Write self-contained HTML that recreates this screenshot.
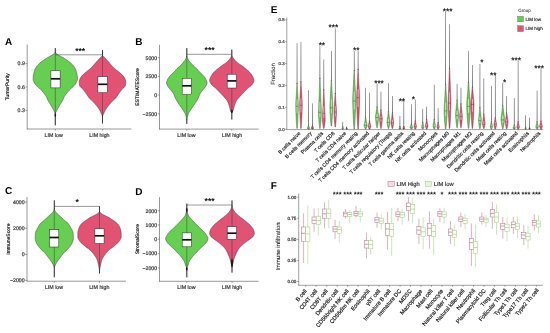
<!DOCTYPE html>
<html><head><meta charset="utf-8"><style>
html,body{margin:0;padding:0;background:#fff;}
svg{display:block;font-family:"Liberation Sans",sans-serif;text-rendering:geometricPrecision;will-change:transform;}
</style></head><body>
<svg width="550" height="333" viewBox="0 0 550 333">
<defs><linearGradient id="tg" x1="0" y1="0" x2="0" y2="1"><stop offset="0" stop-color="#6e6e6e"/><stop offset="1" stop-color="#3c3c3c"/></linearGradient></defs>
<rect width="550" height="333" fill="#fff"/>
<path d="M55.5,52.3 L56.03,53.18 L56.93,54.06 L58.21,54.94 L59.71,55.82 L61.39,56.71 L63.01,57.59 L64.44,58.47 L65.79,59.35 L67.06,60.23 L68.29,61.11 L69.46,61.99 L70.54,62.87 L71.51,63.76 L72.41,64.64 L73.21,65.52 L73.9,66.4 L74.53,67.28 L75.08,68.16 L75.52,69.04 L75.86,69.92 L76.15,70.8 L76.39,71.69 L76.62,72.57 L76.84,73.45 L77.04,74.33 L77.2,75.21 L77.31,76.09 L77.39,76.97 L77.45,77.85 L77.49,78.73 L77.48,79.62 L77.25,80.5 L76.88,81.38 L76.48,82.26 L76.02,83.14 L75.46,84.02 L74.81,84.9 L74.01,85.78 L73.13,86.67 L72.1,87.55 L71.07,88.43 L70.1,89.31 L69.19,90.19 L68.41,91.07 L67.72,91.95 L67.04,92.83 L66.38,93.71 L65.73,94.6 L65.06,95.48 L64.44,96.36 L63.97,97.24 L63.6,98.12 L63.25,99 L62.89,99.88 L62.46,100.76 L61.95,101.64 L61.39,102.53 L60.81,103.41 L60.24,104.29 L59.7,105.17 L59.19,106.05 L58.69,106.93 L58.2,107.81 L57.73,108.69 L57.26,109.58 L56.8,110.46 L56.36,111.34 L55.92,112.22 L55.5,113.1 L55.1,113.1 L54.68,112.22 L54.24,111.34 L53.8,110.46 L53.34,109.58 L52.87,108.69 L52.4,107.81 L51.91,106.93 L51.41,106.05 L50.9,105.17 L50.36,104.29 L49.79,103.41 L49.21,102.53 L48.65,101.64 L48.14,100.76 L47.71,99.88 L47.35,99 L47,98.12 L46.63,97.24 L46.16,96.36 L45.54,95.48 L44.87,94.6 L44.22,93.71 L43.56,92.83 L42.88,91.95 L42.19,91.07 L41.41,90.19 L40.5,89.31 L39.53,88.43 L38.5,87.55 L37.47,86.67 L36.59,85.78 L35.79,84.9 L35.14,84.02 L34.58,83.14 L34.12,82.26 L33.72,81.38 L33.35,80.5 L33.12,79.62 L33.11,78.73 L33.15,77.85 L33.21,76.97 L33.29,76.09 L33.4,75.21 L33.56,74.33 L33.76,73.45 L33.98,72.57 L34.21,71.69 L34.45,70.8 L34.74,69.92 L35.08,69.04 L35.52,68.16 L36.07,67.28 L36.7,66.4 L37.39,65.52 L38.19,64.64 L39.09,63.76 L40.06,62.87 L41.14,61.99 L42.31,61.11 L43.54,60.23 L44.81,59.35 L46.16,58.47 L47.59,57.59 L49.21,56.71 L50.89,55.82 L52.39,54.94 L53.67,54.06 L54.57,53.18 L55.1,52.3Z" fill="#66CF52" stroke="#333" stroke-width="0.45"/>
<line x1="55.3" y1="48.1" x2="55.3" y2="125.3" stroke="#333" stroke-width="0.45"/>
<line x1="55.3" y1="48.1" x2="55.3" y2="52.8" stroke="#222" stroke-width="0.8"/>
<line x1="55.3" y1="112.6" x2="55.3" y2="125.3" stroke="#222" stroke-width="0.8"/>
<path d="M55.6,113.4 L55.73,113.58 L55.85,113.77 L55.95,113.95 L56.04,114.14 L56.09,114.32 L56.1,114.51 L56.1,114.69 L56.1,114.87 L56.09,115.06 L56.08,115.24 L56.07,115.43 L56.04,115.61 L56.01,115.79 L55.97,115.98 L55.91,116.16 L55.84,116.35 L55.76,116.53 L55.66,116.72 L55.55,116.9 L55.05,116.9 L54.94,116.72 L54.84,116.53 L54.76,116.35 L54.69,116.16 L54.63,115.98 L54.59,115.79 L54.56,115.61 L54.53,115.43 L54.52,115.24 L54.51,115.06 L54.5,114.87 L54.5,114.69 L54.5,114.51 L54.51,114.32 L54.56,114.14 L54.65,113.95 L54.75,113.77 L54.87,113.58 L55,113.4Z" fill="#1a0a0c" fill-opacity="0.85"/>
<rect x="50.9" y="70.8" width="9.2" height="17.1" fill="#fff" stroke="#222" stroke-width="0.5"/>
<line x1="50.9" y1="78.8" x2="60.1" y2="78.8" stroke="#111" stroke-width="1.7"/>
<path d="M102.7,55.7 L103.59,56.57 L104.44,57.44 L105.25,58.31 L106.03,59.18 L106.84,60.06 L107.69,60.93 L108.52,61.8 L109.26,62.67 L109.96,63.54 L110.68,64.41 L111.44,65.28 L112.24,66.15 L113.07,67.02 L113.94,67.89 L114.87,68.77 L115.93,69.64 L117.05,70.51 L118.14,71.38 L119.23,72.25 L120.27,73.12 L121.24,73.99 L122.18,74.86 L123.02,75.73 L123.7,76.6 L124.3,77.48 L124.79,78.35 L125.18,79.22 L125.55,80.09 L125.78,80.96 L125.79,81.83 L125.76,82.7 L125.71,83.57 L125.62,84.44 L125.51,85.31 L125.14,86.19 L124.4,87.06 L123.59,87.93 L122.62,88.8 L121.75,89.67 L121.02,90.54 L120.35,91.41 L119.72,92.28 L119.11,93.15 L118.51,94.02 L117.93,94.9 L117.36,95.77 L116.78,96.64 L116.17,97.51 L115.38,98.38 L114.44,99.25 L113.48,100.12 L112.62,100.99 L111.79,101.86 L110.97,102.73 L110.19,103.61 L109.43,104.48 L108.72,105.35 L108.02,106.22 L107.34,107.09 L106.7,107.96 L106.11,108.83 L105.58,109.7 L105.11,110.57 L104.68,111.44 L104.27,112.32 L103.87,113.19 L103.47,114.06 L103.08,114.93 L102.7,115.8 L102.3,115.8 L101.92,114.93 L101.53,114.06 L101.13,113.19 L100.73,112.32 L100.32,111.44 L99.89,110.57 L99.42,109.7 L98.89,108.83 L98.3,107.96 L97.66,107.09 L96.98,106.22 L96.28,105.35 L95.57,104.48 L94.81,103.61 L94.03,102.73 L93.21,101.86 L92.38,100.99 L91.52,100.12 L90.56,99.25 L89.62,98.38 L88.83,97.51 L88.22,96.64 L87.64,95.77 L87.07,94.9 L86.49,94.02 L85.89,93.15 L85.28,92.28 L84.65,91.41 L83.98,90.54 L83.25,89.67 L82.38,88.8 L81.41,87.93 L80.6,87.06 L79.86,86.19 L79.49,85.31 L79.38,84.44 L79.29,83.57 L79.24,82.7 L79.21,81.83 L79.22,80.96 L79.45,80.09 L79.82,79.22 L80.21,78.35 L80.7,77.48 L81.3,76.6 L81.98,75.73 L82.82,74.86 L83.76,73.99 L84.73,73.12 L85.77,72.25 L86.86,71.38 L87.95,70.51 L89.07,69.64 L90.13,68.77 L91.06,67.89 L91.93,67.02 L92.76,66.15 L93.56,65.28 L94.32,64.41 L95.04,63.54 L95.74,62.67 L96.48,61.8 L97.31,60.93 L98.16,60.06 L98.97,59.18 L99.75,58.31 L100.56,57.44 L101.41,56.57 L102.3,55.7Z" fill="#E25272" stroke="#333" stroke-width="0.45"/>
<line x1="102.5" y1="50.1" x2="102.5" y2="123.5" stroke="#333" stroke-width="0.45"/>
<line x1="102.5" y1="50.1" x2="102.5" y2="56.2" stroke="#222" stroke-width="0.8"/>
<line x1="102.5" y1="115.3" x2="102.5" y2="123.5" stroke="#222" stroke-width="0.8"/>
<rect x="97.9" y="76.7" width="9.5" height="16" fill="#fff" stroke="#222" stroke-width="0.5"/>
<line x1="97.9" y1="84.3" x2="107.4" y2="84.3" stroke="#111" stroke-width="1.7"/>
<text x="5" y="44.6" font-size="10" text-anchor="start" fill="#000" font-weight="bold">A</text>
<line x1="27.2" y1="44.5" x2="27.2" y2="129.25" stroke="#444" stroke-width="0.55"/>
<line x1="26.95" y1="129" x2="131.5" y2="129" stroke="#444" stroke-width="0.55"/>
<line x1="25.4" y1="63.6" x2="27.2" y2="63.6" stroke="#444" stroke-width="0.5"/>
<text x="24.8" y="65.4" font-size="5.2" text-anchor="end" fill="#333" font-weight="normal" stroke="#333" stroke-width="0.18">0.9</text>
<line x1="25.4" y1="87" x2="27.2" y2="87" stroke="#444" stroke-width="0.5"/>
<text x="24.8" y="88.8" font-size="5.2" text-anchor="end" fill="#333" font-weight="normal" stroke="#333" stroke-width="0.18">0.6</text>
<line x1="25.4" y1="110.4" x2="27.2" y2="110.4" stroke="#444" stroke-width="0.5"/>
<text x="24.8" y="112.2" font-size="5.2" text-anchor="end" fill="#333" font-weight="normal" stroke="#333" stroke-width="0.18">0.3</text>
<line x1="55.3" y1="129" x2="55.3" y2="130.6" stroke="#444" stroke-width="0.5"/>
<text x="53.7" y="136.8" font-size="5.3" text-anchor="middle" fill="#333" font-weight="normal" stroke="#333" stroke-width="0.18">LIM low</text>
<line x1="102.5" y1="129" x2="102.5" y2="130.6" stroke="#444" stroke-width="0.5"/>
<text x="99.4" y="136.8" font-size="5.3" text-anchor="middle" fill="#333" font-weight="normal" stroke="#333" stroke-width="0.18">LIM high</text>
<text x="9" y="86.75" font-size="5.0" text-anchor="middle" fill="#111" font-weight="normal" stroke="#111" stroke-width="0.18" transform="rotate(-90 9 86.75)">TumorPurity</text>
<line x1="55.3" y1="54.8" x2="102.5" y2="54.8" stroke="#333" stroke-width="0.5"/>
<text x="80.2" y="53.59" font-size="8.6" text-anchor="middle" fill="#111" font-weight="bold">***</text>
<path d="M187,56.6 L187.28,57.52 L187.66,58.43 L188.12,59.35 L188.64,60.27 L189.32,61.19 L190.06,62.1 L190.82,63.02 L191.64,63.94 L192.49,64.86 L193.37,65.77 L194.37,66.69 L195.49,67.61 L196.55,68.53 L197.36,69.44 L197.99,70.36 L198.83,71.28 L199.84,72.2 L200.89,73.11 L201.84,74.03 L202.67,74.95 L203.48,75.87 L204.26,76.78 L204.96,77.7 L205.55,78.62 L206.01,79.53 L206.43,80.45 L206.8,81.37 L207.05,82.29 L207.08,83.2 L206.85,84.12 L206.44,85.04 L205.94,85.96 L205.42,86.87 L204.73,87.79 L203.93,88.71 L203.11,89.63 L202.37,90.54 L201.68,91.46 L200.99,92.38 L200.35,93.3 L199.8,94.21 L199.37,95.13 L199.05,96.05 L198.71,96.97 L198.32,97.88 L197.89,98.8 L197.42,99.72 L196.92,100.63 L196.37,101.55 L195.75,102.47 L195.12,103.39 L194.47,104.3 L193.85,105.22 L193.23,106.14 L192.61,107.06 L191.99,107.97 L191.39,108.89 L190.8,109.81 L190.19,110.73 L189.58,111.64 L189.01,112.56 L188.53,113.48 L188.15,114.4 L187.83,115.31 L187.57,116.23 L187.37,117.15 L187.21,118.07 L187.08,118.98 L187,119.9 L186.6,119.9 L186.52,118.98 L186.39,118.07 L186.23,117.15 L186.03,116.23 L185.77,115.31 L185.45,114.4 L185.07,113.48 L184.59,112.56 L184.02,111.64 L183.41,110.73 L182.8,109.81 L182.21,108.89 L181.61,107.97 L180.99,107.06 L180.37,106.14 L179.75,105.22 L179.13,104.3 L178.48,103.39 L177.85,102.47 L177.23,101.55 L176.68,100.63 L176.18,99.72 L175.71,98.8 L175.28,97.88 L174.89,96.97 L174.55,96.05 L174.23,95.13 L173.8,94.21 L173.25,93.3 L172.61,92.38 L171.92,91.46 L171.23,90.54 L170.49,89.63 L169.67,88.71 L168.87,87.79 L168.18,86.87 L167.66,85.96 L167.16,85.04 L166.75,84.12 L166.52,83.2 L166.55,82.29 L166.8,81.37 L167.17,80.45 L167.59,79.53 L168.05,78.62 L168.64,77.7 L169.34,76.78 L170.12,75.87 L170.93,74.95 L171.76,74.03 L172.71,73.11 L173.76,72.2 L174.77,71.28 L175.61,70.36 L176.24,69.44 L177.05,68.53 L178.11,67.61 L179.23,66.69 L180.23,65.77 L181.11,64.86 L181.96,63.94 L182.78,63.02 L183.54,62.1 L184.28,61.19 L184.96,60.27 L185.48,59.35 L185.94,58.43 L186.32,57.52 L186.6,56.6Z" fill="#66CF52" stroke="#333" stroke-width="0.45"/>
<line x1="186.8" y1="48.1" x2="186.8" y2="123.9" stroke="#333" stroke-width="0.45"/>
<line x1="186.8" y1="48.1" x2="186.8" y2="57.1" stroke="#222" stroke-width="0.8"/>
<line x1="186.8" y1="119.4" x2="186.8" y2="123.9" stroke="#222" stroke-width="0.8"/>
<rect x="182.2" y="78.3" width="9.2" height="16.3" fill="#fff" stroke="#222" stroke-width="0.5"/>
<line x1="182.2" y1="85.8" x2="191.4" y2="85.8" stroke="#111" stroke-width="1.7"/>
<path d="M232,55.9 L232.37,56.72 L232.83,57.55 L233.39,58.37 L234.05,59.19 L234.73,60.02 L235.44,60.84 L236.23,61.66 L237.16,62.49 L238.28,63.31 L239.53,64.13 L240.79,64.96 L241.97,65.78 L243.04,66.6 L244.06,67.42 L245.08,68.25 L246.16,69.07 L247.25,69.89 L248.15,70.72 L248.99,71.54 L249.79,72.36 L250.52,73.19 L251.17,74.01 L251.73,74.83 L252.19,75.66 L252.65,76.48 L253.08,77.3 L253.46,78.13 L253.77,78.95 L253.95,79.77 L253.99,80.6 L253.83,81.42 L253.5,82.24 L253.05,83.07 L252.53,83.89 L251.98,84.71 L251.19,85.53 L250.22,86.36 L249.17,87.18 L248.15,88 L247.26,88.83 L246.44,89.65 L245.65,90.47 L244.86,91.3 L244.08,92.12 L243.28,92.94 L242.47,93.77 L241.67,94.59 L240.88,95.41 L240.13,96.24 L239.41,97.06 L238.67,97.88 L237.95,98.71 L237.28,99.53 L236.69,100.35 L236.21,101.18 L235.81,102 L235.45,102.82 L235.13,103.64 L234.84,104.47 L234.57,105.29 L234.32,106.11 L234.11,106.94 L233.92,107.76 L233.72,108.58 L233.49,109.41 L233.22,110.23 L232.86,111.05 L232.45,111.88 L232,112.7 L231.6,112.7 L231.15,111.88 L230.74,111.05 L230.38,110.23 L230.11,109.41 L229.88,108.58 L229.68,107.76 L229.49,106.94 L229.28,106.11 L229.03,105.29 L228.76,104.47 L228.47,103.64 L228.15,102.82 L227.79,102 L227.39,101.18 L226.91,100.35 L226.32,99.53 L225.65,98.71 L224.93,97.88 L224.19,97.06 L223.47,96.24 L222.72,95.41 L221.93,94.59 L221.13,93.77 L220.32,92.94 L219.52,92.12 L218.74,91.3 L217.95,90.47 L217.16,89.65 L216.34,88.83 L215.45,88 L214.43,87.18 L213.38,86.36 L212.41,85.53 L211.62,84.71 L211.07,83.89 L210.55,83.07 L210.1,82.24 L209.77,81.42 L209.61,80.6 L209.65,79.77 L209.83,78.95 L210.14,78.13 L210.52,77.3 L210.95,76.48 L211.41,75.66 L211.87,74.83 L212.43,74.01 L213.08,73.19 L213.81,72.36 L214.61,71.54 L215.45,70.72 L216.35,69.89 L217.44,69.07 L218.52,68.25 L219.54,67.42 L220.56,66.6 L221.63,65.78 L222.81,64.96 L224.07,64.13 L225.32,63.31 L226.44,62.49 L227.37,61.66 L228.16,60.84 L228.87,60.02 L229.55,59.19 L230.21,58.37 L230.77,57.55 L231.23,56.72 L231.6,55.9Z" fill="#E25272" stroke="#333" stroke-width="0.45"/>
<line x1="231.8" y1="49.6" x2="231.8" y2="119.5" stroke="#333" stroke-width="0.45"/>
<line x1="231.8" y1="49.6" x2="231.8" y2="56.4" stroke="#222" stroke-width="0.8"/>
<line x1="231.8" y1="112.2" x2="231.8" y2="119.5" stroke="#222" stroke-width="0.8"/>
<path d="M232.1,109.8 L232.3,109.97 L232.5,110.14 L232.67,110.31 L232.8,110.47 L232.88,110.64 L232.9,110.81 L232.9,110.98 L232.9,111.15 L232.89,111.32 L232.87,111.48 L232.85,111.65 L232.81,111.82 L232.76,111.99 L232.69,112.16 L232.61,112.33 L232.51,112.49 L232.38,112.66 L232.23,112.83 L232.05,113 L231.55,113 L231.37,112.83 L231.22,112.66 L231.09,112.49 L230.99,112.33 L230.91,112.16 L230.84,111.99 L230.79,111.82 L230.75,111.65 L230.73,111.48 L230.71,111.32 L230.7,111.15 L230.7,110.98 L230.7,110.81 L230.72,110.64 L230.8,110.47 L230.93,110.31 L231.1,110.14 L231.3,109.97 L231.5,109.8Z" fill="#1a0a0c" fill-opacity="0.85"/>
<rect x="227.2" y="74.2" width="9.2" height="13.8" fill="#fff" stroke="#222" stroke-width="0.5"/>
<line x1="227.2" y1="80.9" x2="236.4" y2="80.9" stroke="#111" stroke-width="1.7"/>
<text x="135.2" y="44.6" font-size="10" text-anchor="start" fill="#000" font-weight="bold">B</text>
<line x1="159.5" y1="44.8" x2="159.5" y2="129.35" stroke="#444" stroke-width="0.55"/>
<line x1="159.25" y1="129.1" x2="258.6" y2="129.1" stroke="#444" stroke-width="0.55"/>
<line x1="157.7" y1="57.7" x2="159.5" y2="57.7" stroke="#444" stroke-width="0.5"/>
<text x="157.1" y="59.5" font-size="5.2" text-anchor="end" fill="#333" font-weight="normal" stroke="#333" stroke-width="0.18">5000</text>
<line x1="157.7" y1="76.4" x2="159.5" y2="76.4" stroke="#444" stroke-width="0.5"/>
<text x="157.1" y="78.2" font-size="5.2" text-anchor="end" fill="#333" font-weight="normal" stroke="#333" stroke-width="0.18">2500</text>
<line x1="157.7" y1="95.1" x2="159.5" y2="95.1" stroke="#444" stroke-width="0.5"/>
<text x="157.1" y="96.9" font-size="5.2" text-anchor="end" fill="#333" font-weight="normal" stroke="#333" stroke-width="0.18">0</text>
<line x1="157.7" y1="113.8" x2="159.5" y2="113.8" stroke="#444" stroke-width="0.5"/>
<text x="157.1" y="115.6" font-size="5.2" text-anchor="end" fill="#333" font-weight="normal" stroke="#333" stroke-width="0.18">−2500</text>
<line x1="186.8" y1="129.1" x2="186.8" y2="130.7" stroke="#444" stroke-width="0.5"/>
<text x="186.4" y="136.9" font-size="5.3" text-anchor="middle" fill="#333" font-weight="normal" stroke="#333" stroke-width="0.18">LIM low</text>
<line x1="231.8" y1="129.1" x2="231.8" y2="130.7" stroke="#444" stroke-width="0.5"/>
<text x="232" y="136.9" font-size="5.3" text-anchor="middle" fill="#333" font-weight="normal" stroke="#333" stroke-width="0.18">LIM high</text>
<text x="138.8" y="86.95" font-size="5.0" text-anchor="middle" fill="#111" font-weight="normal" stroke="#111" stroke-width="0.18" transform="rotate(-90 138.8 86.95)">ESTIMATEScore</text>
<line x1="186.8" y1="54.3" x2="231.8" y2="54.3" stroke="#333" stroke-width="0.5"/>
<text x="209.6" y="53.29" font-size="8.6" text-anchor="middle" fill="#111" font-weight="bold">***</text>
<path d="M54.5,208.8 L54.63,209.64 L54.93,210.48 L55.32,211.33 L55.84,212.17 L56.62,213.01 L57.45,213.85 L58.39,214.69 L59.37,215.54 L60.32,216.38 L61.26,217.22 L62.17,218.06 L63,218.9 L63.82,219.75 L64.7,220.59 L65.77,221.43 L66.89,222.27 L67.81,223.11 L68.51,223.96 L69.13,224.8 L69.68,225.64 L70.19,226.48 L70.65,227.32 L71.08,228.17 L71.52,229.01 L71.97,229.85 L72.4,230.69 L72.77,231.53 L73.04,232.38 L73.19,233.22 L73.25,234.06 L73.3,234.9 L73.34,235.74 L73.37,236.59 L73.39,237.43 L73.4,238.27 L73.36,239.11 L73.2,239.96 L72.97,240.8 L72.67,241.64 L72.33,242.48 L71.97,243.32 L71.58,244.17 L71.08,245.01 L70.49,245.85 L69.84,246.69 L69.14,247.53 L68.44,248.38 L67.64,249.22 L66.75,250.06 L65.83,250.9 L64.93,251.74 L64.12,252.59 L63.39,253.43 L62.7,254.27 L62.04,255.11 L61.4,255.95 L60.76,256.8 L60.11,257.64 L59.46,258.48 L58.82,259.32 L58.2,260.16 L57.62,261.01 L57.08,261.85 L56.58,262.69 L56.11,263.53 L55.66,264.37 L55.24,265.22 L54.86,266.06 L54.5,266.9 L54.1,266.9 L53.74,266.06 L53.36,265.22 L52.94,264.37 L52.49,263.53 L52.02,262.69 L51.52,261.85 L50.98,261.01 L50.4,260.16 L49.78,259.32 L49.14,258.48 L48.49,257.64 L47.84,256.8 L47.2,255.95 L46.56,255.11 L45.9,254.27 L45.21,253.43 L44.48,252.59 L43.67,251.74 L42.77,250.9 L41.85,250.06 L40.96,249.22 L40.16,248.38 L39.46,247.53 L38.76,246.69 L38.11,245.85 L37.52,245.01 L37.02,244.17 L36.63,243.32 L36.27,242.48 L35.93,241.64 L35.63,240.8 L35.4,239.96 L35.24,239.11 L35.2,238.27 L35.21,237.43 L35.23,236.59 L35.26,235.74 L35.3,234.9 L35.35,234.06 L35.41,233.22 L35.56,232.38 L35.83,231.53 L36.2,230.69 L36.63,229.85 L37.08,229.01 L37.52,228.17 L37.95,227.32 L38.41,226.48 L38.92,225.64 L39.47,224.8 L40.09,223.96 L40.79,223.11 L41.71,222.27 L42.83,221.43 L43.9,220.59 L44.78,219.75 L45.6,218.9 L46.43,218.06 L47.34,217.22 L48.28,216.38 L49.23,215.54 L50.21,214.69 L51.15,213.85 L51.98,213.01 L52.76,212.17 L53.28,211.33 L53.67,210.48 L53.97,209.64 L54.1,208.8Z" fill="#66CF52" stroke="#333" stroke-width="0.45"/>
<line x1="54.3" y1="200.3" x2="54.3" y2="277.3" stroke="#333" stroke-width="0.45"/>
<line x1="54.3" y1="200.3" x2="54.3" y2="209.3" stroke="#222" stroke-width="0.8"/>
<line x1="54.3" y1="266.4" x2="54.3" y2="277.3" stroke="#222" stroke-width="0.8"/>
<rect x="49.6" y="229.7" width="9.2" height="17.3" fill="#fff" stroke="#222" stroke-width="0.5"/>
<line x1="49.6" y1="237.5" x2="58.8" y2="237.5" stroke="#111" stroke-width="1.7"/>
<path d="M99.7,211.7 L100.27,212.54 L101.17,213.39 L102.47,214.23 L103.98,215.07 L105.67,215.92 L107.54,216.76 L109.08,217.6 L110.43,218.45 L111.67,219.29 L112.85,220.13 L114.04,220.98 L115.22,221.82 L116.32,222.67 L117.28,223.51 L118.02,224.35 L118.63,225.2 L119.17,226.04 L119.63,226.88 L120.01,227.73 L120.28,228.57 L120.52,229.41 L120.75,230.26 L120.94,231.1 L121.09,231.94 L121.18,232.79 L121.2,233.63 L121.2,234.47 L121.2,235.32 L121.2,236.16 L121.2,237 L121.16,237.85 L120.81,238.69 L120.29,239.53 L119.77,240.38 L119.21,241.22 L118.56,242.07 L117.82,242.91 L116.93,243.75 L115.94,244.6 L114.89,245.44 L113.84,246.28 L112.78,247.13 L111.65,247.97 L110.52,248.81 L109.44,249.66 L108.5,250.5 L107.67,251.34 L106.91,252.19 L106.19,253.03 L105.52,253.87 L104.9,254.72 L104.31,255.56 L103.72,256.4 L103.16,257.25 L102.66,258.09 L102.23,258.93 L101.9,259.78 L101.63,260.62 L101.39,261.47 L101.18,262.31 L100.99,263.15 L100.8,264 L100.62,264.84 L100.44,265.68 L100.27,266.53 L100.11,267.37 L99.96,268.21 L99.83,269.06 L99.7,269.9 L99.3,269.9 L99.17,269.06 L99.04,268.21 L98.89,267.37 L98.73,266.53 L98.56,265.68 L98.38,264.84 L98.2,264 L98.01,263.15 L97.82,262.31 L97.61,261.47 L97.37,260.62 L97.1,259.78 L96.77,258.93 L96.34,258.09 L95.84,257.25 L95.28,256.4 L94.69,255.56 L94.1,254.72 L93.48,253.87 L92.81,253.03 L92.09,252.19 L91.33,251.34 L90.5,250.5 L89.56,249.66 L88.48,248.81 L87.35,247.97 L86.22,247.13 L85.16,246.28 L84.11,245.44 L83.06,244.6 L82.07,243.75 L81.18,242.91 L80.44,242.07 L79.79,241.22 L79.23,240.38 L78.71,239.53 L78.19,238.69 L77.84,237.85 L77.8,237 L77.8,236.16 L77.8,235.32 L77.8,234.47 L77.8,233.63 L77.82,232.79 L77.91,231.94 L78.06,231.1 L78.25,230.26 L78.48,229.41 L78.72,228.57 L78.99,227.73 L79.37,226.88 L79.83,226.04 L80.37,225.2 L80.98,224.35 L81.72,223.51 L82.68,222.67 L83.78,221.82 L84.96,220.98 L86.15,220.13 L87.33,219.29 L88.57,218.45 L89.92,217.6 L91.46,216.76 L93.33,215.92 L95.02,215.07 L96.53,214.23 L97.83,213.39 L98.73,212.54 L99.3,211.7Z" fill="#E25272" stroke="#333" stroke-width="0.45"/>
<line x1="99.5" y1="206.3" x2="99.5" y2="273.5" stroke="#333" stroke-width="0.45"/>
<line x1="99.5" y1="206.3" x2="99.5" y2="212.2" stroke="#222" stroke-width="0.8"/>
<line x1="99.5" y1="269.4" x2="99.5" y2="273.5" stroke="#222" stroke-width="0.8"/>
<rect x="94.9" y="228.8" width="9.2" height="14.7" fill="#fff" stroke="#222" stroke-width="0.5"/>
<line x1="94.9" y1="235.8" x2="104.1" y2="235.8" stroke="#111" stroke-width="1.7"/>
<text x="5" y="194.2" font-size="10" text-anchor="start" fill="#000" font-weight="bold">C</text>
<line x1="27" y1="197.1" x2="27" y2="281.45" stroke="#444" stroke-width="0.55"/>
<line x1="26.75" y1="281.2" x2="126" y2="281.2" stroke="#444" stroke-width="0.55"/>
<line x1="25.2" y1="202.2" x2="27" y2="202.2" stroke="#444" stroke-width="0.5"/>
<text x="24.6" y="204" font-size="5.2" text-anchor="end" fill="#333" font-weight="normal" stroke="#333" stroke-width="0.18">4000</text>
<line x1="25.2" y1="228.3" x2="27" y2="228.3" stroke="#444" stroke-width="0.5"/>
<text x="24.6" y="230.1" font-size="5.2" text-anchor="end" fill="#333" font-weight="normal" stroke="#333" stroke-width="0.18">2000</text>
<line x1="25.2" y1="254.4" x2="27" y2="254.4" stroke="#444" stroke-width="0.5"/>
<text x="24.6" y="256.2" font-size="5.2" text-anchor="end" fill="#333" font-weight="normal" stroke="#333" stroke-width="0.18">0</text>
<line x1="25.2" y1="280.3" x2="27" y2="280.3" stroke="#444" stroke-width="0.5"/>
<text x="24.6" y="282.1" font-size="5.2" text-anchor="end" fill="#333" font-weight="normal" stroke="#333" stroke-width="0.18">−2000</text>
<line x1="54.3" y1="281.2" x2="54.3" y2="282.8" stroke="#444" stroke-width="0.5"/>
<text x="54" y="289" font-size="5.3" text-anchor="middle" fill="#333" font-weight="normal" stroke="#333" stroke-width="0.18">LIM low</text>
<line x1="99.5" y1="281.2" x2="99.5" y2="282.8" stroke="#444" stroke-width="0.5"/>
<text x="99.3" y="289" font-size="5.3" text-anchor="middle" fill="#333" font-weight="normal" stroke="#333" stroke-width="0.18">LIM high</text>
<text x="9.6" y="239.15" font-size="5.0" text-anchor="middle" fill="#111" font-weight="normal" stroke="#111" stroke-width="0.18" transform="rotate(-90 9.6 239.15)">ImmuneScore</text>
<line x1="54.3" y1="206.4" x2="99.5" y2="206.4" stroke="#333" stroke-width="0.5"/>
<text x="77.2" y="205.39" font-size="8.6" text-anchor="middle" fill="#111" font-weight="bold">*</text>
<path d="M187,210.8 L187.22,211.62 L187.44,212.44 L187.67,213.27 L187.89,214.09 L188.15,214.91 L188.52,215.73 L189.09,216.55 L189.77,217.37 L190.46,218.2 L191.17,219.02 L191.93,219.84 L192.71,220.66 L193.5,221.48 L194.28,222.3 L195.07,223.13 L195.86,223.95 L196.67,224.77 L197.49,225.59 L198.32,226.41 L199.15,227.23 L200,228.06 L200.89,228.88 L201.85,229.7 L202.73,230.52 L203.54,231.34 L204.32,232.17 L205.03,232.99 L205.65,233.81 L206.17,234.63 L206.68,235.45 L207.17,236.27 L207.59,237.1 L207.88,237.92 L208,238.74 L207.89,239.56 L207.58,240.38 L207.14,241.2 L206.63,242.03 L206.1,242.85 L205.4,243.67 L204.57,244.49 L203.68,245.31 L202.78,246.13 L201.92,246.96 L201.04,247.78 L200.16,248.6 L199.28,249.42 L198.44,250.24 L197.7,251.07 L197.03,251.89 L196.29,252.71 L195.37,253.53 L194.44,254.35 L193.69,255.17 L193.04,256 L192.43,256.82 L191.83,257.64 L191.22,258.46 L190.62,259.28 L190.07,260.1 L189.58,260.93 L189.19,261.75 L188.89,262.57 L188.64,263.39 L188.41,264.21 L188.16,265.03 L187.86,265.86 L187.47,266.68 L187,267.5 L186.6,267.5 L186.13,266.68 L185.74,265.86 L185.44,265.03 L185.19,264.21 L184.96,263.39 L184.71,262.57 L184.41,261.75 L184.02,260.93 L183.53,260.1 L182.98,259.28 L182.38,258.46 L181.77,257.64 L181.17,256.82 L180.56,256 L179.91,255.17 L179.16,254.35 L178.23,253.53 L177.31,252.71 L176.57,251.89 L175.9,251.07 L175.16,250.24 L174.32,249.42 L173.44,248.6 L172.56,247.78 L171.68,246.96 L170.82,246.13 L169.92,245.31 L169.03,244.49 L168.2,243.67 L167.5,242.85 L166.97,242.03 L166.46,241.2 L166.02,240.38 L165.71,239.56 L165.6,238.74 L165.72,237.92 L166.01,237.1 L166.43,236.27 L166.92,235.45 L167.43,234.63 L167.95,233.81 L168.57,232.99 L169.28,232.17 L170.06,231.34 L170.87,230.52 L171.75,229.7 L172.71,228.88 L173.6,228.06 L174.45,227.23 L175.28,226.41 L176.11,225.59 L176.93,224.77 L177.74,223.95 L178.53,223.13 L179.32,222.3 L180.1,221.48 L180.89,220.66 L181.67,219.84 L182.43,219.02 L183.14,218.2 L183.83,217.37 L184.51,216.55 L185.08,215.73 L185.45,214.91 L185.71,214.09 L185.93,213.27 L186.16,212.44 L186.38,211.62 L186.6,210.8Z" fill="#66CF52" stroke="#333" stroke-width="0.45"/>
<line x1="186.8" y1="203.6" x2="186.8" y2="277.3" stroke="#333" stroke-width="0.45"/>
<line x1="186.8" y1="203.6" x2="186.8" y2="211.3" stroke="#222" stroke-width="0.8"/>
<line x1="186.8" y1="267" x2="186.8" y2="277.3" stroke="#222" stroke-width="0.8"/>
<path d="M187.1,208.1 L187.25,208.32 L187.4,208.53 L187.53,208.75 L187.63,208.96 L187.69,209.18 L187.7,209.39 L187.7,209.61 L187.7,209.83 L187.69,210.04 L187.68,210.26 L187.66,210.47 L187.63,210.69 L187.59,210.91 L187.54,211.12 L187.48,211.34 L187.4,211.55 L187.3,211.77 L187.19,211.98 L187.05,212.2 L186.55,212.2 L186.41,211.98 L186.3,211.77 L186.2,211.55 L186.12,211.34 L186.06,211.12 L186.01,210.91 L185.97,210.69 L185.94,210.47 L185.92,210.26 L185.91,210.04 L185.9,209.83 L185.9,209.61 L185.9,209.39 L185.91,209.18 L185.97,208.96 L186.07,208.75 L186.2,208.53 L186.35,208.32 L186.5,208.1Z" fill="#1a0a0c" fill-opacity="0.85"/>
<path d="M187.1,267.5 L187.25,267.67 L187.4,267.84 L187.53,268.01 L187.63,268.17 L187.69,268.34 L187.7,268.51 L187.7,268.68 L187.7,268.85 L187.69,269.02 L187.68,269.18 L187.66,269.35 L187.63,269.52 L187.59,269.69 L187.54,269.86 L187.48,270.03 L187.4,270.19 L187.3,270.36 L187.19,270.53 L187.05,270.7 L186.55,270.7 L186.41,270.53 L186.3,270.36 L186.2,270.19 L186.12,270.03 L186.06,269.86 L186.01,269.69 L185.97,269.52 L185.94,269.35 L185.92,269.18 L185.91,269.02 L185.9,268.85 L185.9,268.68 L185.9,268.51 L185.91,268.34 L185.97,268.17 L186.07,268.01 L186.2,267.84 L186.35,267.67 L186.5,267.5Z" fill="#1a0a0c" fill-opacity="0.85"/>
<rect x="182.2" y="232.9" width="9.2" height="13.9" fill="#fff" stroke="#222" stroke-width="0.5"/>
<line x1="182.2" y1="239.8" x2="191.4" y2="239.8" stroke="#111" stroke-width="1.7"/>
<path d="M232.2,205.9 L232.4,206.79 L232.65,207.67 L232.93,208.56 L233.27,209.44 L233.73,210.33 L234.29,211.21 L234.92,212.1 L235.64,212.98 L236.47,213.87 L237.45,214.76 L238.55,215.64 L239.67,216.53 L240.81,217.41 L241.95,218.3 L243.08,219.18 L244.2,220.07 L245.31,220.95 L246.38,221.84 L247.41,222.72 L248.45,223.61 L249.46,224.5 L250.37,225.38 L251.15,226.27 L251.85,227.15 L252.5,228.04 L253.06,228.92 L253.51,229.81 L253.83,230.69 L254.1,231.58 L254.31,232.47 L254.4,233.35 L254.27,234.24 L253.92,235.12 L253.44,236.01 L252.8,236.89 L251.75,237.78 L250.59,238.66 L249.35,239.55 L248.09,240.43 L246.91,241.32 L245.74,242.21 L244.61,243.09 L243.52,243.98 L242.5,244.86 L241.51,245.75 L240.58,246.63 L239.75,247.52 L239.05,248.4 L238.44,249.29 L237.9,250.18 L237.41,251.06 L236.96,251.95 L236.55,252.83 L236.15,253.72 L235.75,254.6 L235.36,255.49 L234.98,256.37 L234.62,257.26 L234.28,258.14 L233.99,259.03 L233.74,259.92 L233.51,260.8 L233.3,261.69 L233.1,262.57 L232.9,263.46 L232.71,264.34 L232.53,265.23 L232.36,266.11 L232.2,267 L231.8,267 L231.64,266.11 L231.47,265.23 L231.29,264.34 L231.1,263.46 L230.9,262.57 L230.7,261.69 L230.49,260.8 L230.26,259.92 L230.01,259.03 L229.72,258.14 L229.38,257.26 L229.02,256.37 L228.64,255.49 L228.25,254.6 L227.85,253.72 L227.45,252.83 L227.04,251.95 L226.59,251.06 L226.1,250.18 L225.56,249.29 L224.95,248.4 L224.25,247.52 L223.42,246.63 L222.49,245.75 L221.5,244.86 L220.48,243.98 L219.39,243.09 L218.26,242.21 L217.09,241.32 L215.91,240.43 L214.65,239.55 L213.41,238.66 L212.25,237.78 L211.2,236.89 L210.56,236.01 L210.08,235.12 L209.73,234.24 L209.6,233.35 L209.69,232.47 L209.9,231.58 L210.17,230.69 L210.49,229.81 L210.94,228.92 L211.5,228.04 L212.15,227.15 L212.85,226.27 L213.63,225.38 L214.54,224.5 L215.55,223.61 L216.59,222.72 L217.62,221.84 L218.69,220.95 L219.8,220.07 L220.92,219.18 L222.05,218.3 L223.19,217.41 L224.33,216.53 L225.45,215.64 L226.55,214.76 L227.53,213.87 L228.36,212.98 L229.08,212.1 L229.71,211.21 L230.27,210.33 L230.73,209.44 L231.07,208.56 L231.35,207.67 L231.6,206.79 L231.8,205.9Z" fill="#E25272" stroke="#333" stroke-width="0.45"/>
<line x1="232" y1="200.5" x2="232" y2="272.6" stroke="#333" stroke-width="0.45"/>
<line x1="232" y1="200.5" x2="232" y2="206.4" stroke="#222" stroke-width="0.8"/>
<line x1="232" y1="266.5" x2="232" y2="272.6" stroke="#222" stroke-width="0.8"/>
<path d="M232.3,258.8 L232.5,259.25 L232.7,259.69 L232.87,260.14 L233,260.59 L233.08,261.04 L233.1,261.48 L233.1,261.93 L233.1,262.38 L233.09,262.83 L233.07,263.27 L233.05,263.72 L233.01,264.17 L232.96,264.62 L232.89,265.06 L232.81,265.51 L232.71,265.96 L232.58,266.41 L232.43,266.85 L232.25,267.3 L231.75,267.3 L231.57,266.85 L231.42,266.41 L231.29,265.96 L231.19,265.51 L231.11,265.06 L231.04,264.62 L230.99,264.17 L230.95,263.72 L230.93,263.27 L230.91,262.83 L230.9,262.38 L230.9,261.93 L230.9,261.48 L230.92,261.04 L231,260.59 L231.13,260.14 L231.3,259.69 L231.5,259.25 L231.7,258.8Z" fill="#1a0a0c" fill-opacity="0.85"/>
<rect x="227.2" y="226.7" width="9.4" height="12.6" fill="#fff" stroke="#222" stroke-width="0.5"/>
<line x1="227.2" y1="233.2" x2="236.6" y2="233.2" stroke="#111" stroke-width="1.7"/>
<text x="135.3" y="194.6" font-size="10" text-anchor="start" fill="#000" font-weight="bold">D</text>
<line x1="159.5" y1="197.1" x2="159.5" y2="281.55" stroke="#444" stroke-width="0.55"/>
<line x1="159.25" y1="281.3" x2="258.6" y2="281.3" stroke="#444" stroke-width="0.55"/>
<line x1="157.7" y1="210.7" x2="159.5" y2="210.7" stroke="#444" stroke-width="0.5"/>
<text x="157.1" y="212.5" font-size="5.2" text-anchor="end" fill="#333" font-weight="normal" stroke="#333" stroke-width="0.18">2000</text>
<line x1="157.7" y1="225" x2="159.5" y2="225" stroke="#444" stroke-width="0.5"/>
<text x="157.1" y="226.8" font-size="5.2" text-anchor="end" fill="#333" font-weight="normal" stroke="#333" stroke-width="0.18">1000</text>
<line x1="157.7" y1="239.3" x2="159.5" y2="239.3" stroke="#444" stroke-width="0.5"/>
<text x="157.1" y="241.1" font-size="5.2" text-anchor="end" fill="#333" font-weight="normal" stroke="#333" stroke-width="0.18">0</text>
<line x1="157.7" y1="253.6" x2="159.5" y2="253.6" stroke="#444" stroke-width="0.5"/>
<text x="157.1" y="255.4" font-size="5.2" text-anchor="end" fill="#333" font-weight="normal" stroke="#333" stroke-width="0.18">−1000</text>
<line x1="157.7" y1="267.9" x2="159.5" y2="267.9" stroke="#444" stroke-width="0.5"/>
<text x="157.1" y="269.7" font-size="5.2" text-anchor="end" fill="#333" font-weight="normal" stroke="#333" stroke-width="0.18">−2000</text>
<line x1="186.8" y1="281.3" x2="186.8" y2="282.9" stroke="#444" stroke-width="0.5"/>
<text x="186.4" y="289.1" font-size="5.3" text-anchor="middle" fill="#333" font-weight="normal" stroke="#333" stroke-width="0.18">LIM low</text>
<line x1="232" y1="281.3" x2="232" y2="282.9" stroke="#444" stroke-width="0.5"/>
<text x="232" y="289.1" font-size="5.3" text-anchor="middle" fill="#333" font-weight="normal" stroke="#333" stroke-width="0.18">LIM high</text>
<text x="138.8" y="239.2" font-size="5.0" text-anchor="middle" fill="#111" font-weight="normal" stroke="#111" stroke-width="0.18" transform="rotate(-90 138.8 239.2)">StromalScore</text>
<line x1="186.8" y1="205" x2="232" y2="205" stroke="#333" stroke-width="0.5"/>
<text x="209.6" y="203.99" font-size="8.6" text-anchor="middle" fill="#111" font-weight="bold">***</text>
<text x="270.8" y="13.3" font-size="10" text-anchor="start" fill="#000" font-weight="bold">E</text>
<line x1="286.8" y1="17.5" x2="286.8" y2="129.85" stroke="#444" stroke-width="0.5"/>
<line x1="286.55" y1="129.6" x2="543.2" y2="129.6" stroke="#444" stroke-width="0.5"/>
<line x1="285.2" y1="129.3" x2="286.8" y2="129.3" stroke="#444" stroke-width="0.45"/>
<text x="284.6" y="130.8" font-size="4.3" text-anchor="end" fill="#333" font-weight="normal" stroke="#333" stroke-width="0.18">0.0</text>
<line x1="285.2" y1="107.4" x2="286.8" y2="107.4" stroke="#444" stroke-width="0.45"/>
<text x="284.6" y="108.9" font-size="4.3" text-anchor="end" fill="#333" font-weight="normal" stroke="#333" stroke-width="0.18">0.1</text>
<line x1="285.2" y1="85.5" x2="286.8" y2="85.5" stroke="#444" stroke-width="0.45"/>
<text x="284.6" y="87" font-size="4.3" text-anchor="end" fill="#333" font-weight="normal" stroke="#333" stroke-width="0.18">0.2</text>
<line x1="285.2" y1="63.6" x2="286.8" y2="63.6" stroke="#444" stroke-width="0.45"/>
<text x="284.6" y="65.1" font-size="4.3" text-anchor="end" fill="#333" font-weight="normal" stroke="#333" stroke-width="0.18">0.3</text>
<line x1="285.2" y1="41.7" x2="286.8" y2="41.7" stroke="#444" stroke-width="0.45"/>
<text x="284.6" y="43.2" font-size="4.3" text-anchor="end" fill="#333" font-weight="normal" stroke="#333" stroke-width="0.18">0.4</text>
<line x1="285.2" y1="19.8" x2="286.8" y2="19.8" stroke="#444" stroke-width="0.45"/>
<text x="284.6" y="21.3" font-size="4.3" text-anchor="end" fill="#333" font-weight="normal" stroke="#333" stroke-width="0.18">0.5</text>
<text x="275" y="74" font-size="6.0" text-anchor="middle" fill="#222" font-weight="normal" stroke="#222" stroke-width="0.05" transform="rotate(-90 275 74)">Fraction</text>
<rect x="296.72" y="43.2" width="0.66" height="40.8" fill="url(#tg)" stroke="none" stroke-width="0.5"/>
<path d="M297.15,83 L297.2,83.93 L297.26,84.85 L297.31,85.78 L297.36,86.71 L297.41,87.63 L297.46,88.56 L297.51,89.49 L297.57,90.41 L297.62,91.34 L297.67,92.27 L297.72,93.19 L297.77,94.12 L297.82,95.04 L297.88,95.97 L297.94,96.9 L298.01,97.82 L298.07,98.75 L298.14,99.68 L298.2,100.6 L298.25,101.53 L298.3,102.46 L298.33,103.38 L298.36,104.31 L298.37,105.24 L298.37,106.16 L298.36,107.09 L298.34,108.02 L298.32,108.94 L298.29,109.87 L298.26,110.8 L298.23,111.72 L298.19,112.65 L298.15,113.58 L298.11,114.5 L298.07,115.43 L298.03,116.36 L297.99,117.28 L297.94,118.21 L297.9,119.13 L297.85,120.06 L297.8,120.99 L297.74,121.91 L297.69,122.84 L297.63,123.77 L297.57,124.69 L297.5,125.62 L297.44,126.55 L297.37,127.47 L297.3,128.4 L296.8,128.4 L296.73,127.47 L296.66,126.55 L296.6,125.62 L296.53,124.69 L296.47,123.77 L296.41,122.84 L296.36,121.91 L296.3,120.99 L296.25,120.06 L296.2,119.13 L296.16,118.21 L296.11,117.28 L296.07,116.36 L296.03,115.43 L295.99,114.5 L295.95,113.58 L295.91,112.65 L295.87,111.72 L295.84,110.8 L295.81,109.87 L295.78,108.94 L295.76,108.02 L295.74,107.09 L295.73,106.16 L295.73,105.24 L295.74,104.31 L295.77,103.38 L295.8,102.46 L295.85,101.53 L295.9,100.6 L295.96,99.68 L296.03,98.75 L296.09,97.82 L296.16,96.9 L296.22,95.97 L296.28,95.04 L296.33,94.12 L296.38,93.19 L296.43,92.27 L296.48,91.34 L296.53,90.41 L296.59,89.49 L296.64,88.56 L296.69,87.63 L296.74,86.71 L296.79,85.78 L296.84,84.85 L296.9,83.93 L296.95,83Z" fill="#66CF52" stroke="#2a4a26" stroke-width="0.4"/>
<rect x="296.65" y="99.31" width="0.79" height="13.62" fill="#fff" stroke="none" stroke-width="0" fill-opacity="0.6"/>
<line x1="296.13" y1="106.3" x2="297.97" y2="106.3" stroke="#333" stroke-width="0.45"/>
<rect x="300.62" y="42" width="0.66" height="40.5" fill="url(#tg)" stroke="none" stroke-width="0.5"/>
<path d="M301.05,81.5 L301.1,82.46 L301.16,83.41 L301.21,84.37 L301.26,85.33 L301.31,86.29 L301.37,87.24 L301.42,88.2 L301.47,89.16 L301.52,90.11 L301.57,91.07 L301.62,92.03 L301.68,92.99 L301.73,93.94 L301.79,94.9 L301.85,95.86 L301.92,96.81 L301.98,97.77 L302.05,98.73 L302.11,99.69 L302.16,100.64 L302.2,101.6 L302.24,102.56 L302.26,103.51 L302.27,104.47 L302.27,105.43 L302.26,106.39 L302.24,107.34 L302.22,108.3 L302.19,109.26 L302.16,110.21 L302.12,111.17 L302.08,112.13 L302.04,113.09 L302,114.04 L301.96,115 L301.92,115.96 L301.88,116.91 L301.84,117.87 L301.79,118.83 L301.75,119.79 L301.69,120.74 L301.64,121.7 L301.58,122.66 L301.53,123.61 L301.46,124.57 L301.4,125.53 L301.34,126.49 L301.27,127.44 L301.2,128.4 L300.7,128.4 L300.63,127.44 L300.56,126.49 L300.5,125.53 L300.44,124.57 L300.37,123.61 L300.32,122.66 L300.26,121.7 L300.21,120.74 L300.15,119.79 L300.11,118.83 L300.06,117.87 L300.02,116.91 L299.98,115.96 L299.94,115 L299.9,114.04 L299.86,113.09 L299.82,112.13 L299.78,111.17 L299.74,110.21 L299.71,109.26 L299.68,108.3 L299.66,107.34 L299.64,106.39 L299.63,105.43 L299.63,104.47 L299.64,103.51 L299.66,102.56 L299.7,101.6 L299.74,100.64 L299.79,99.69 L299.85,98.73 L299.92,97.77 L299.98,96.81 L300.05,95.86 L300.11,94.9 L300.17,93.94 L300.22,92.99 L300.28,92.03 L300.33,91.07 L300.38,90.11 L300.43,89.16 L300.48,88.2 L300.53,87.24 L300.59,86.29 L300.64,85.33 L300.69,84.37 L300.74,83.41 L300.8,82.46 L300.85,81.5Z" fill="#E25272" stroke="#5a1f2c" stroke-width="0.4"/>
<rect x="300.55" y="98.16" width="0.79" height="14.07" fill="#fff" stroke="none" stroke-width="0" fill-opacity="0.6"/>
<line x1="300.03" y1="105.3" x2="301.87" y2="105.3" stroke="#333" stroke-width="0.45"/>
<text x="298.5" y="131.5" font-size="5.2" text-anchor="end" fill="#222" font-weight="normal" stroke="#222" stroke-width="0.18" transform="rotate(-45 298.5 131.5)" dominant-baseline="hanging">B cells naive</text>
<rect x="308.15" y="90.2" width="0.66" height="36.3" fill="url(#tg)" stroke="none" stroke-width="0.5"/>
<path d="M308.58,125.5 L308.61,125.58 L308.64,125.66 L308.67,125.74 L308.7,125.82 L308.73,125.9 L308.76,125.98 L308.79,126.06 L308.82,126.14 L308.86,126.22 L308.89,126.3 L308.92,126.38 L308.95,126.46 L308.98,126.53 L309.01,126.61 L309.04,126.69 L309.07,126.77 L309.1,126.85 L309.13,126.93 L309.16,127.01 L309.2,127.09 L309.24,127.17 L309.28,127.25 L309.32,127.33 L309.36,127.41 L309.4,127.49 L309.43,127.57 L309.47,127.65 L309.5,127.73 L309.53,127.81 L309.55,127.89 L309.57,127.97 L309.59,128.05 L309.6,128.13 L309.6,128.21 L309.59,128.29 L309.56,128.37 L309.53,128.44 L309.48,128.52 L309.42,128.6 L309.37,128.68 L309.31,128.76 L309.26,128.84 L309.2,128.92 L309.13,129 L309.06,129.08 L308.98,129.16 L308.9,129.24 L308.82,129.32 L308.73,129.4 L308.23,129.4 L308.14,129.32 L308.06,129.24 L307.98,129.16 L307.9,129.08 L307.83,129 L307.76,128.92 L307.7,128.84 L307.65,128.76 L307.59,128.68 L307.54,128.6 L307.48,128.52 L307.43,128.44 L307.4,128.37 L307.37,128.29 L307.36,128.21 L307.36,128.13 L307.37,128.05 L307.39,127.97 L307.41,127.89 L307.43,127.81 L307.46,127.73 L307.49,127.65 L307.53,127.57 L307.56,127.49 L307.6,127.41 L307.64,127.33 L307.68,127.25 L307.72,127.17 L307.76,127.09 L307.8,127.01 L307.83,126.93 L307.86,126.85 L307.89,126.77 L307.92,126.69 L307.95,126.61 L307.98,126.53 L308.01,126.46 L308.04,126.38 L308.07,126.3 L308.1,126.22 L308.14,126.14 L308.17,126.06 L308.2,125.98 L308.23,125.9 L308.26,125.82 L308.29,125.74 L308.32,125.66 L308.35,125.58 L308.38,125.5Z" fill="#66CF52" stroke="#2a4a26" stroke-width="0.4"/>
<line x1="307.7" y1="128.3" x2="309.26" y2="128.3" stroke="#333" stroke-width="0.45"/>
<rect x="312.05" y="103.4" width="0.66" height="23.1" fill="url(#tg)" stroke="none" stroke-width="0.5"/>
<path d="M312.48,125.5 L312.51,125.58 L312.54,125.66 L312.57,125.74 L312.6,125.82 L312.63,125.9 L312.66,125.98 L312.69,126.06 L312.72,126.14 L312.76,126.22 L312.79,126.3 L312.82,126.38 L312.85,126.46 L312.88,126.53 L312.91,126.61 L312.94,126.69 L312.97,126.77 L313,126.85 L313.03,126.93 L313.06,127.01 L313.1,127.09 L313.14,127.17 L313.18,127.25 L313.22,127.33 L313.26,127.41 L313.3,127.49 L313.33,127.57 L313.37,127.65 L313.4,127.73 L313.43,127.81 L313.45,127.89 L313.47,127.97 L313.49,128.05 L313.5,128.13 L313.5,128.21 L313.49,128.29 L313.46,128.37 L313.43,128.44 L313.38,128.52 L313.32,128.6 L313.27,128.68 L313.21,128.76 L313.16,128.84 L313.1,128.92 L313.03,129 L312.96,129.08 L312.88,129.16 L312.8,129.24 L312.72,129.32 L312.63,129.4 L312.13,129.4 L312.04,129.32 L311.96,129.24 L311.88,129.16 L311.8,129.08 L311.73,129 L311.66,128.92 L311.6,128.84 L311.55,128.76 L311.49,128.68 L311.44,128.6 L311.38,128.52 L311.33,128.44 L311.3,128.37 L311.27,128.29 L311.26,128.21 L311.26,128.13 L311.27,128.05 L311.29,127.97 L311.31,127.89 L311.33,127.81 L311.36,127.73 L311.39,127.65 L311.43,127.57 L311.46,127.49 L311.5,127.41 L311.54,127.33 L311.58,127.25 L311.62,127.17 L311.66,127.09 L311.7,127.01 L311.73,126.93 L311.76,126.85 L311.79,126.77 L311.82,126.69 L311.85,126.61 L311.88,126.53 L311.91,126.46 L311.94,126.38 L311.97,126.3 L312,126.22 L312.04,126.14 L312.07,126.06 L312.1,125.98 L312.13,125.9 L312.16,125.82 L312.19,125.74 L312.22,125.66 L312.25,125.58 L312.28,125.5Z" fill="#E25272" stroke="#5a1f2c" stroke-width="0.4"/>
<line x1="311.6" y1="128.3" x2="313.16" y2="128.3" stroke="#333" stroke-width="0.45"/>
<text x="309.93" y="131.5" font-size="5.2" text-anchor="end" fill="#222" font-weight="normal" stroke="#222" stroke-width="0.18" transform="rotate(-45 309.93 131.5)" dominant-baseline="hanging">B cells memory</text>
<rect x="319.58" y="46.2" width="0.66" height="32.8" fill="url(#tg)" stroke="none" stroke-width="0.5"/>
<path d="M320.01,78 L320.05,79.03 L320.09,80.06 L320.13,81.09 L320.17,82.11 L320.21,83.14 L320.25,84.17 L320.29,85.2 L320.33,86.23 L320.36,87.26 L320.4,88.29 L320.44,89.31 L320.48,90.34 L320.52,91.37 L320.56,92.4 L320.59,93.43 L320.63,94.46 L320.67,95.49 L320.71,96.51 L320.75,97.54 L320.8,98.57 L320.84,99.6 L320.89,100.63 L320.94,101.66 L320.99,102.69 L321.04,103.71 L321.08,104.74 L321.13,105.77 L321.17,106.8 L321.2,107.83 L321.24,108.86 L321.26,109.89 L321.29,110.91 L321.3,111.94 L321.31,112.97 L321.31,114 L321.28,115.03 L321.24,116.06 L321.19,117.09 L321.12,118.11 L321.05,119.14 L320.97,120.17 L320.9,121.2 L320.82,122.23 L320.73,123.26 L320.63,124.29 L320.52,125.31 L320.41,126.34 L320.29,127.37 L320.16,128.4 L319.66,128.4 L319.53,127.37 L319.41,126.34 L319.3,125.31 L319.19,124.29 L319.09,123.26 L319,122.23 L318.92,121.2 L318.85,120.17 L318.77,119.14 L318.7,118.11 L318.63,117.09 L318.58,116.06 L318.54,115.03 L318.51,114 L318.51,112.97 L318.52,111.94 L318.53,110.91 L318.56,109.89 L318.58,108.86 L318.62,107.83 L318.65,106.8 L318.69,105.77 L318.74,104.74 L318.78,103.71 L318.83,102.69 L318.88,101.66 L318.93,100.63 L318.98,99.6 L319.02,98.57 L319.07,97.54 L319.11,96.51 L319.15,95.49 L319.19,94.46 L319.23,93.43 L319.26,92.4 L319.3,91.37 L319.34,90.34 L319.38,89.31 L319.42,88.29 L319.46,87.26 L319.49,86.23 L319.53,85.2 L319.57,84.17 L319.61,83.14 L319.65,82.11 L319.69,81.09 L319.73,80.06 L319.77,79.03 L319.81,78Z" fill="#66CF52" stroke="#2a4a26" stroke-width="0.4"/>
<rect x="319.49" y="102.01" width="0.84" height="15.12" fill="#fff" stroke="none" stroke-width="0" fill-opacity="0.6"/>
<line x1="318.93" y1="112.3" x2="320.89" y2="112.3" stroke="#333" stroke-width="0.45"/>
<rect x="323.48" y="59.4" width="0.66" height="31" fill="url(#tg)" stroke="none" stroke-width="0.5"/>
<path d="M323.91,89.4 L323.94,90.2 L323.98,90.99 L324.01,91.79 L324.05,92.58 L324.08,93.38 L324.12,94.18 L324.15,94.97 L324.18,95.77 L324.22,96.56 L324.25,97.36 L324.29,98.16 L324.32,98.95 L324.35,99.75 L324.39,100.54 L324.42,101.34 L324.45,102.13 L324.48,102.93 L324.52,103.73 L324.55,104.52 L324.58,105.32 L324.62,106.11 L324.66,106.91 L324.7,107.71 L324.74,108.5 L324.78,109.3 L324.83,110.09 L324.87,110.89 L324.91,111.69 L324.95,112.48 L324.99,113.28 L325.02,114.07 L325.06,114.87 L325.09,115.67 L325.11,116.46 L325.13,117.26 L325.15,118.05 L325.16,118.85 L325.17,119.64 L325.16,120.44 L325.12,121.24 L325.05,122.03 L324.96,122.83 L324.86,123.62 L324.76,124.42 L324.65,125.22 L324.52,126.01 L324.38,126.81 L324.23,127.6 L324.06,128.4 L323.56,128.4 L323.39,127.6 L323.24,126.81 L323.1,126.01 L322.97,125.22 L322.86,124.42 L322.76,123.62 L322.66,122.83 L322.57,122.03 L322.5,121.24 L322.46,120.44 L322.45,119.64 L322.46,118.85 L322.47,118.05 L322.49,117.26 L322.51,116.46 L322.53,115.67 L322.56,114.87 L322.6,114.07 L322.63,113.28 L322.67,112.48 L322.71,111.69 L322.75,110.89 L322.79,110.09 L322.84,109.3 L322.88,108.5 L322.92,107.71 L322.96,106.91 L323,106.11 L323.04,105.32 L323.07,104.52 L323.1,103.73 L323.14,102.93 L323.17,102.13 L323.2,101.34 L323.23,100.54 L323.27,99.75 L323.3,98.95 L323.33,98.16 L323.37,97.36 L323.4,96.56 L323.44,95.77 L323.47,94.97 L323.5,94.18 L323.54,93.38 L323.57,92.58 L323.61,91.79 L323.64,90.99 L323.68,90.2 L323.71,89.4Z" fill="#E25272" stroke="#5a1f2c" stroke-width="0.4"/>
<rect x="323.4" y="106.13" width="0.82" height="11.7" fill="#fff" stroke="none" stroke-width="0" fill-opacity="0.6"/>
<line x1="322.86" y1="113.3" x2="324.76" y2="113.3" stroke="#333" stroke-width="0.45"/>
<text x="321.86" y="48.01" font-size="8.3" text-anchor="middle" fill="#111" font-weight="bold">**</text>
<text x="321.36" y="131.5" font-size="5.2" text-anchor="end" fill="#222" font-weight="normal" stroke="#222" stroke-width="0.18" transform="rotate(-45 321.36 131.5)" dominant-baseline="hanging">Plasma cells</text>
<rect x="331.01" y="51" width="0.66" height="30" fill="url(#tg)" stroke="none" stroke-width="0.5"/>
<path d="M331.44,80 L331.49,80.94 L331.54,81.88 L331.59,82.82 L331.64,83.76 L331.69,84.69 L331.73,85.63 L331.78,86.57 L331.83,87.51 L331.88,88.45 L331.93,89.39 L331.97,90.33 L332.02,91.27 L332.07,92.2 L332.11,93.14 L332.16,94.08 L332.21,95.02 L332.27,95.96 L332.33,96.9 L332.39,97.84 L332.45,98.78 L332.51,99.71 L332.56,100.65 L332.62,101.59 L332.66,102.53 L332.7,103.47 L332.74,104.41 L332.76,105.35 L332.78,106.29 L332.78,107.22 L332.77,108.16 L332.75,109.1 L332.72,110.04 L332.68,110.98 L332.64,111.92 L332.59,112.86 L332.53,113.8 L332.48,114.73 L332.42,115.67 L332.37,116.61 L332.31,117.55 L332.25,118.49 L332.18,119.43 L332.11,120.37 L332.03,121.31 L331.95,122.24 L331.87,123.18 L331.78,124.12 L331.69,125.06 L331.59,126 L331.09,126 L330.99,125.06 L330.9,124.12 L330.81,123.18 L330.73,122.24 L330.65,121.31 L330.57,120.37 L330.5,119.43 L330.43,118.49 L330.37,117.55 L330.31,116.61 L330.26,115.67 L330.2,114.73 L330.15,113.8 L330.09,112.86 L330.04,111.92 L330,110.98 L329.96,110.04 L329.93,109.1 L329.91,108.16 L329.9,107.22 L329.9,106.29 L329.92,105.35 L329.94,104.41 L329.98,103.47 L330.02,102.53 L330.06,101.59 L330.12,100.65 L330.17,99.71 L330.23,98.78 L330.29,97.84 L330.35,96.9 L330.41,95.96 L330.47,95.02 L330.52,94.08 L330.57,93.14 L330.61,92.2 L330.66,91.27 L330.71,90.33 L330.75,89.39 L330.8,88.45 L330.85,87.51 L330.9,86.57 L330.95,85.63 L330.99,84.69 L331.04,83.76 L331.09,82.82 L331.14,81.88 L331.19,80.94 L331.24,80Z" fill="#66CF52" stroke="#2a4a26" stroke-width="0.4"/>
<rect x="330.91" y="99.46" width="0.86" height="13.8" fill="#fff" stroke="none" stroke-width="0" fill-opacity="0.6"/>
<line x1="330.33" y1="107.8" x2="332.35" y2="107.8" stroke="#333" stroke-width="0.45"/>
<rect x="334.91" y="28.5" width="0.66" height="65.5" fill="url(#tg)" stroke="none" stroke-width="0.5"/>
<path d="M335.34,93 L335.39,93.69 L335.43,94.39 L335.47,95.08 L335.52,95.78 L335.56,96.47 L335.61,97.16 L335.65,97.86 L335.7,98.55 L335.74,99.24 L335.78,99.94 L335.83,100.63 L335.87,101.33 L335.91,102.02 L335.96,102.71 L336,103.41 L336.06,104.1 L336.11,104.8 L336.17,105.49 L336.22,106.18 L336.28,106.88 L336.33,107.57 L336.38,108.27 L336.42,108.96 L336.46,109.65 L336.49,110.35 L336.51,111.04 L336.52,111.73 L336.52,112.43 L336.51,113.12 L336.49,113.82 L336.46,114.51 L336.43,115.2 L336.39,115.9 L336.35,116.59 L336.31,117.29 L336.26,117.98 L336.21,118.67 L336.17,119.37 L336.13,120.06 L336.08,120.76 L336.02,121.45 L335.97,122.14 L335.91,122.84 L335.85,123.53 L335.78,124.22 L335.71,124.92 L335.64,125.61 L335.57,126.31 L335.49,127 L334.99,127 L334.91,126.31 L334.84,125.61 L334.77,124.92 L334.7,124.22 L334.63,123.53 L334.57,122.84 L334.51,122.14 L334.46,121.45 L334.4,120.76 L334.35,120.06 L334.31,119.37 L334.27,118.67 L334.22,117.98 L334.17,117.29 L334.13,116.59 L334.09,115.9 L334.05,115.2 L334.02,114.51 L333.99,113.82 L333.97,113.12 L333.96,112.43 L333.96,111.73 L333.97,111.04 L333.99,110.35 L334.02,109.65 L334.06,108.96 L334.1,108.27 L334.15,107.57 L334.2,106.88 L334.26,106.18 L334.31,105.49 L334.37,104.8 L334.42,104.1 L334.48,103.41 L334.52,102.71 L334.57,102.02 L334.61,101.33 L334.65,100.63 L334.7,99.94 L334.74,99.24 L334.78,98.55 L334.83,97.86 L334.87,97.16 L334.92,96.47 L334.96,95.78 L335.01,95.08 L335.05,94.39 L335.09,93.69 L335.14,93Z" fill="#E25272" stroke="#5a1f2c" stroke-width="0.4"/>
<rect x="334.86" y="106.3" width="0.77" height="10.2" fill="#fff" stroke="none" stroke-width="0" fill-opacity="0.6"/>
<line x1="334.34" y1="112" x2="336.14" y2="112" stroke="#333" stroke-width="0.45"/>
<text x="333.29" y="30.01" font-size="8.3" text-anchor="middle" fill="#111" font-weight="bold">***</text>
<text x="332.79" y="131.5" font-size="5.2" text-anchor="end" fill="#222" font-weight="normal" stroke="#222" stroke-width="0.18" transform="rotate(-45 332.79 131.5)" dominant-baseline="hanging">T cells CD8</text>
<rect x="342.44" y="121.9" width="0.66" height="5.6" fill="url(#tg)" stroke="none" stroke-width="0.5"/>
<path d="M342.87,126.5 L342.89,126.56 L342.9,126.62 L342.92,126.68 L342.94,126.74 L342.96,126.8 L342.97,126.86 L342.99,126.91 L343.01,126.97 L343.03,127.03 L343.05,127.09 L343.06,127.15 L343.08,127.21 L343.1,127.27 L343.12,127.33 L343.14,127.39 L343.15,127.45 L343.17,127.51 L343.19,127.57 L343.21,127.62 L343.24,127.68 L343.26,127.74 L343.29,127.8 L343.31,127.86 L343.34,127.92 L343.36,127.98 L343.38,128.04 L343.41,128.1 L343.43,128.16 L343.45,128.22 L343.46,128.28 L343.47,128.33 L343.48,128.39 L343.49,128.45 L343.49,128.51 L343.48,128.57 L343.46,128.63 L343.44,128.69 L343.4,128.75 L343.37,128.81 L343.33,128.87 L343.3,128.93 L343.27,128.99 L343.24,129.04 L343.2,129.1 L343.17,129.16 L343.13,129.22 L343.1,129.28 L343.06,129.34 L343.02,129.4 L342.52,129.4 L342.48,129.34 L342.44,129.28 L342.41,129.22 L342.37,129.16 L342.34,129.1 L342.3,129.04 L342.27,128.99 L342.24,128.93 L342.21,128.87 L342.17,128.81 L342.14,128.75 L342.1,128.69 L342.08,128.63 L342.06,128.57 L342.05,128.51 L342.05,128.45 L342.06,128.39 L342.07,128.33 L342.08,128.28 L342.09,128.22 L342.11,128.16 L342.13,128.1 L342.16,128.04 L342.18,127.98 L342.2,127.92 L342.23,127.86 L342.25,127.8 L342.28,127.74 L342.3,127.68 L342.33,127.62 L342.35,127.57 L342.37,127.51 L342.39,127.45 L342.4,127.39 L342.42,127.33 L342.44,127.27 L342.46,127.21 L342.48,127.15 L342.49,127.09 L342.51,127.03 L342.53,126.97 L342.55,126.91 L342.57,126.86 L342.58,126.8 L342.6,126.74 L342.62,126.68 L342.64,126.62 L342.65,126.56 L342.67,126.5Z" fill="#66CF52" stroke="#2a4a26" stroke-width="0.4"/>
<line x1="342.27" y1="128.6" x2="343.27" y2="128.6" stroke="#333" stroke-width="0.45"/>
<rect x="346.34" y="126.6" width="0.66" height="1.9" fill="url(#tg)" stroke="none" stroke-width="0.5"/>
<path d="M346.77,127.5 L346.79,127.54 L346.82,127.58 L346.84,127.62 L346.86,127.66 L346.88,127.69 L346.9,127.73 L346.93,127.77 L346.95,127.81 L346.97,127.85 L346.99,127.89 L347.01,127.93 L347.03,127.97 L347.05,128 L347.07,128.04 L347.09,128.08 L347.11,128.12 L347.13,128.16 L347.15,128.2 L347.17,128.24 L347.2,128.28 L347.22,128.31 L347.24,128.35 L347.26,128.39 L347.27,128.43 L347.29,128.47 L347.3,128.51 L347.31,128.55 L347.31,128.59 L347.31,128.62 L347.3,128.66 L347.29,128.7 L347.27,128.74 L347.26,128.78 L347.23,128.82 L347.21,128.86 L347.19,128.9 L347.17,128.93 L347.14,128.97 L347.12,129.01 L347.11,129.05 L347.09,129.09 L347.07,129.13 L347.05,129.17 L347.03,129.21 L347.01,129.24 L346.98,129.28 L346.96,129.32 L346.94,129.36 L346.92,129.4 L346.42,129.4 L346.4,129.36 L346.38,129.32 L346.36,129.28 L346.33,129.24 L346.31,129.21 L346.29,129.17 L346.27,129.13 L346.25,129.09 L346.23,129.05 L346.22,129.01 L346.2,128.97 L346.17,128.93 L346.15,128.9 L346.13,128.86 L346.11,128.82 L346.08,128.78 L346.07,128.74 L346.05,128.7 L346.04,128.66 L346.03,128.62 L346.03,128.59 L346.03,128.55 L346.04,128.51 L346.05,128.47 L346.07,128.43 L346.08,128.39 L346.1,128.35 L346.12,128.31 L346.14,128.28 L346.17,128.24 L346.19,128.2 L346.21,128.16 L346.23,128.12 L346.25,128.08 L346.27,128.04 L346.29,128 L346.31,127.97 L346.33,127.93 L346.35,127.89 L346.37,127.85 L346.39,127.81 L346.41,127.77 L346.44,127.73 L346.46,127.69 L346.48,127.66 L346.5,127.62 L346.52,127.58 L346.55,127.54 L346.57,127.5Z" fill="#E25272" stroke="#5a1f2c" stroke-width="0.4"/>
<line x1="346.22" y1="128.8" x2="347.12" y2="128.8" stroke="#333" stroke-width="0.45"/>
<text x="344.22" y="131.5" font-size="5.2" text-anchor="end" fill="#222" font-weight="normal" stroke="#222" stroke-width="0.18" transform="rotate(-45 344.22 131.5)" dominant-baseline="hanging">T cells CD4 naive</text>
<rect x="353.87" y="51" width="0.66" height="20" fill="url(#tg)" stroke="none" stroke-width="0.5"/>
<path d="M354.3,70 L354.36,71.2 L354.42,72.41 L354.48,73.61 L354.54,74.82 L354.6,76.02 L354.66,77.22 L354.72,78.43 L354.78,79.63 L354.84,80.84 L354.9,82.04 L354.95,83.24 L355.01,84.45 L355.07,85.65 L355.13,86.86 L355.2,88.06 L355.27,89.27 L355.35,90.47 L355.42,91.67 L355.49,92.88 L355.55,94.08 L355.61,95.29 L355.65,96.49 L355.69,97.69 L355.71,98.9 L355.72,100.1 L355.71,101.31 L355.7,102.51 L355.68,103.71 L355.65,104.92 L355.61,106.12 L355.58,107.33 L355.53,108.53 L355.49,109.73 L355.44,110.94 L355.39,112.14 L355.34,113.35 L355.29,114.55 L355.24,115.76 L355.19,116.96 L355.13,118.16 L355.07,119.37 L355,120.57 L354.93,121.78 L354.86,122.98 L354.78,124.18 L354.7,125.39 L354.62,126.59 L354.54,127.8 L354.45,129 L353.95,129 L353.86,127.8 L353.78,126.59 L353.7,125.39 L353.62,124.18 L353.54,122.98 L353.47,121.78 L353.4,120.57 L353.33,119.37 L353.27,118.16 L353.21,116.96 L353.16,115.76 L353.11,114.55 L353.06,113.35 L353.01,112.14 L352.96,110.94 L352.91,109.73 L352.87,108.53 L352.82,107.33 L352.79,106.12 L352.75,104.92 L352.72,103.71 L352.7,102.51 L352.69,101.31 L352.68,100.1 L352.69,98.9 L352.71,97.69 L352.75,96.49 L352.79,95.29 L352.85,94.08 L352.91,92.88 L352.98,91.67 L353.05,90.47 L353.13,89.27 L353.2,88.06 L353.27,86.86 L353.33,85.65 L353.39,84.45 L353.45,83.24 L353.5,82.04 L353.56,80.84 L353.62,79.63 L353.68,78.43 L353.74,77.22 L353.8,76.02 L353.86,74.82 L353.92,73.61 L353.98,72.41 L354.04,71.2 L354.1,70Z" fill="#66CF52" stroke="#2a4a26" stroke-width="0.4"/>
<rect x="353.74" y="91.7" width="0.91" height="17.7" fill="#fff" stroke="none" stroke-width="0" fill-opacity="0.6"/>
<line x1="353.14" y1="101" x2="355.26" y2="101" stroke="#333" stroke-width="0.45"/>
<rect x="357.77" y="51" width="0.66" height="19" fill="url(#tg)" stroke="none" stroke-width="0.5"/>
<path d="M358.2,69 L358.26,70.22 L358.32,71.45 L358.39,72.67 L358.45,73.9 L358.51,75.12 L358.57,76.35 L358.63,77.57 L358.69,78.8 L358.75,80.02 L358.81,81.24 L358.86,82.47 L358.92,83.69 L358.99,84.92 L359.06,86.14 L359.13,87.37 L359.2,88.59 L359.28,89.82 L359.35,91.04 L359.42,92.27 L359.47,93.49 L359.52,94.71 L359.56,95.94 L359.58,97.16 L359.58,98.39 L359.57,99.61 L359.56,100.84 L359.54,102.06 L359.51,103.29 L359.48,104.51 L359.44,105.73 L359.4,106.96 L359.36,108.18 L359.32,109.41 L359.27,110.63 L359.23,111.86 L359.18,113.08 L359.14,114.31 L359.09,115.53 L359.04,116.76 L358.98,117.98 L358.92,119.2 L358.86,120.43 L358.79,121.65 L358.73,122.88 L358.66,124.1 L358.58,125.33 L358.51,126.55 L358.43,127.78 L358.35,129 L357.85,129 L357.77,127.78 L357.69,126.55 L357.62,125.33 L357.54,124.1 L357.47,122.88 L357.41,121.65 L357.34,120.43 L357.28,119.2 L357.22,117.98 L357.16,116.76 L357.11,115.53 L357.06,114.31 L357.02,113.08 L356.97,111.86 L356.93,110.63 L356.88,109.41 L356.84,108.18 L356.8,106.96 L356.76,105.73 L356.72,104.51 L356.69,103.29 L356.66,102.06 L356.64,100.84 L356.63,99.61 L356.62,98.39 L356.62,97.16 L356.64,95.94 L356.68,94.71 L356.73,93.49 L356.78,92.27 L356.85,91.04 L356.92,89.82 L357,88.59 L357.07,87.37 L357.14,86.14 L357.21,84.92 L357.28,83.69 L357.34,82.47 L357.39,81.24 L357.45,80.02 L357.51,78.8 L357.57,77.57 L357.63,76.35 L357.69,75.12 L357.75,73.9 L357.81,72.67 L357.88,71.45 L357.94,70.22 L358,69Z" fill="#E25272" stroke="#5a1f2c" stroke-width="0.4"/>
<rect x="357.66" y="89.09" width="0.89" height="18" fill="#fff" stroke="none" stroke-width="0" fill-opacity="0.6"/>
<line x1="357.06" y1="97.7" x2="359.14" y2="97.7" stroke="#333" stroke-width="0.45"/>
<text x="356.15" y="52.71" font-size="8.3" text-anchor="middle" fill="#111" font-weight="bold">**</text>
<text x="355.65" y="131.5" font-size="5.2" text-anchor="end" fill="#222" font-weight="normal" stroke="#222" stroke-width="0.18" transform="rotate(-45 355.65 131.5)" dominant-baseline="hanging">T cells CD4 memory resting</text>
<rect x="365.3" y="87.8" width="0.66" height="30.7" fill="url(#tg)" stroke="none" stroke-width="0.5"/>
<path d="M365.73,117.5 L365.77,117.74 L365.81,117.98 L365.86,118.22 L365.9,118.46 L365.94,118.69 L365.98,118.93 L366.02,119.17 L366.07,119.41 L366.11,119.65 L366.15,119.89 L366.19,120.13 L366.23,120.37 L366.27,120.6 L366.31,120.84 L366.35,121.08 L366.39,121.32 L366.43,121.56 L366.47,121.8 L366.52,122.04 L366.57,122.28 L366.62,122.51 L366.67,122.75 L366.72,122.99 L366.77,123.23 L366.82,123.47 L366.87,123.71 L366.91,123.95 L366.95,124.19 L366.99,124.42 L367.02,124.66 L367.04,124.9 L367.06,125.14 L367.07,125.38 L367.07,125.62 L367.05,125.86 L367.01,126.1 L366.96,126.33 L366.9,126.57 L366.83,126.81 L366.76,127.05 L366.68,127.29 L366.61,127.53 L366.53,127.77 L366.44,128.01 L366.34,128.24 L366.24,128.48 L366.12,128.72 L366,128.96 L365.88,129.2 L365.38,129.2 L365.26,128.96 L365.14,128.72 L365.02,128.48 L364.92,128.24 L364.82,128.01 L364.73,127.77 L364.65,127.53 L364.58,127.29 L364.5,127.05 L364.43,126.81 L364.36,126.57 L364.3,126.33 L364.25,126.1 L364.21,125.86 L364.19,125.62 L364.19,125.38 L364.2,125.14 L364.22,124.9 L364.24,124.66 L364.27,124.42 L364.31,124.19 L364.35,123.95 L364.39,123.71 L364.44,123.47 L364.49,123.23 L364.54,122.99 L364.59,122.75 L364.64,122.51 L364.69,122.28 L364.74,122.04 L364.79,121.8 L364.83,121.56 L364.87,121.32 L364.91,121.08 L364.95,120.84 L364.99,120.6 L365.03,120.37 L365.07,120.13 L365.11,119.89 L365.15,119.65 L365.19,119.41 L365.24,119.17 L365.28,118.93 L365.32,118.69 L365.36,118.46 L365.4,118.22 L365.45,117.98 L365.49,117.74 L365.53,117.5Z" fill="#66CF52" stroke="#2a4a26" stroke-width="0.4"/>
<rect x="365.2" y="122.96" width="0.86" height="3.51" fill="#fff" stroke="none" stroke-width="0" fill-opacity="0.6"/>
<line x1="364.62" y1="125.3" x2="366.64" y2="125.3" stroke="#333" stroke-width="0.45"/>
<rect x="369.2" y="92.5" width="0.66" height="29.1" fill="url(#tg)" stroke="none" stroke-width="0.5"/>
<path d="M369.63,120.6 L369.67,120.78 L369.7,120.95 L369.74,121.13 L369.78,121.3 L369.81,121.48 L369.85,121.65 L369.88,121.83 L369.92,122 L369.96,122.18 L369.99,122.36 L370.03,122.53 L370.06,122.71 L370.1,122.88 L370.14,123.06 L370.17,123.23 L370.21,123.41 L370.24,123.58 L370.28,123.76 L370.32,123.93 L370.36,124.11 L370.41,124.29 L370.45,124.46 L370.5,124.64 L370.54,124.81 L370.59,124.99 L370.63,125.16 L370.67,125.34 L370.7,125.51 L370.74,125.69 L370.76,125.87 L370.78,126.04 L370.8,126.22 L370.81,126.39 L370.81,126.57 L370.79,126.74 L370.76,126.92 L370.71,127.09 L370.66,127.27 L370.6,127.44 L370.53,127.62 L370.47,127.8 L370.41,127.97 L370.34,128.15 L370.26,128.32 L370.17,128.5 L370.08,128.67 L369.99,128.85 L369.89,129.02 L369.78,129.2 L369.28,129.2 L369.17,129.02 L369.07,128.85 L368.98,128.67 L368.89,128.5 L368.8,128.32 L368.72,128.15 L368.65,127.97 L368.59,127.8 L368.53,127.62 L368.46,127.44 L368.4,127.27 L368.35,127.09 L368.3,126.92 L368.27,126.74 L368.25,126.57 L368.25,126.39 L368.26,126.22 L368.28,126.04 L368.3,125.87 L368.32,125.69 L368.36,125.51 L368.39,125.34 L368.43,125.16 L368.47,124.99 L368.52,124.81 L368.56,124.64 L368.61,124.46 L368.65,124.29 L368.7,124.11 L368.74,123.93 L368.78,123.76 L368.82,123.58 L368.85,123.41 L368.89,123.23 L368.92,123.06 L368.96,122.88 L369,122.71 L369.03,122.53 L369.07,122.36 L369.1,122.18 L369.14,122 L369.18,121.83 L369.21,121.65 L369.25,121.48 L369.28,121.3 L369.32,121.13 L369.36,120.95 L369.39,120.78 L369.43,120.6Z" fill="#E25272" stroke="#5a1f2c" stroke-width="0.4"/>
<rect x="369.15" y="124.8" width="0.77" height="2.58" fill="#fff" stroke="none" stroke-width="0" fill-opacity="0.6"/>
<line x1="368.63" y1="126.6" x2="370.43" y2="126.6" stroke="#333" stroke-width="0.45"/>
<text x="367.08" y="131.5" font-size="5.2" text-anchor="end" fill="#222" font-weight="normal" stroke="#222" stroke-width="0.18" transform="rotate(-45 367.08 131.5)" dominant-baseline="hanging">T cells CD4 memory activated</text>
<rect x="376.73" y="83.9" width="0.66" height="23.7" fill="url(#tg)" stroke="none" stroke-width="0.5"/>
<path d="M377.16,106.6 L377.23,107.03 L377.3,107.46 L377.36,107.89 L377.43,108.32 L377.5,108.75 L377.56,109.18 L377.63,109.61 L377.69,110.04 L377.76,110.48 L377.82,110.91 L377.89,111.34 L377.95,111.77 L378.02,112.2 L378.1,112.63 L378.18,113.06 L378.26,113.49 L378.34,113.92 L378.42,114.35 L378.48,114.78 L378.54,115.21 L378.58,115.64 L378.61,116.07 L378.62,116.5 L378.62,116.93 L378.6,117.37 L378.58,117.8 L378.56,118.23 L378.53,118.66 L378.49,119.09 L378.45,119.52 L378.41,119.95 L378.37,120.38 L378.32,120.81 L378.27,121.24 L378.23,121.67 L378.18,122.1 L378.14,122.53 L378.09,122.96 L378.03,123.39 L377.97,123.82 L377.91,124.26 L377.84,124.69 L377.78,125.12 L377.7,125.55 L377.63,125.98 L377.55,126.41 L377.47,126.84 L377.39,127.27 L377.31,127.7 L376.81,127.7 L376.73,127.27 L376.65,126.84 L376.57,126.41 L376.49,125.98 L376.42,125.55 L376.34,125.12 L376.28,124.69 L376.21,124.26 L376.15,123.82 L376.09,123.39 L376.03,122.96 L375.98,122.53 L375.94,122.1 L375.89,121.67 L375.85,121.24 L375.8,120.81 L375.75,120.38 L375.71,119.95 L375.67,119.52 L375.63,119.09 L375.59,118.66 L375.56,118.23 L375.54,117.8 L375.52,117.37 L375.5,116.93 L375.5,116.5 L375.51,116.07 L375.54,115.64 L375.58,115.21 L375.64,114.78 L375.7,114.35 L375.78,113.92 L375.86,113.49 L375.94,113.06 L376.02,112.63 L376.1,112.2 L376.17,111.77 L376.23,111.34 L376.3,110.91 L376.36,110.48 L376.43,110.04 L376.49,109.61 L376.56,109.18 L376.62,108.75 L376.69,108.32 L376.76,107.89 L376.82,107.46 L376.89,107.03 L376.96,106.6Z" fill="#66CF52" stroke="#2a4a26" stroke-width="0.4"/>
<rect x="376.59" y="114.23" width="0.94" height="6.33" fill="#fff" stroke="none" stroke-width="0" fill-opacity="0.6"/>
<line x1="375.97" y1="117.5" x2="378.15" y2="117.5" stroke="#333" stroke-width="0.45"/>
<rect x="380.63" y="91.7" width="0.66" height="19" fill="url(#tg)" stroke="none" stroke-width="0.5"/>
<path d="M381.06,109.7 L381.12,110.08 L381.17,110.47 L381.23,110.85 L381.29,111.23 L381.34,111.62 L381.4,112 L381.45,112.39 L381.51,112.77 L381.56,113.15 L381.62,113.54 L381.67,113.92 L381.72,114.3 L381.78,114.69 L381.84,115.07 L381.91,115.46 L381.98,115.84 L382.05,116.22 L382.11,116.61 L382.18,116.99 L382.23,117.37 L382.28,117.76 L382.32,118.14 L382.35,118.52 L382.36,118.91 L382.36,119.29 L382.35,119.68 L382.33,120.06 L382.31,120.44 L382.28,120.83 L382.24,121.21 L382.21,121.59 L382.17,121.98 L382.12,122.36 L382.08,122.74 L382.04,123.13 L381.99,123.51 L381.95,123.9 L381.91,124.28 L381.86,124.66 L381.81,125.05 L381.75,125.43 L381.69,125.81 L381.63,126.2 L381.57,126.58 L381.5,126.97 L381.43,127.35 L381.36,127.73 L381.29,128.12 L381.21,128.5 L380.71,128.5 L380.63,128.12 L380.56,127.73 L380.49,127.35 L380.42,126.97 L380.35,126.58 L380.29,126.2 L380.23,125.81 L380.17,125.43 L380.11,125.05 L380.06,124.66 L380.01,124.28 L379.97,123.9 L379.93,123.51 L379.88,123.13 L379.84,122.74 L379.8,122.36 L379.75,121.98 L379.71,121.59 L379.68,121.21 L379.64,120.83 L379.61,120.44 L379.59,120.06 L379.57,119.68 L379.56,119.29 L379.56,118.91 L379.57,118.52 L379.6,118.14 L379.64,117.76 L379.69,117.37 L379.74,116.99 L379.81,116.61 L379.87,116.22 L379.94,115.84 L380.01,115.46 L380.08,115.07 L380.14,114.69 L380.2,114.3 L380.25,113.92 L380.3,113.54 L380.36,113.15 L380.41,112.77 L380.47,112.39 L380.52,112 L380.58,111.62 L380.63,111.23 L380.69,110.85 L380.75,110.47 L380.8,110.08 L380.86,109.7Z" fill="#E25272" stroke="#5a1f2c" stroke-width="0.4"/>
<rect x="380.54" y="116.03" width="0.84" height="5.64" fill="#fff" stroke="none" stroke-width="0" fill-opacity="0.6"/>
<line x1="379.98" y1="118.75" x2="381.94" y2="118.75" stroke="#333" stroke-width="0.45"/>
<text x="379.01" y="86.21" font-size="8.3" text-anchor="middle" fill="#111" font-weight="bold">***</text>
<text x="378.51" y="131.5" font-size="5.2" text-anchor="end" fill="#222" font-weight="normal" stroke="#222" stroke-width="0.18" transform="rotate(-45 378.51 131.5)" dominant-baseline="hanging">T cells follicular helper</text>
<rect x="388.16" y="83.1" width="0.66" height="29.1" fill="url(#tg)" stroke="none" stroke-width="0.5"/>
<path d="M388.59,111.2 L388.64,111.55 L388.68,111.91 L388.72,112.26 L388.77,112.61 L388.81,112.97 L388.86,113.32 L388.9,113.67 L388.95,114.02 L388.99,114.38 L389.03,114.73 L389.08,115.08 L389.12,115.44 L389.16,115.79 L389.2,116.14 L389.25,116.5 L389.29,116.85 L389.34,117.2 L389.39,117.56 L389.44,117.91 L389.5,118.26 L389.55,118.61 L389.61,118.97 L389.66,119.32 L389.71,119.67 L389.75,120.03 L389.79,120.38 L389.83,120.73 L389.86,121.09 L389.88,121.44 L389.89,121.79 L389.89,122.14 L389.88,122.5 L389.85,122.85 L389.81,123.2 L389.77,123.56 L389.72,123.91 L389.66,124.26 L389.6,124.62 L389.54,124.97 L389.49,125.32 L389.43,125.68 L389.36,126.03 L389.28,126.38 L389.2,126.73 L389.12,127.09 L389.03,127.44 L388.94,127.79 L388.84,128.15 L388.74,128.5 L388.24,128.5 L388.14,128.15 L388.04,127.79 L387.95,127.44 L387.86,127.09 L387.78,126.73 L387.7,126.38 L387.62,126.03 L387.55,125.68 L387.49,125.32 L387.44,124.97 L387.38,124.62 L387.32,124.26 L387.26,123.91 L387.21,123.56 L387.17,123.2 L387.13,122.85 L387.1,122.5 L387.09,122.14 L387.09,121.79 L387.1,121.44 L387.12,121.09 L387.15,120.73 L387.19,120.38 L387.23,120.03 L387.27,119.67 L387.32,119.32 L387.37,118.97 L387.43,118.61 L387.48,118.26 L387.54,117.91 L387.59,117.56 L387.64,117.2 L387.69,116.85 L387.73,116.5 L387.78,116.14 L387.82,115.79 L387.86,115.44 L387.9,115.08 L387.95,114.73 L387.99,114.38 L388.03,114.02 L388.08,113.67 L388.12,113.32 L388.17,112.97 L388.21,112.61 L388.26,112.26 L388.3,111.91 L388.34,111.55 L388.39,111.2Z" fill="#66CF52" stroke="#2a4a26" stroke-width="0.4"/>
<rect x="388.07" y="119.11" width="0.84" height="5.19" fill="#fff" stroke="none" stroke-width="0" fill-opacity="0.6"/>
<line x1="387.51" y1="122.5" x2="389.47" y2="122.5" stroke="#333" stroke-width="0.45"/>
<rect x="392.06" y="96" width="0.66" height="17.5" fill="url(#tg)" stroke="none" stroke-width="0.5"/>
<path d="M392.49,112.5 L392.53,112.83 L392.57,113.15 L392.6,113.48 L392.64,113.81 L392.68,114.13 L392.72,114.46 L392.76,114.79 L392.79,115.11 L392.83,115.44 L392.87,115.77 L392.91,116.09 L392.94,116.42 L392.98,116.74 L393.02,117.07 L393.05,117.4 L393.09,117.72 L393.13,118.05 L393.17,118.38 L393.22,118.7 L393.26,119.03 L393.31,119.36 L393.36,119.68 L393.4,120.01 L393.45,120.34 L393.49,120.66 L393.53,120.99 L393.57,121.32 L393.6,121.64 L393.63,121.97 L393.65,122.3 L393.66,122.62 L393.67,122.95 L393.66,123.28 L393.64,123.6 L393.61,123.93 L393.57,124.26 L393.52,124.58 L393.46,124.91 L393.4,125.23 L393.34,125.56 L393.29,125.89 L393.23,126.21 L393.16,126.54 L393.08,126.87 L393,127.19 L392.92,127.52 L392.83,127.85 L392.74,128.17 L392.64,128.5 L392.14,128.5 L392.04,128.17 L391.95,127.85 L391.86,127.52 L391.78,127.19 L391.7,126.87 L391.62,126.54 L391.55,126.21 L391.49,125.89 L391.44,125.56 L391.38,125.23 L391.32,124.91 L391.26,124.58 L391.21,124.26 L391.17,123.93 L391.14,123.6 L391.12,123.28 L391.11,122.95 L391.12,122.62 L391.13,122.3 L391.15,121.97 L391.18,121.64 L391.21,121.32 L391.25,120.99 L391.29,120.66 L391.33,120.34 L391.38,120.01 L391.42,119.68 L391.47,119.36 L391.52,119.03 L391.56,118.7 L391.61,118.38 L391.65,118.05 L391.69,117.72 L391.73,117.4 L391.76,117.07 L391.8,116.74 L391.84,116.42 L391.87,116.09 L391.91,115.77 L391.95,115.44 L391.99,115.11 L392.02,114.79 L392.06,114.46 L392.1,114.13 L392.14,113.81 L392.18,113.48 L392.21,113.15 L392.25,112.83 L392.29,112.5Z" fill="#E25272" stroke="#5a1f2c" stroke-width="0.4"/>
<rect x="392.01" y="119.85" width="0.77" height="4.8" fill="#fff" stroke="none" stroke-width="0" fill-opacity="0.6"/>
<line x1="391.49" y1="123" x2="393.29" y2="123" stroke="#333" stroke-width="0.45"/>
<text x="389.94" y="131.5" font-size="5.2" text-anchor="end" fill="#222" font-weight="normal" stroke="#222" stroke-width="0.18" transform="rotate(-45 389.94 131.5)" dominant-baseline="hanging">T cells regulatory (Tregs)</text>
<rect x="399.59" y="116" width="0.66" height="11" fill="url(#tg)" stroke="none" stroke-width="0.5"/>
<path d="M400.02,126 L400.05,126.07 L400.07,126.14 L400.1,126.21 L400.13,126.28 L400.15,126.35 L400.18,126.42 L400.21,126.49 L400.24,126.56 L400.26,126.62 L400.29,126.69 L400.32,126.76 L400.34,126.83 L400.37,126.9 L400.4,126.97 L400.42,127.04 L400.45,127.11 L400.48,127.18 L400.51,127.25 L400.55,127.32 L400.58,127.39 L400.62,127.46 L400.65,127.53 L400.69,127.6 L400.73,127.67 L400.76,127.73 L400.79,127.8 L400.82,127.87 L400.84,127.94 L400.86,128.01 L400.87,128.08 L400.88,128.15 L400.88,128.22 L400.87,128.29 L400.85,128.36 L400.82,128.43 L400.79,128.5 L400.75,128.57 L400.71,128.64 L400.67,128.71 L400.63,128.78 L400.59,128.84 L400.54,128.91 L400.5,128.98 L400.45,129.05 L400.4,129.12 L400.34,129.19 L400.29,129.26 L400.23,129.33 L400.17,129.4 L399.67,129.4 L399.61,129.33 L399.55,129.26 L399.5,129.19 L399.44,129.12 L399.39,129.05 L399.34,128.98 L399.3,128.91 L399.25,128.84 L399.21,128.78 L399.17,128.71 L399.13,128.64 L399.09,128.57 L399.05,128.5 L399.02,128.43 L398.99,128.36 L398.97,128.29 L398.96,128.22 L398.96,128.15 L398.97,128.08 L398.98,128.01 L399,127.94 L399.02,127.87 L399.05,127.8 L399.08,127.73 L399.11,127.67 L399.15,127.6 L399.19,127.53 L399.22,127.46 L399.26,127.39 L399.29,127.32 L399.33,127.25 L399.36,127.18 L399.39,127.11 L399.42,127.04 L399.44,126.97 L399.47,126.9 L399.5,126.83 L399.52,126.76 L399.55,126.69 L399.58,126.62 L399.6,126.56 L399.63,126.49 L399.66,126.42 L399.69,126.35 L399.71,126.28 L399.74,126.21 L399.77,126.14 L399.79,126.07 L399.82,126Z" fill="#66CF52" stroke="#2a4a26" stroke-width="0.4"/>
<line x1="399.25" y1="128.4" x2="400.59" y2="128.4" stroke="#333" stroke-width="0.45"/>
<rect x="403.49" y="99.5" width="0.66" height="27.5" fill="url(#tg)" stroke="none" stroke-width="0.5"/>
<path d="M403.92,126 L403.95,126.07 L403.97,126.14 L404,126.21 L404.03,126.28 L404.05,126.35 L404.08,126.42 L404.11,126.49 L404.14,126.56 L404.16,126.62 L404.19,126.69 L404.22,126.76 L404.24,126.83 L404.27,126.9 L404.3,126.97 L404.32,127.04 L404.35,127.11 L404.38,127.18 L404.41,127.25 L404.45,127.32 L404.48,127.39 L404.52,127.46 L404.55,127.53 L404.59,127.6 L404.63,127.67 L404.66,127.73 L404.69,127.8 L404.72,127.87 L404.74,127.94 L404.76,128.01 L404.77,128.08 L404.78,128.15 L404.78,128.22 L404.77,128.29 L404.75,128.36 L404.72,128.43 L404.69,128.5 L404.65,128.57 L404.61,128.64 L404.57,128.71 L404.53,128.78 L404.49,128.84 L404.44,128.91 L404.4,128.98 L404.35,129.05 L404.3,129.12 L404.24,129.19 L404.19,129.26 L404.13,129.33 L404.07,129.4 L403.57,129.4 L403.51,129.33 L403.45,129.26 L403.4,129.19 L403.34,129.12 L403.29,129.05 L403.24,128.98 L403.2,128.91 L403.15,128.84 L403.11,128.78 L403.07,128.71 L403.03,128.64 L402.99,128.57 L402.95,128.5 L402.92,128.43 L402.89,128.36 L402.87,128.29 L402.86,128.22 L402.86,128.15 L402.87,128.08 L402.88,128.01 L402.9,127.94 L402.92,127.87 L402.95,127.8 L402.98,127.73 L403.01,127.67 L403.05,127.6 L403.09,127.53 L403.12,127.46 L403.16,127.39 L403.19,127.32 L403.23,127.25 L403.26,127.18 L403.29,127.11 L403.32,127.04 L403.34,126.97 L403.37,126.9 L403.4,126.83 L403.42,126.76 L403.45,126.69 L403.48,126.62 L403.5,126.56 L403.53,126.49 L403.56,126.42 L403.59,126.35 L403.61,126.28 L403.64,126.21 L403.67,126.14 L403.69,126.07 L403.72,126Z" fill="#E25272" stroke="#5a1f2c" stroke-width="0.4"/>
<line x1="403.15" y1="128.4" x2="404.49" y2="128.4" stroke="#333" stroke-width="0.45"/>
<text x="401.87" y="103.61" font-size="8.3" text-anchor="middle" fill="#111" font-weight="bold">**</text>
<text x="401.37" y="131.5" font-size="5.2" text-anchor="end" fill="#222" font-weight="normal" stroke="#222" stroke-width="0.18" transform="rotate(-45 401.37 131.5)" dominant-baseline="hanging">T cells gamma delta</text>
<rect x="411.02" y="104.2" width="0.66" height="20.5" fill="url(#tg)" stroke="none" stroke-width="0.5"/>
<path d="M411.45,123.7 L411.49,123.81 L411.52,123.92 L411.56,124.04 L411.59,124.15 L411.63,124.26 L411.66,124.37 L411.7,124.49 L411.73,124.6 L411.77,124.71 L411.8,124.82 L411.84,124.93 L411.87,125.05 L411.91,125.16 L411.94,125.27 L411.97,125.38 L412.01,125.5 L412.04,125.61 L412.08,125.72 L412.13,125.83 L412.17,125.94 L412.21,126.06 L412.26,126.17 L412.3,126.28 L412.35,126.39 L412.39,126.51 L412.43,126.62 L412.46,126.73 L412.49,126.84 L412.51,126.96 L412.53,127.07 L412.55,127.18 L412.55,127.29 L412.54,127.4 L412.52,127.52 L412.49,127.63 L412.45,127.74 L412.4,127.85 L412.35,127.97 L412.3,128.08 L412.24,128.19 L412.19,128.3 L412.13,128.41 L412.07,128.53 L412,128.64 L411.93,128.75 L411.85,128.86 L411.77,128.98 L411.69,129.09 L411.6,129.2 L411.1,129.2 L411.01,129.09 L410.93,128.98 L410.85,128.86 L410.77,128.75 L410.7,128.64 L410.63,128.53 L410.57,128.41 L410.51,128.3 L410.46,128.19 L410.4,128.08 L410.35,127.97 L410.3,127.85 L410.25,127.74 L410.21,127.63 L410.18,127.52 L410.16,127.4 L410.15,127.29 L410.15,127.18 L410.17,127.07 L410.19,126.96 L410.21,126.84 L410.24,126.73 L410.27,126.62 L410.31,126.51 L410.35,126.39 L410.4,126.28 L410.44,126.17 L410.49,126.06 L410.53,125.94 L410.57,125.83 L410.62,125.72 L410.66,125.61 L410.69,125.5 L410.73,125.38 L410.76,125.27 L410.79,125.16 L410.83,125.05 L410.86,124.93 L410.9,124.82 L410.93,124.71 L410.97,124.6 L411,124.49 L411.04,124.37 L411.07,124.26 L411.11,124.15 L411.14,124.04 L411.18,123.92 L411.21,123.81 L411.25,123.7Z" fill="#66CF52" stroke="#2a4a26" stroke-width="0.4"/>
<rect x="410.99" y="126.5" width="0.72" height="1.65" fill="#fff" stroke="none" stroke-width="0" fill-opacity="0.6"/>
<line x1="410.51" y1="127.7" x2="412.19" y2="127.7" stroke="#333" stroke-width="0.45"/>
<rect x="414.92" y="99.5" width="0.66" height="22.1" fill="url(#tg)" stroke="none" stroke-width="0.5"/>
<path d="M415.35,120.6 L415.38,120.78 L415.42,120.95 L415.45,121.13 L415.49,121.3 L415.52,121.48 L415.55,121.65 L415.59,121.83 L415.62,122 L415.65,122.18 L415.69,122.36 L415.72,122.53 L415.75,122.71 L415.78,122.88 L415.82,123.06 L415.85,123.23 L415.88,123.41 L415.92,123.58 L415.95,123.76 L415.99,123.93 L416.03,124.11 L416.07,124.29 L416.11,124.46 L416.16,124.64 L416.2,124.81 L416.24,124.99 L416.28,125.16 L416.32,125.34 L416.35,125.51 L416.38,125.69 L416.41,125.87 L416.43,126.04 L416.44,126.22 L416.45,126.39 L416.45,126.57 L416.43,126.74 L416.4,126.92 L416.36,127.09 L416.31,127.27 L416.25,127.44 L416.19,127.62 L416.13,127.8 L416.07,127.97 L416.01,128.15 L415.94,128.32 L415.86,128.5 L415.78,128.67 L415.69,128.85 L415.6,129.02 L415.5,129.2 L415,129.2 L414.9,129.02 L414.81,128.85 L414.72,128.67 L414.64,128.5 L414.56,128.32 L414.49,128.15 L414.43,127.97 L414.37,127.8 L414.31,127.62 L414.25,127.44 L414.19,127.27 L414.14,127.09 L414.1,126.92 L414.07,126.74 L414.05,126.57 L414.05,126.39 L414.06,126.22 L414.07,126.04 L414.09,125.87 L414.12,125.69 L414.15,125.51 L414.18,125.34 L414.22,125.16 L414.26,124.99 L414.3,124.81 L414.34,124.64 L414.39,124.46 L414.43,124.29 L414.47,124.11 L414.51,123.93 L414.55,123.76 L414.58,123.58 L414.62,123.41 L414.65,123.23 L414.68,123.06 L414.72,122.88 L414.75,122.71 L414.78,122.53 L414.81,122.36 L414.85,122.18 L414.88,122 L414.91,121.83 L414.95,121.65 L414.98,121.48 L415.01,121.3 L415.05,121.13 L415.08,120.95 L415.12,120.78 L415.15,120.6Z" fill="#E25272" stroke="#5a1f2c" stroke-width="0.4"/>
<rect x="414.89" y="124.8" width="0.72" height="2.58" fill="#fff" stroke="none" stroke-width="0" fill-opacity="0.6"/>
<line x1="414.41" y1="126.6" x2="416.09" y2="126.6" stroke="#333" stroke-width="0.45"/>
<text x="413.3" y="101.61" font-size="8.3" text-anchor="middle" fill="#111" font-weight="bold">*</text>
<text x="412.8" y="131.5" font-size="5.2" text-anchor="end" fill="#222" font-weight="normal" stroke="#222" stroke-width="0.18" transform="rotate(-45 412.8 131.5)" dominant-baseline="hanging">NK cells resting</text>
<rect x="422.45" y="108.9" width="0.66" height="14.1" fill="url(#tg)" stroke="none" stroke-width="0.5"/>
<path d="M422.88,122 L422.91,122.15 L422.94,122.29 L422.97,122.44 L423,122.59 L423.03,122.73 L423.06,122.88 L423.09,123.03 L423.12,123.18 L423.15,123.32 L423.18,123.47 L423.21,123.62 L423.25,123.76 L423.28,123.91 L423.31,124.06 L423.34,124.2 L423.37,124.35 L423.4,124.5 L423.43,124.64 L423.46,124.79 L423.5,124.94 L423.54,125.09 L423.58,125.23 L423.61,125.38 L423.65,125.53 L423.69,125.67 L423.73,125.82 L423.76,125.97 L423.8,126.11 L423.83,126.26 L423.85,126.41 L423.87,126.56 L423.89,126.7 L423.9,126.85 L423.9,127 L423.89,127.14 L423.87,127.29 L423.83,127.44 L423.78,127.58 L423.73,127.73 L423.67,127.88 L423.61,128.02 L423.56,128.17 L423.5,128.32 L423.43,128.47 L423.36,128.61 L423.29,128.76 L423.2,128.91 L423.12,129.05 L423.03,129.2 L422.53,129.2 L422.44,129.05 L422.36,128.91 L422.27,128.76 L422.2,128.61 L422.13,128.47 L422.06,128.32 L422,128.17 L421.95,128.02 L421.89,127.88 L421.83,127.73 L421.78,127.58 L421.73,127.44 L421.69,127.29 L421.67,127.14 L421.66,127 L421.66,126.85 L421.67,126.7 L421.69,126.56 L421.71,126.41 L421.73,126.26 L421.76,126.11 L421.8,125.97 L421.83,125.82 L421.87,125.67 L421.91,125.53 L421.95,125.38 L421.98,125.23 L422.02,125.09 L422.06,124.94 L422.1,124.79 L422.13,124.64 L422.16,124.5 L422.19,124.35 L422.22,124.2 L422.25,124.06 L422.28,123.91 L422.31,123.76 L422.35,123.62 L422.38,123.47 L422.41,123.32 L422.44,123.18 L422.47,123.03 L422.5,122.88 L422.53,122.73 L422.56,122.59 L422.59,122.44 L422.62,122.29 L422.65,122.15 L422.68,122Z" fill="#66CF52" stroke="#2a4a26" stroke-width="0.4"/>
<rect x="422.44" y="125.71" width="0.67" height="2.16" fill="#fff" stroke="none" stroke-width="0" fill-opacity="0.6"/>
<line x1="422" y1="127.3" x2="423.56" y2="127.3" stroke="#333" stroke-width="0.45"/>
<rect x="426.35" y="106.6" width="0.66" height="13.4" fill="url(#tg)" stroke="none" stroke-width="0.5"/>
<path d="M426.78,119 L426.81,119.21 L426.85,119.42 L426.88,119.62 L426.92,119.83 L426.95,120.04 L426.98,120.25 L427.02,120.46 L427.05,120.67 L427.08,120.87 L427.12,121.08 L427.15,121.29 L427.18,121.5 L427.21,121.71 L427.25,121.91 L427.28,122.12 L427.31,122.33 L427.35,122.54 L427.38,122.75 L427.42,122.96 L427.46,123.16 L427.5,123.37 L427.54,123.58 L427.59,123.79 L427.63,124 L427.67,124.2 L427.71,124.41 L427.75,124.62 L427.78,124.83 L427.81,125.04 L427.84,125.24 L427.86,125.45 L427.87,125.66 L427.88,125.87 L427.88,126.08 L427.86,126.29 L427.83,126.49 L427.79,126.7 L427.74,126.91 L427.68,127.12 L427.62,127.33 L427.56,127.53 L427.5,127.74 L427.44,127.95 L427.37,128.16 L427.29,128.37 L427.21,128.58 L427.12,128.78 L427.03,128.99 L426.93,129.2 L426.43,129.2 L426.33,128.99 L426.24,128.78 L426.15,128.58 L426.07,128.37 L425.99,128.16 L425.92,127.95 L425.86,127.74 L425.8,127.53 L425.74,127.33 L425.68,127.12 L425.62,126.91 L425.57,126.7 L425.53,126.49 L425.5,126.29 L425.48,126.08 L425.48,125.87 L425.49,125.66 L425.5,125.45 L425.52,125.24 L425.55,125.04 L425.58,124.83 L425.61,124.62 L425.65,124.41 L425.69,124.2 L425.73,124 L425.77,123.79 L425.82,123.58 L425.86,123.37 L425.9,123.16 L425.94,122.96 L425.98,122.75 L426.01,122.54 L426.05,122.33 L426.08,122.12 L426.11,121.91 L426.15,121.71 L426.18,121.5 L426.21,121.29 L426.24,121.08 L426.28,120.87 L426.31,120.67 L426.34,120.46 L426.38,120.25 L426.41,120.04 L426.44,119.83 L426.48,119.62 L426.51,119.42 L426.55,119.21 L426.58,119Z" fill="#E25272" stroke="#5a1f2c" stroke-width="0.4"/>
<rect x="426.32" y="124.11" width="0.72" height="3.06" fill="#fff" stroke="none" stroke-width="0" fill-opacity="0.6"/>
<line x1="425.84" y1="126.3" x2="427.52" y2="126.3" stroke="#333" stroke-width="0.45"/>
<text x="424.23" y="131.5" font-size="5.2" text-anchor="end" fill="#222" font-weight="normal" stroke="#222" stroke-width="0.18" transform="rotate(-45 424.23 131.5)" dominant-baseline="hanging">NK cells activated</text>
<rect x="433.88" y="84.7" width="0.66" height="35.3" fill="url(#tg)" stroke="none" stroke-width="0.5"/>
<path d="M434.31,119 L434.34,119.21 L434.38,119.42 L434.41,119.62 L434.45,119.83 L434.48,120.04 L434.51,120.25 L434.55,120.46 L434.58,120.67 L434.61,120.87 L434.65,121.08 L434.68,121.29 L434.71,121.5 L434.74,121.71 L434.78,121.91 L434.81,122.12 L434.84,122.33 L434.88,122.54 L434.91,122.75 L434.95,122.96 L434.99,123.16 L435.03,123.37 L435.07,123.58 L435.12,123.79 L435.16,124 L435.2,124.2 L435.24,124.41 L435.28,124.62 L435.31,124.83 L435.34,125.04 L435.37,125.24 L435.39,125.45 L435.4,125.66 L435.41,125.87 L435.41,126.08 L435.39,126.29 L435.36,126.49 L435.32,126.7 L435.27,126.91 L435.21,127.12 L435.15,127.33 L435.09,127.53 L435.03,127.74 L434.97,127.95 L434.9,128.16 L434.82,128.37 L434.74,128.58 L434.65,128.78 L434.56,128.99 L434.46,129.2 L433.96,129.2 L433.86,128.99 L433.77,128.78 L433.68,128.58 L433.6,128.37 L433.52,128.16 L433.45,127.95 L433.39,127.74 L433.33,127.53 L433.27,127.33 L433.21,127.12 L433.15,126.91 L433.1,126.7 L433.06,126.49 L433.03,126.29 L433.01,126.08 L433.01,125.87 L433.02,125.66 L433.03,125.45 L433.05,125.24 L433.08,125.04 L433.11,124.83 L433.14,124.62 L433.18,124.41 L433.22,124.2 L433.26,124 L433.3,123.79 L433.35,123.58 L433.39,123.37 L433.43,123.16 L433.47,122.96 L433.51,122.75 L433.54,122.54 L433.58,122.33 L433.61,122.12 L433.64,121.91 L433.68,121.71 L433.71,121.5 L433.74,121.29 L433.77,121.08 L433.81,120.87 L433.84,120.67 L433.87,120.46 L433.91,120.25 L433.94,120.04 L433.97,119.83 L434.01,119.62 L434.04,119.42 L434.08,119.21 L434.11,119Z" fill="#66CF52" stroke="#2a4a26" stroke-width="0.4"/>
<rect x="433.85" y="124.6" width="0.72" height="3.06" fill="#fff" stroke="none" stroke-width="0" fill-opacity="0.6"/>
<line x1="433.37" y1="127" x2="435.05" y2="127" stroke="#333" stroke-width="0.45"/>
<rect x="437.78" y="108.1" width="0.66" height="14.9" fill="url(#tg)" stroke="none" stroke-width="0.5"/>
<path d="M438.21,122 L438.24,122.15 L438.27,122.29 L438.3,122.44 L438.33,122.59 L438.36,122.73 L438.39,122.88 L438.42,123.03 L438.45,123.18 L438.48,123.32 L438.51,123.47 L438.54,123.62 L438.58,123.76 L438.61,123.91 L438.64,124.06 L438.67,124.2 L438.7,124.35 L438.73,124.5 L438.76,124.64 L438.79,124.79 L438.83,124.94 L438.87,125.09 L438.91,125.23 L438.94,125.38 L438.98,125.53 L439.02,125.67 L439.06,125.82 L439.09,125.97 L439.13,126.11 L439.16,126.26 L439.18,126.41 L439.2,126.56 L439.22,126.7 L439.23,126.85 L439.23,127 L439.22,127.14 L439.2,127.29 L439.16,127.44 L439.11,127.58 L439.06,127.73 L439,127.88 L438.94,128.02 L438.89,128.17 L438.83,128.32 L438.76,128.47 L438.69,128.61 L438.62,128.76 L438.53,128.91 L438.45,129.05 L438.36,129.2 L437.86,129.2 L437.77,129.05 L437.69,128.91 L437.6,128.76 L437.53,128.61 L437.46,128.47 L437.39,128.32 L437.33,128.17 L437.28,128.02 L437.22,127.88 L437.16,127.73 L437.11,127.58 L437.06,127.44 L437.02,127.29 L437,127.14 L436.99,127 L436.99,126.85 L437,126.7 L437.02,126.56 L437.04,126.41 L437.06,126.26 L437.09,126.11 L437.13,125.97 L437.16,125.82 L437.2,125.67 L437.24,125.53 L437.28,125.38 L437.31,125.23 L437.35,125.09 L437.39,124.94 L437.43,124.79 L437.46,124.64 L437.49,124.5 L437.52,124.35 L437.55,124.2 L437.58,124.06 L437.61,123.91 L437.64,123.76 L437.68,123.62 L437.71,123.47 L437.74,123.32 L437.77,123.18 L437.8,123.03 L437.83,122.88 L437.86,122.73 L437.89,122.59 L437.92,122.44 L437.95,122.29 L437.98,122.15 L438.01,122Z" fill="#E25272" stroke="#5a1f2c" stroke-width="0.4"/>
<rect x="437.77" y="125.71" width="0.67" height="2.16" fill="#fff" stroke="none" stroke-width="0" fill-opacity="0.6"/>
<line x1="437.33" y1="127.3" x2="438.89" y2="127.3" stroke="#333" stroke-width="0.45"/>
<text x="435.66" y="131.5" font-size="5.2" text-anchor="end" fill="#222" font-weight="normal" stroke="#222" stroke-width="0.18" transform="rotate(-45 435.66 131.5)" dominant-baseline="hanging">Monocytes</text>
<rect x="445.31" y="11.6" width="0.66" height="73.4" fill="url(#tg)" stroke="none" stroke-width="0.5"/>
<path d="M445.74,84 L445.79,84.91 L445.85,85.83 L445.9,86.74 L445.95,87.66 L446,88.57 L446.05,89.49 L446.11,90.4 L446.16,91.31 L446.21,92.23 L446.26,93.14 L446.31,94.06 L446.36,94.97 L446.41,95.89 L446.46,96.8 L446.51,97.71 L446.56,98.63 L446.62,99.54 L446.68,100.46 L446.74,101.37 L446.81,102.29 L446.87,103.2 L446.93,104.11 L446.99,105.03 L447.04,105.94 L447.09,106.86 L447.13,107.77 L447.16,108.69 L447.19,109.6 L447.2,110.51 L447.2,111.43 L447.18,112.34 L447.16,113.26 L447.12,114.17 L447.07,115.09 L447.02,116 L446.96,116.91 L446.9,117.83 L446.84,118.74 L446.78,119.66 L446.72,120.57 L446.65,121.49 L446.57,122.4 L446.49,123.31 L446.4,124.23 L446.31,125.14 L446.21,126.06 L446.11,126.97 L446,127.89 L445.89,128.8 L445.39,128.8 L445.28,127.89 L445.17,126.97 L445.07,126.06 L444.97,125.14 L444.88,124.23 L444.79,123.31 L444.71,122.4 L444.63,121.49 L444.56,120.57 L444.5,119.66 L444.44,118.74 L444.38,117.83 L444.32,116.91 L444.26,116 L444.21,115.09 L444.16,114.17 L444.12,113.26 L444.1,112.34 L444.08,111.43 L444.08,110.51 L444.09,109.6 L444.12,108.69 L444.15,107.77 L444.19,106.86 L444.24,105.94 L444.29,105.03 L444.35,104.11 L444.41,103.2 L444.47,102.29 L444.54,101.37 L444.6,100.46 L444.66,99.54 L444.72,98.63 L444.77,97.71 L444.82,96.8 L444.87,95.89 L444.92,94.97 L444.97,94.06 L445.02,93.14 L445.07,92.23 L445.12,91.31 L445.17,90.4 L445.23,89.49 L445.28,88.57 L445.33,87.66 L445.38,86.74 L445.43,85.83 L445.49,84.91 L445.54,84Z" fill="#66CF52" stroke="#2a4a26" stroke-width="0.4"/>
<rect x="445.17" y="102.83" width="0.94" height="13.44" fill="#fff" stroke="none" stroke-width="0" fill-opacity="0.6"/>
<line x1="444.55" y1="110.9" x2="446.73" y2="110.9" stroke="#333" stroke-width="0.45"/>
<rect x="449.21" y="24.2" width="0.66" height="44.8" fill="url(#tg)" stroke="none" stroke-width="0.5"/>
<path d="M449.64,68 L449.69,69.23 L449.74,70.47 L449.78,71.7 L449.83,72.93 L449.88,74.16 L449.93,75.4 L449.98,76.63 L450.02,77.86 L450.07,79.09 L450.12,80.33 L450.16,81.56 L450.21,82.79 L450.26,84.02 L450.3,85.26 L450.35,86.49 L450.4,87.72 L450.46,88.96 L450.51,90.19 L450.57,91.42 L450.63,92.65 L450.69,93.89 L450.74,95.12 L450.79,96.35 L450.84,97.58 L450.88,98.82 L450.91,100.05 L450.93,101.28 L450.94,102.51 L450.94,103.75 L450.92,104.98 L450.9,106.21 L450.87,107.44 L450.83,108.68 L450.79,109.91 L450.74,111.14 L450.69,112.38 L450.64,113.61 L450.58,114.84 L450.53,116.07 L450.48,117.31 L450.42,118.54 L450.35,119.77 L450.28,121 L450.21,122.24 L450.13,123.47 L450.05,124.7 L449.97,125.93 L449.88,127.17 L449.79,128.4 L449.29,128.4 L449.2,127.17 L449.11,125.93 L449.03,124.7 L448.95,123.47 L448.87,122.24 L448.8,121 L448.73,119.77 L448.66,118.54 L448.6,117.31 L448.55,116.07 L448.5,114.84 L448.44,113.61 L448.39,112.38 L448.34,111.14 L448.29,109.91 L448.25,108.68 L448.21,107.44 L448.18,106.21 L448.16,104.98 L448.14,103.75 L448.14,102.51 L448.15,101.28 L448.17,100.05 L448.2,98.82 L448.24,97.58 L448.29,96.35 L448.34,95.12 L448.39,93.89 L448.45,92.65 L448.51,91.42 L448.57,90.19 L448.62,88.96 L448.68,87.72 L448.73,86.49 L448.78,85.26 L448.82,84.02 L448.87,82.79 L448.92,81.56 L448.96,80.33 L449.01,79.09 L449.06,77.86 L449.1,76.63 L449.15,75.4 L449.2,74.16 L449.25,72.93 L449.3,71.7 L449.34,70.47 L449.39,69.23 L449.44,68Z" fill="#E25272" stroke="#5a1f2c" stroke-width="0.4"/>
<rect x="449.12" y="92.57" width="0.84" height="18.12" fill="#fff" stroke="none" stroke-width="0" fill-opacity="0.6"/>
<line x1="448.56" y1="103.1" x2="450.52" y2="103.1" stroke="#333" stroke-width="0.45"/>
<text x="447.59" y="13.71" font-size="8.3" text-anchor="middle" fill="#111" font-weight="bold">***</text>
<text x="447.09" y="131.5" font-size="5.2" text-anchor="end" fill="#222" font-weight="normal" stroke="#222" stroke-width="0.18" transform="rotate(-45 447.09 131.5)" dominant-baseline="hanging">Macrophages M0</text>
<rect x="456.74" y="84" width="0.66" height="16.8" fill="url(#tg)" stroke="none" stroke-width="0.5"/>
<path d="M457.17,99.8 L457.23,100.37 L457.28,100.94 L457.34,101.51 L457.4,102.08 L457.45,102.65 L457.51,103.22 L457.56,103.79 L457.62,104.36 L457.67,104.92 L457.73,105.49 L457.78,106.06 L457.84,106.63 L457.89,107.2 L457.95,107.77 L458.01,108.34 L458.08,108.91 L458.14,109.48 L458.21,110.05 L458.28,110.62 L458.34,111.19 L458.4,111.76 L458.45,112.33 L458.49,112.9 L458.53,113.47 L458.54,114.03 L458.55,114.6 L458.54,115.17 L458.53,115.74 L458.5,116.31 L458.47,116.88 L458.44,117.45 L458.4,118.02 L458.35,118.59 L458.3,119.16 L458.25,119.73 L458.2,120.3 L458.16,120.87 L458.11,121.44 L458.05,122.01 L458,122.58 L457.94,123.14 L457.87,123.71 L457.8,124.28 L457.73,124.85 L457.65,125.42 L457.57,125.99 L457.49,126.56 L457.41,127.13 L457.32,127.7 L456.82,127.7 L456.73,127.13 L456.65,126.56 L456.57,125.99 L456.49,125.42 L456.41,124.85 L456.34,124.28 L456.27,123.71 L456.2,123.14 L456.14,122.58 L456.09,122.01 L456.03,121.44 L455.98,120.87 L455.94,120.3 L455.89,119.73 L455.84,119.16 L455.79,118.59 L455.74,118.02 L455.7,117.45 L455.67,116.88 L455.64,116.31 L455.61,115.74 L455.6,115.17 L455.59,114.6 L455.6,114.03 L455.61,113.47 L455.65,112.9 L455.69,112.33 L455.74,111.76 L455.8,111.19 L455.86,110.62 L455.93,110.05 L456,109.48 L456.06,108.91 L456.13,108.34 L456.19,107.77 L456.25,107.2 L456.3,106.63 L456.36,106.06 L456.41,105.49 L456.47,104.92 L456.52,104.36 L456.58,103.79 L456.63,103.22 L456.69,102.65 L456.74,102.08 L456.8,101.51 L456.86,100.94 L456.91,100.37 L456.97,99.8Z" fill="#66CF52" stroke="#2a4a26" stroke-width="0.4"/>
<rect x="456.63" y="110.86" width="0.89" height="8.37" fill="#fff" stroke="none" stroke-width="0" fill-opacity="0.6"/>
<line x1="456.03" y1="115.6" x2="458.11" y2="115.6" stroke="#333" stroke-width="0.45"/>
<rect x="460.64" y="87.7" width="0.66" height="16.8" fill="url(#tg)" stroke="none" stroke-width="0.5"/>
<path d="M461.07,103.5 L461.12,103.99 L461.17,104.49 L461.22,104.98 L461.27,105.48 L461.32,105.97 L461.37,106.46 L461.42,106.96 L461.47,107.45 L461.52,107.94 L461.57,108.44 L461.61,108.93 L461.66,109.43 L461.71,109.92 L461.76,110.41 L461.82,110.91 L461.87,111.4 L461.94,111.9 L462,112.39 L462.06,112.88 L462.12,113.38 L462.17,113.87 L462.22,114.37 L462.26,114.86 L462.3,115.35 L462.32,115.85 L462.33,116.34 L462.33,116.83 L462.32,117.33 L462.3,117.82 L462.27,118.32 L462.24,118.81 L462.2,119.3 L462.16,119.8 L462.12,120.29 L462.07,120.79 L462.02,121.28 L461.98,121.77 L461.93,122.27 L461.89,122.76 L461.83,123.26 L461.78,123.75 L461.72,124.24 L461.66,124.74 L461.59,125.23 L461.52,125.72 L461.45,126.22 L461.38,126.71 L461.3,127.21 L461.22,127.7 L460.72,127.7 L460.64,127.21 L460.56,126.71 L460.49,126.22 L460.42,125.72 L460.35,125.23 L460.28,124.74 L460.22,124.24 L460.16,123.75 L460.11,123.26 L460.05,122.76 L460.01,122.27 L459.96,121.77 L459.92,121.28 L459.87,120.79 L459.82,120.29 L459.78,119.8 L459.74,119.3 L459.7,118.81 L459.67,118.32 L459.64,117.82 L459.62,117.33 L459.61,116.83 L459.61,116.34 L459.62,115.85 L459.64,115.35 L459.68,114.86 L459.72,114.37 L459.77,113.87 L459.82,113.38 L459.88,112.88 L459.94,112.39 L460,111.9 L460.07,111.4 L460.12,110.91 L460.18,110.41 L460.23,109.92 L460.28,109.43 L460.33,108.93 L460.37,108.44 L460.42,107.94 L460.47,107.45 L460.52,106.96 L460.57,106.46 L460.62,105.97 L460.67,105.48 L460.72,104.98 L460.77,104.49 L460.82,103.99 L460.87,103.5Z" fill="#E25272" stroke="#5a1f2c" stroke-width="0.4"/>
<rect x="460.56" y="112.67" width="0.82" height="7.26" fill="#fff" stroke="none" stroke-width="0" fill-opacity="0.6"/>
<line x1="460.02" y1="116.6" x2="461.92" y2="116.6" stroke="#333" stroke-width="0.45"/>
<text x="458.52" y="131.5" font-size="5.2" text-anchor="end" fill="#222" font-weight="normal" stroke="#222" stroke-width="0.18" transform="rotate(-45 458.52 131.5)" dominant-baseline="hanging">Macrophages M1</text>
<rect x="468.17" y="50.8" width="0.66" height="32.2" fill="url(#tg)" stroke="none" stroke-width="0.5"/>
<path d="M468.6,82 L468.67,82.95 L468.75,83.89 L468.82,84.84 L468.9,85.79 L468.97,86.73 L469.04,87.68 L469.11,88.63 L469.18,89.58 L469.25,90.52 L469.32,91.47 L469.39,92.42 L469.46,93.36 L469.53,94.31 L469.61,95.26 L469.69,96.2 L469.78,97.15 L469.87,98.1 L469.95,99.04 L470.03,99.99 L470.11,100.94 L470.17,101.89 L470.23,102.83 L470.27,103.78 L470.29,104.73 L470.3,105.67 L470.29,106.62 L470.27,107.57 L470.25,108.51 L470.21,109.46 L470.17,110.41 L470.13,111.36 L470.08,112.3 L470.02,113.25 L469.96,114.2 L469.91,115.14 L469.85,116.09 L469.79,117.04 L469.73,117.98 L469.67,118.93 L469.59,119.88 L469.52,120.82 L469.43,121.77 L469.35,122.72 L469.26,123.67 L469.16,124.61 L469.06,125.56 L468.96,126.51 L468.86,127.45 L468.75,128.4 L468.25,128.4 L468.14,127.45 L468.04,126.51 L467.94,125.56 L467.84,124.61 L467.74,123.67 L467.65,122.72 L467.57,121.77 L467.48,120.82 L467.41,119.88 L467.33,118.93 L467.27,117.98 L467.21,117.04 L467.15,116.09 L467.09,115.14 L467.04,114.2 L466.98,113.25 L466.92,112.3 L466.87,111.36 L466.83,110.41 L466.79,109.46 L466.75,108.51 L466.73,107.57 L466.71,106.62 L466.7,105.67 L466.71,104.73 L466.73,103.78 L466.77,102.83 L466.83,101.89 L466.89,100.94 L466.97,99.99 L467.05,99.04 L467.13,98.1 L467.22,97.15 L467.31,96.2 L467.39,95.26 L467.47,94.31 L467.54,93.36 L467.61,92.42 L467.68,91.47 L467.75,90.52 L467.82,89.58 L467.89,88.63 L467.96,87.68 L468.03,86.73 L468.1,85.79 L468.18,84.84 L468.25,83.89 L468.33,82.95 L468.4,82Z" fill="#66CF52" stroke="#2a4a26" stroke-width="0.4"/>
<rect x="467.96" y="99.01" width="1.08" height="13.92" fill="#fff" stroke="none" stroke-width="0" fill-opacity="0.6"/>
<line x1="467.24" y1="106.3" x2="469.76" y2="106.3" stroke="#333" stroke-width="0.45"/>
<rect x="472.07" y="64.9" width="0.66" height="22.7" fill="url(#tg)" stroke="none" stroke-width="0.5"/>
<path d="M472.5,86.6 L472.58,87.45 L472.65,88.31 L472.73,89.16 L472.8,90.01 L472.88,90.87 L472.95,91.72 L473.03,92.57 L473.1,93.42 L473.17,94.28 L473.24,95.13 L473.32,95.98 L473.4,96.84 L473.49,97.69 L473.58,98.54 L473.67,99.4 L473.76,100.25 L473.83,101.1 L473.9,101.96 L473.95,102.81 L473.99,103.66 L474,104.51 L474,105.37 L473.99,106.22 L473.97,107.07 L473.95,107.93 L473.92,108.78 L473.89,109.63 L473.85,110.49 L473.81,111.34 L473.77,112.19 L473.73,113.04 L473.68,113.9 L473.64,114.75 L473.6,115.6 L473.55,116.46 L473.51,117.31 L473.46,118.16 L473.41,119.02 L473.35,119.87 L473.29,120.72 L473.23,121.58 L473.17,122.43 L473.1,123.28 L473.03,124.13 L472.96,124.99 L472.88,125.84 L472.81,126.69 L472.73,127.55 L472.65,128.4 L472.15,128.4 L472.07,127.55 L471.99,126.69 L471.92,125.84 L471.84,124.99 L471.77,124.13 L471.7,123.28 L471.63,122.43 L471.57,121.58 L471.51,120.72 L471.45,119.87 L471.39,119.02 L471.34,118.16 L471.29,117.31 L471.25,116.46 L471.2,115.6 L471.16,114.75 L471.12,113.9 L471.07,113.04 L471.03,112.19 L470.99,111.34 L470.95,110.49 L470.91,109.63 L470.88,108.78 L470.85,107.93 L470.83,107.07 L470.81,106.22 L470.8,105.37 L470.8,104.51 L470.81,103.66 L470.85,102.81 L470.9,101.96 L470.97,101.1 L471.04,100.25 L471.13,99.4 L471.22,98.54 L471.31,97.69 L471.4,96.84 L471.48,95.98 L471.56,95.13 L471.63,94.28 L471.7,93.42 L471.77,92.57 L471.85,91.72 L471.92,90.87 L472,90.01 L472.07,89.16 L472.15,88.31 L472.22,87.45 L472.3,86.6Z" fill="#E25272" stroke="#5a1f2c" stroke-width="0.4"/>
<rect x="471.92" y="99.06" width="0.96" height="12.54" fill="#fff" stroke="none" stroke-width="0" fill-opacity="0.6"/>
<line x1="471.28" y1="104.4" x2="473.52" y2="104.4" stroke="#333" stroke-width="0.45"/>
<text x="469.95" y="131.5" font-size="5.2" text-anchor="end" fill="#222" font-weight="normal" stroke="#222" stroke-width="0.18" transform="rotate(-45 469.95 131.5)" dominant-baseline="hanging">Macrophages M2</text>
<rect x="479.6" y="64" width="0.66" height="44.2" fill="url(#tg)" stroke="none" stroke-width="0.5"/>
<path d="M480.03,107.2 L480.08,107.64 L480.12,108.07 L480.17,108.51 L480.21,108.95 L480.26,109.38 L480.3,109.82 L480.34,110.26 L480.39,110.69 L480.43,111.13 L480.48,111.57 L480.52,112 L480.56,112.44 L480.61,112.88 L480.65,113.31 L480.69,113.75 L480.74,114.19 L480.79,114.62 L480.84,115.06 L480.9,115.5 L480.96,115.93 L481.01,116.37 L481.06,116.81 L481.11,117.24 L481.16,117.68 L481.2,118.12 L481.24,118.56 L481.26,118.99 L481.28,119.43 L481.29,119.87 L481.29,120.3 L481.27,120.74 L481.25,121.18 L481.21,121.61 L481.17,122.05 L481.13,122.49 L481.08,122.92 L481.02,123.36 L480.97,123.8 L480.92,124.23 L480.86,124.67 L480.81,125.11 L480.74,125.54 L480.67,125.98 L480.6,126.42 L480.52,126.85 L480.44,127.29 L480.36,127.73 L480.27,128.16 L480.18,128.6 L479.68,128.6 L479.59,128.16 L479.5,127.73 L479.42,127.29 L479.34,126.85 L479.26,126.42 L479.19,125.98 L479.12,125.54 L479.05,125.11 L479,124.67 L478.94,124.23 L478.89,123.8 L478.84,123.36 L478.78,122.92 L478.73,122.49 L478.69,122.05 L478.65,121.61 L478.61,121.18 L478.59,120.74 L478.57,120.3 L478.57,119.87 L478.58,119.43 L478.6,118.99 L478.62,118.56 L478.66,118.12 L478.7,117.68 L478.75,117.24 L478.8,116.81 L478.85,116.37 L478.9,115.93 L478.96,115.5 L479.02,115.06 L479.07,114.62 L479.12,114.19 L479.17,113.75 L479.21,113.31 L479.25,112.88 L479.3,112.44 L479.34,112 L479.38,111.57 L479.43,111.13 L479.47,110.69 L479.52,110.26 L479.56,109.82 L479.6,109.38 L479.65,108.95 L479.69,108.51 L479.74,108.07 L479.78,107.64 L479.83,107.2Z" fill="#66CF52" stroke="#2a4a26" stroke-width="0.4"/>
<rect x="479.52" y="116.62" width="0.82" height="6.42" fill="#fff" stroke="none" stroke-width="0" fill-opacity="0.6"/>
<line x1="478.98" y1="120.65" x2="480.88" y2="120.65" stroke="#333" stroke-width="0.45"/>
<rect x="483.5" y="78.4" width="0.66" height="36.4" fill="url(#tg)" stroke="none" stroke-width="0.5"/>
<path d="M483.93,113.8 L483.97,114.1 L484.01,114.4 L484.04,114.71 L484.08,115.01 L484.12,115.31 L484.16,115.61 L484.2,115.91 L484.23,116.22 L484.27,116.52 L484.31,116.82 L484.35,117.12 L484.38,117.42 L484.42,117.73 L484.46,118.03 L484.5,118.33 L484.53,118.63 L484.57,118.93 L484.61,119.24 L484.66,119.54 L484.7,119.84 L484.75,120.14 L484.8,120.44 L484.85,120.75 L484.89,121.05 L484.94,121.35 L484.98,121.65 L485.01,121.96 L485.04,122.26 L485.07,122.56 L485.09,122.86 L485.1,123.16 L485.11,123.47 L485.1,123.77 L485.08,124.07 L485.05,124.37 L485.01,124.67 L484.95,124.98 L484.9,125.28 L484.84,125.58 L484.78,125.88 L484.73,126.18 L484.66,126.49 L484.6,126.79 L484.52,127.09 L484.44,127.39 L484.36,127.69 L484.27,128 L484.18,128.3 L484.08,128.6 L483.58,128.6 L483.48,128.3 L483.39,128 L483.3,127.69 L483.22,127.39 L483.14,127.09 L483.06,126.79 L483,126.49 L482.93,126.18 L482.88,125.88 L482.82,125.58 L482.76,125.28 L482.71,124.98 L482.65,124.67 L482.61,124.37 L482.58,124.07 L482.56,123.77 L482.55,123.47 L482.56,123.16 L482.57,122.86 L482.59,122.56 L482.62,122.26 L482.65,121.96 L482.68,121.65 L482.72,121.35 L482.77,121.05 L482.81,120.75 L482.86,120.44 L482.91,120.14 L482.96,119.84 L483,119.54 L483.05,119.24 L483.09,118.93 L483.13,118.63 L483.16,118.33 L483.2,118.03 L483.24,117.73 L483.28,117.42 L483.31,117.12 L483.35,116.82 L483.39,116.52 L483.43,116.22 L483.46,115.91 L483.5,115.61 L483.54,115.31 L483.58,115.01 L483.62,114.71 L483.65,114.4 L483.69,114.1 L483.73,113.8Z" fill="#E25272" stroke="#5a1f2c" stroke-width="0.4"/>
<rect x="483.45" y="121.22" width="0.77" height="4.44" fill="#fff" stroke="none" stroke-width="0" fill-opacity="0.6"/>
<line x1="482.93" y1="124.4" x2="484.73" y2="124.4" stroke="#333" stroke-width="0.45"/>
<text x="481.88" y="65.21" font-size="8.3" text-anchor="middle" fill="#111" font-weight="bold">*</text>
<text x="481.38" y="131.5" font-size="5.2" text-anchor="end" fill="#222" font-weight="normal" stroke="#222" stroke-width="0.18" transform="rotate(-45 481.38 131.5)" dominant-baseline="hanging">Dendritic cells resting</text>
<rect x="491.03" y="85.8" width="0.66" height="36.7" fill="url(#tg)" stroke="none" stroke-width="0.5"/>
<path d="M491.46,121.5 L491.49,121.66 L491.53,121.81 L491.56,121.97 L491.59,122.13 L491.62,122.29 L491.66,122.44 L491.69,122.6 L491.72,122.76 L491.75,122.91 L491.79,123.07 L491.82,123.23 L491.85,123.39 L491.88,123.54 L491.91,123.7 L491.95,123.86 L491.98,124.01 L492.01,124.17 L492.05,124.33 L492.09,124.49 L492.13,124.64 L492.17,124.8 L492.22,124.96 L492.26,125.11 L492.3,125.27 L492.34,125.43 L492.37,125.59 L492.4,125.74 L492.43,125.9 L492.45,126.06 L492.47,126.21 L492.48,126.37 L492.48,126.53 L492.47,126.69 L492.45,126.84 L492.42,127 L492.38,127.16 L492.33,127.31 L492.28,127.47 L492.23,127.63 L492.19,127.79 L492.14,127.94 L492.09,128.1 L492.03,128.26 L491.97,128.41 L491.9,128.57 L491.83,128.73 L491.76,128.89 L491.69,129.04 L491.61,129.2 L491.11,129.2 L491.03,129.04 L490.96,128.89 L490.89,128.73 L490.82,128.57 L490.75,128.41 L490.69,128.26 L490.63,128.1 L490.58,127.94 L490.53,127.79 L490.49,127.63 L490.44,127.47 L490.39,127.31 L490.34,127.16 L490.3,127 L490.27,126.84 L490.25,126.69 L490.24,126.53 L490.24,126.37 L490.25,126.21 L490.27,126.06 L490.29,125.9 L490.32,125.74 L490.35,125.59 L490.38,125.43 L490.42,125.27 L490.46,125.11 L490.5,124.96 L490.55,124.8 L490.59,124.64 L490.63,124.49 L490.67,124.33 L490.71,124.17 L490.74,124.01 L490.77,123.86 L490.81,123.7 L490.84,123.54 L490.87,123.39 L490.9,123.23 L490.93,123.07 L490.97,122.91 L491,122.76 L491.03,122.6 L491.06,122.44 L491.1,122.29 L491.13,122.13 L491.16,121.97 L491.19,121.81 L491.23,121.66 L491.26,121.5Z" fill="#66CF52" stroke="#2a4a26" stroke-width="0.4"/>
<rect x="491.02" y="125.21" width="0.67" height="2.31" fill="#fff" stroke="none" stroke-width="0" fill-opacity="0.6"/>
<line x1="490.58" y1="126.8" x2="492.14" y2="126.8" stroke="#333" stroke-width="0.45"/>
<rect x="494.93" y="74.7" width="0.66" height="43.8" fill="url(#tg)" stroke="none" stroke-width="0.5"/>
<path d="M495.36,117.5 L495.4,117.74 L495.44,117.98 L495.49,118.22 L495.53,118.46 L495.57,118.69 L495.61,118.93 L495.65,119.17 L495.69,119.41 L495.73,119.65 L495.78,119.89 L495.82,120.13 L495.86,120.37 L495.9,120.6 L495.94,120.84 L495.98,121.08 L496.02,121.32 L496.07,121.56 L496.12,121.8 L496.17,122.04 L496.22,122.28 L496.28,122.51 L496.33,122.75 L496.37,122.99 L496.42,123.23 L496.46,123.47 L496.49,123.71 L496.51,123.95 L496.53,124.19 L496.54,124.42 L496.54,124.66 L496.52,124.9 L496.5,125.14 L496.47,125.38 L496.43,125.62 L496.39,125.86 L496.34,126.1 L496.29,126.33 L496.24,126.57 L496.19,126.81 L496.14,127.05 L496.09,127.29 L496.03,127.53 L495.96,127.77 L495.9,128.01 L495.83,128.24 L495.75,128.48 L495.67,128.72 L495.59,128.96 L495.51,129.2 L495.01,129.2 L494.93,128.96 L494.85,128.72 L494.77,128.48 L494.69,128.24 L494.62,128.01 L494.56,127.77 L494.49,127.53 L494.43,127.29 L494.38,127.05 L494.33,126.81 L494.28,126.57 L494.23,126.33 L494.18,126.1 L494.13,125.86 L494.09,125.62 L494.05,125.38 L494.02,125.14 L494,124.9 L493.98,124.66 L493.98,124.42 L493.99,124.19 L494.01,123.95 L494.03,123.71 L494.06,123.47 L494.1,123.23 L494.15,122.99 L494.19,122.75 L494.24,122.51 L494.3,122.28 L494.35,122.04 L494.4,121.8 L494.45,121.56 L494.5,121.32 L494.54,121.08 L494.58,120.84 L494.62,120.6 L494.66,120.37 L494.7,120.13 L494.74,119.89 L494.79,119.65 L494.83,119.41 L494.87,119.17 L494.91,118.93 L494.95,118.69 L494.99,118.46 L495.03,118.22 L495.08,117.98 L495.12,117.74 L495.16,117.5Z" fill="#E25272" stroke="#5a1f2c" stroke-width="0.4"/>
<rect x="494.88" y="122.05" width="0.77" height="3.51" fill="#fff" stroke="none" stroke-width="0" fill-opacity="0.6"/>
<line x1="494.36" y1="124" x2="496.16" y2="124" stroke="#333" stroke-width="0.45"/>
<text x="493.31" y="77.81" font-size="8.3" text-anchor="middle" fill="#111" font-weight="bold">**</text>
<text x="492.81" y="131.5" font-size="5.2" text-anchor="end" fill="#222" font-weight="normal" stroke="#222" stroke-width="0.18" transform="rotate(-45 492.81 131.5)" dominant-baseline="hanging">Dendritic cells activated</text>
<rect x="502.46" y="83" width="0.66" height="23.4" fill="url(#tg)" stroke="none" stroke-width="0.5"/>
<path d="M502.89,105.4 L502.95,105.88 L503.01,106.36 L503.07,106.83 L503.14,107.31 L503.2,107.79 L503.26,108.27 L503.32,108.74 L503.37,109.22 L503.43,109.7 L503.49,110.18 L503.55,110.65 L503.61,111.13 L503.67,111.61 L503.72,112.09 L503.78,112.56 L503.85,113.04 L503.91,113.52 L503.99,114 L504.06,114.47 L504.13,114.95 L504.2,115.43 L504.27,115.91 L504.33,116.38 L504.38,116.86 L504.43,117.34 L504.47,117.82 L504.49,118.29 L504.51,118.77 L504.51,119.25 L504.49,119.73 L504.47,120.2 L504.43,120.68 L504.38,121.16 L504.33,121.64 L504.27,122.11 L504.21,122.59 L504.14,123.07 L504.08,123.55 L504.01,124.02 L503.94,124.5 L503.87,124.98 L503.78,125.46 L503.69,125.93 L503.6,126.41 L503.49,126.89 L503.39,127.37 L503.28,127.84 L503.16,128.32 L503.04,128.8 L502.54,128.8 L502.42,128.32 L502.3,127.84 L502.19,127.37 L502.09,126.89 L501.98,126.41 L501.89,125.93 L501.8,125.46 L501.71,124.98 L501.64,124.5 L501.57,124.02 L501.5,123.55 L501.44,123.07 L501.37,122.59 L501.31,122.11 L501.25,121.64 L501.2,121.16 L501.15,120.68 L501.11,120.2 L501.09,119.73 L501.07,119.25 L501.07,118.77 L501.09,118.29 L501.11,117.82 L501.15,117.34 L501.2,116.86 L501.25,116.38 L501.31,115.91 L501.38,115.43 L501.45,114.95 L501.52,114.47 L501.59,114 L501.67,113.52 L501.73,113.04 L501.8,112.56 L501.86,112.09 L501.91,111.61 L501.97,111.13 L502.03,110.65 L502.09,110.18 L502.15,109.7 L502.21,109.22 L502.26,108.74 L502.32,108.27 L502.38,107.79 L502.44,107.31 L502.51,106.83 L502.57,106.36 L502.63,105.88 L502.69,105.4Z" fill="#66CF52" stroke="#2a4a26" stroke-width="0.4"/>
<rect x="502.27" y="115.55" width="1.03" height="7.02" fill="#fff" stroke="none" stroke-width="0" fill-opacity="0.6"/>
<line x1="501.59" y1="119.9" x2="503.99" y2="119.9" stroke="#333" stroke-width="0.45"/>
<rect x="506.36" y="96" width="0.66" height="17.8" fill="url(#tg)" stroke="none" stroke-width="0.5"/>
<path d="M506.79,112.8 L506.84,113.13 L506.88,113.45 L506.93,113.78 L506.98,114.11 L507.02,114.43 L507.07,114.76 L507.12,115.09 L507.16,115.41 L507.21,115.74 L507.25,116.07 L507.3,116.39 L507.34,116.72 L507.39,117.04 L507.43,117.37 L507.48,117.7 L507.53,118.02 L507.59,118.35 L507.64,118.68 L507.7,119 L507.76,119.33 L507.82,119.66 L507.87,119.98 L507.92,120.31 L507.96,120.64 L508,120.96 L508.02,121.29 L508.04,121.62 L508.05,121.94 L508.05,122.27 L508.03,122.6 L508.01,122.92 L507.98,123.25 L507.94,123.58 L507.89,123.9 L507.85,124.23 L507.8,124.56 L507.75,124.88 L507.7,125.21 L507.65,125.53 L507.6,125.86 L507.54,126.19 L507.48,126.51 L507.41,126.84 L507.34,127.17 L507.27,127.49 L507.19,127.82 L507.11,128.15 L507.03,128.47 L506.94,128.8 L506.44,128.8 L506.35,128.47 L506.27,128.15 L506.19,127.82 L506.11,127.49 L506.04,127.17 L505.97,126.84 L505.9,126.51 L505.84,126.19 L505.78,125.86 L505.73,125.53 L505.68,125.21 L505.63,124.88 L505.58,124.56 L505.53,124.23 L505.49,123.9 L505.44,123.58 L505.4,123.25 L505.37,122.92 L505.35,122.6 L505.33,122.27 L505.33,121.94 L505.34,121.62 L505.36,121.29 L505.38,120.96 L505.42,120.64 L505.46,120.31 L505.51,119.98 L505.56,119.66 L505.62,119.33 L505.68,119 L505.74,118.68 L505.79,118.35 L505.85,118.02 L505.9,117.7 L505.95,117.37 L505.99,117.04 L506.04,116.72 L506.08,116.39 L506.13,116.07 L506.17,115.74 L506.22,115.41 L506.26,115.09 L506.31,114.76 L506.36,114.43 L506.4,114.11 L506.45,113.78 L506.5,113.45 L506.54,113.13 L506.59,112.8Z" fill="#E25272" stroke="#5a1f2c" stroke-width="0.4"/>
<rect x="506.28" y="119.31" width="0.82" height="4.8" fill="#fff" stroke="none" stroke-width="0" fill-opacity="0.6"/>
<line x1="505.74" y1="122.1" x2="507.64" y2="122.1" stroke="#333" stroke-width="0.45"/>
<text x="504.74" y="84.81" font-size="8.3" text-anchor="middle" fill="#111" font-weight="bold">*</text>
<text x="504.24" y="131.5" font-size="5.2" text-anchor="end" fill="#222" font-weight="normal" stroke="#222" stroke-width="0.18" transform="rotate(-45 504.24 131.5)" dominant-baseline="hanging">Mast cells resting</text>
<rect x="513.89" y="98" width="0.66" height="27.5" fill="url(#tg)" stroke="none" stroke-width="0.5"/>
<path d="M514.32,124.5 L514.35,124.6 L514.37,124.7 L514.4,124.8 L514.43,124.9 L514.46,125 L514.48,125.1 L514.51,125.2 L514.54,125.3 L514.56,125.4 L514.59,125.5 L514.62,125.6 L514.64,125.7 L514.67,125.8 L514.7,125.9 L514.72,126 L514.75,126.1 L514.78,126.2 L514.81,126.3 L514.84,126.4 L514.87,126.5 L514.9,126.6 L514.94,126.7 L514.97,126.8 L515.01,126.9 L515.04,127 L515.08,127.1 L515.11,127.2 L515.14,127.3 L515.17,127.4 L515.19,127.5 L515.22,127.6 L515.23,127.7 L515.25,127.8 L515.26,127.9 L515.26,128 L515.25,128.1 L515.22,128.2 L515.18,128.3 L515.13,128.4 L515.08,128.5 L515.02,128.6 L514.97,128.7 L514.91,128.8 L514.85,128.9 L514.78,129 L514.71,129.1 L514.64,129.2 L514.55,129.3 L514.47,129.4 L513.97,129.4 L513.89,129.3 L513.8,129.2 L513.73,129.1 L513.66,129 L513.59,128.9 L513.53,128.8 L513.47,128.7 L513.42,128.6 L513.36,128.5 L513.31,128.4 L513.26,128.3 L513.22,128.2 L513.19,128.1 L513.18,128 L513.18,127.9 L513.19,127.8 L513.21,127.7 L513.22,127.6 L513.25,127.5 L513.27,127.4 L513.3,127.3 L513.33,127.2 L513.36,127.1 L513.4,127 L513.43,126.9 L513.47,126.8 L513.5,126.7 L513.54,126.6 L513.57,126.5 L513.6,126.4 L513.63,126.3 L513.66,126.2 L513.69,126.1 L513.72,126 L513.74,125.9 L513.77,125.8 L513.8,125.7 L513.82,125.6 L513.85,125.5 L513.88,125.4 L513.9,125.3 L513.93,125.2 L513.96,125.1 L513.98,125 L514.01,124.9 L514.04,124.8 L514.07,124.7 L514.09,124.6 L514.12,124.5Z" fill="#66CF52" stroke="#2a4a26" stroke-width="0.4"/>
<line x1="513.49" y1="128.2" x2="514.95" y2="128.2" stroke="#333" stroke-width="0.45"/>
<rect x="517.79" y="61.1" width="0.66" height="61.3" fill="url(#tg)" stroke="none" stroke-width="0.5"/>
<path d="M518.22,121.4 L518.26,121.56 L518.29,121.73 L518.33,121.89 L518.36,122.05 L518.4,122.22 L518.43,122.38 L518.47,122.54 L518.51,122.71 L518.54,122.87 L518.58,123.03 L518.61,123.2 L518.65,123.36 L518.68,123.52 L518.72,123.69 L518.75,123.85 L518.78,124.01 L518.82,124.18 L518.85,124.34 L518.89,124.5 L518.93,124.67 L518.98,124.83 L519.02,124.99 L519.07,125.16 L519.11,125.32 L519.15,125.48 L519.2,125.64 L519.24,125.81 L519.27,125.97 L519.31,126.13 L519.34,126.3 L519.36,126.46 L519.38,126.62 L519.39,126.79 L519.4,126.95 L519.39,127.11 L519.37,127.28 L519.33,127.44 L519.28,127.6 L519.22,127.77 L519.15,127.93 L519.08,128.09 L519.02,128.26 L518.95,128.42 L518.87,128.58 L518.78,128.75 L518.69,128.91 L518.59,129.07 L518.48,129.24 L518.37,129.4 L517.87,129.4 L517.76,129.24 L517.65,129.07 L517.55,128.91 L517.46,128.75 L517.37,128.58 L517.29,128.42 L517.22,128.26 L517.16,128.09 L517.09,127.93 L517.02,127.77 L516.96,127.6 L516.91,127.44 L516.87,127.28 L516.85,127.11 L516.84,126.95 L516.85,126.79 L516.86,126.62 L516.88,126.46 L516.9,126.3 L516.93,126.13 L516.97,125.97 L517,125.81 L517.04,125.64 L517.09,125.48 L517.13,125.32 L517.17,125.16 L517.22,124.99 L517.26,124.83 L517.31,124.67 L517.35,124.5 L517.39,124.34 L517.42,124.18 L517.46,124.01 L517.49,123.85 L517.52,123.69 L517.56,123.52 L517.59,123.36 L517.63,123.2 L517.66,123.03 L517.7,122.87 L517.73,122.71 L517.77,122.54 L517.81,122.38 L517.84,122.22 L517.88,122.05 L517.91,121.89 L517.95,121.73 L517.98,121.56 L518.02,121.4Z" fill="#E25272" stroke="#5a1f2c" stroke-width="0.4"/>
<rect x="517.74" y="125.46" width="0.77" height="2.4" fill="#fff" stroke="none" stroke-width="0" fill-opacity="0.6"/>
<line x1="517.22" y1="127.2" x2="519.02" y2="127.2" stroke="#333" stroke-width="0.45"/>
<text x="516.17" y="63.21" font-size="8.3" text-anchor="middle" fill="#111" font-weight="bold">***</text>
<text x="515.67" y="131.5" font-size="5.2" text-anchor="end" fill="#222" font-weight="normal" stroke="#222" stroke-width="0.18" transform="rotate(-45 515.67 131.5)" dominant-baseline="hanging">Mast cells activated</text>
<rect x="525.32" y="115.3" width="0.66" height="12.7" fill="url(#tg)" stroke="none" stroke-width="0.5"/>
<path d="M525.75,127 L525.77,127.05 L525.79,127.1 L525.81,127.15 L525.83,127.2 L525.85,127.24 L525.87,127.29 L525.89,127.34 L525.9,127.39 L525.92,127.44 L525.94,127.49 L525.96,127.54 L525.98,127.59 L525.99,127.64 L526.01,127.69 L526.03,127.73 L526.04,127.78 L526.06,127.83 L526.08,127.88 L526.1,127.93 L526.12,127.98 L526.14,128.03 L526.16,128.08 L526.18,128.13 L526.19,128.18 L526.21,128.22 L526.23,128.27 L526.24,128.32 L526.26,128.37 L526.27,128.42 L526.28,128.47 L526.29,128.52 L526.29,128.57 L526.29,128.62 L526.28,128.67 L526.27,128.71 L526.24,128.76 L526.22,128.81 L526.19,128.86 L526.16,128.91 L526.13,128.96 L526.11,129.01 L526.08,129.06 L526.06,129.11 L526.03,129.16 L526.01,129.2 L525.98,129.25 L525.95,129.3 L525.93,129.35 L525.9,129.4 L525.4,129.4 L525.37,129.35 L525.35,129.3 L525.32,129.25 L525.29,129.2 L525.27,129.16 L525.24,129.11 L525.22,129.06 L525.19,129.01 L525.17,128.96 L525.14,128.91 L525.11,128.86 L525.08,128.81 L525.06,128.76 L525.03,128.71 L525.02,128.67 L525.01,128.62 L525.01,128.57 L525.01,128.52 L525.02,128.47 L525.03,128.42 L525.04,128.37 L525.06,128.32 L525.07,128.27 L525.09,128.22 L525.11,128.18 L525.12,128.13 L525.14,128.08 L525.16,128.03 L525.18,127.98 L525.2,127.93 L525.22,127.88 L525.24,127.83 L525.26,127.78 L525.27,127.73 L525.29,127.69 L525.31,127.64 L525.32,127.59 L525.34,127.54 L525.36,127.49 L525.38,127.44 L525.4,127.39 L525.41,127.34 L525.43,127.29 L525.45,127.24 L525.47,127.2 L525.49,127.15 L525.51,127.1 L525.53,127.05 L525.55,127Z" fill="#66CF52" stroke="#2a4a26" stroke-width="0.4"/>
<line x1="525.2" y1="128.8" x2="526.1" y2="128.8" stroke="#333" stroke-width="0.45"/>
<rect x="529.22" y="117.7" width="0.66" height="10.8" fill="url(#tg)" stroke="none" stroke-width="0.5"/>
<path d="M529.65,127.5 L529.67,127.54 L529.7,127.58 L529.72,127.62 L529.74,127.66 L529.76,127.69 L529.78,127.73 L529.81,127.77 L529.83,127.81 L529.85,127.85 L529.87,127.89 L529.89,127.93 L529.91,127.97 L529.93,128 L529.95,128.04 L529.97,128.08 L529.99,128.12 L530.01,128.16 L530.03,128.2 L530.05,128.24 L530.08,128.28 L530.1,128.31 L530.12,128.35 L530.14,128.39 L530.15,128.43 L530.17,128.47 L530.18,128.51 L530.19,128.55 L530.19,128.59 L530.19,128.62 L530.18,128.66 L530.17,128.7 L530.15,128.74 L530.14,128.78 L530.11,128.82 L530.09,128.86 L530.07,128.9 L530.05,128.93 L530.02,128.97 L530,129.01 L529.99,129.05 L529.97,129.09 L529.95,129.13 L529.93,129.17 L529.91,129.21 L529.89,129.24 L529.86,129.28 L529.84,129.32 L529.82,129.36 L529.8,129.4 L529.3,129.4 L529.28,129.36 L529.26,129.32 L529.24,129.28 L529.21,129.24 L529.19,129.21 L529.17,129.17 L529.15,129.13 L529.13,129.09 L529.11,129.05 L529.1,129.01 L529.08,128.97 L529.05,128.93 L529.03,128.9 L529.01,128.86 L528.99,128.82 L528.96,128.78 L528.95,128.74 L528.93,128.7 L528.92,128.66 L528.91,128.62 L528.91,128.59 L528.91,128.55 L528.92,128.51 L528.93,128.47 L528.95,128.43 L528.96,128.39 L528.98,128.35 L529,128.31 L529.02,128.28 L529.05,128.24 L529.07,128.2 L529.09,128.16 L529.11,128.12 L529.13,128.08 L529.15,128.04 L529.17,128 L529.19,127.97 L529.21,127.93 L529.23,127.89 L529.25,127.85 L529.27,127.81 L529.29,127.77 L529.32,127.73 L529.34,127.69 L529.36,127.66 L529.38,127.62 L529.4,127.58 L529.43,127.54 L529.45,127.5Z" fill="#E25272" stroke="#5a1f2c" stroke-width="0.4"/>
<line x1="529.1" y1="128.8" x2="530" y2="128.8" stroke="#333" stroke-width="0.45"/>
<text x="527.1" y="131.5" font-size="5.2" text-anchor="end" fill="#222" font-weight="normal" stroke="#222" stroke-width="0.18" transform="rotate(-45 527.1 131.5)" dominant-baseline="hanging">Eosinophils</text>
<rect x="536.75" y="90.6" width="0.66" height="31.8" fill="url(#tg)" stroke="none" stroke-width="0.5"/>
<path d="M537.18,121.4 L537.21,121.56 L537.25,121.73 L537.28,121.89 L537.31,122.05 L537.35,122.22 L537.38,122.38 L537.41,122.54 L537.44,122.71 L537.48,122.87 L537.51,123.03 L537.54,123.2 L537.57,123.36 L537.61,123.52 L537.64,123.69 L537.67,123.85 L537.7,124.01 L537.74,124.18 L537.77,124.34 L537.8,124.5 L537.84,124.67 L537.88,124.83 L537.93,124.99 L537.97,125.16 L538.01,125.32 L538.05,125.48 L538.09,125.64 L538.13,125.81 L538.16,125.97 L538.19,126.13 L538.22,126.3 L538.24,126.46 L538.26,126.62 L538.27,126.79 L538.28,126.95 L538.28,127.11 L538.25,127.28 L538.21,127.44 L538.16,127.6 L538.11,127.77 L538.05,127.93 L537.98,128.09 L537.92,128.26 L537.86,128.42 L537.78,128.58 L537.7,128.75 L537.62,128.91 L537.53,129.07 L537.43,129.24 L537.33,129.4 L536.83,129.4 L536.73,129.24 L536.63,129.07 L536.54,128.91 L536.46,128.75 L536.38,128.58 L536.3,128.42 L536.24,128.26 L536.18,128.09 L536.11,127.93 L536.05,127.77 L536,127.6 L535.95,127.44 L535.91,127.28 L535.88,127.11 L535.88,126.95 L535.89,126.79 L535.9,126.62 L535.92,126.46 L535.94,126.3 L535.97,126.13 L536,125.97 L536.03,125.81 L536.07,125.64 L536.11,125.48 L536.15,125.32 L536.19,125.16 L536.23,124.99 L536.28,124.83 L536.32,124.67 L536.36,124.5 L536.39,124.34 L536.42,124.18 L536.46,124.01 L536.49,123.85 L536.52,123.69 L536.55,123.52 L536.59,123.36 L536.62,123.2 L536.65,123.03 L536.68,122.87 L536.72,122.71 L536.75,122.54 L536.78,122.38 L536.81,122.22 L536.85,122.05 L536.88,121.89 L536.91,121.73 L536.95,121.56 L536.98,121.4Z" fill="#66CF52" stroke="#2a4a26" stroke-width="0.4"/>
<rect x="536.72" y="125.53" width="0.72" height="2.4" fill="#fff" stroke="none" stroke-width="0" fill-opacity="0.6"/>
<line x1="536.24" y1="127.3" x2="537.92" y2="127.3" stroke="#333" stroke-width="0.45"/>
<rect x="540.65" y="68.5" width="0.66" height="53.1" fill="url(#tg)" stroke="none" stroke-width="0.5"/>
<path d="M541.08,120.6 L541.12,120.78 L541.16,120.96 L541.2,121.14 L541.24,121.32 L541.28,121.5 L541.32,121.68 L541.36,121.86 L541.4,122.04 L541.44,122.22 L541.48,122.4 L541.52,122.58 L541.56,122.76 L541.6,122.93 L541.63,123.11 L541.67,123.29 L541.71,123.47 L541.75,123.65 L541.79,123.83 L541.84,124.01 L541.89,124.19 L541.94,124.37 L541.98,124.55 L542.03,124.73 L542.08,124.91 L542.13,125.09 L542.17,125.27 L542.21,125.45 L542.25,125.63 L542.28,125.81 L542.31,125.99 L542.33,126.17 L542.34,126.35 L542.34,126.53 L542.33,126.71 L542.3,126.89 L542.26,127.07 L542.21,127.24 L542.15,127.42 L542.08,127.6 L542.02,127.78 L541.95,127.96 L541.89,128.14 L541.81,128.32 L541.73,128.5 L541.64,128.68 L541.55,128.86 L541.45,129.04 L541.34,129.22 L541.23,129.4 L540.73,129.4 L540.62,129.22 L540.51,129.04 L540.41,128.86 L540.32,128.68 L540.23,128.5 L540.15,128.32 L540.07,128.14 L540.01,127.96 L539.94,127.78 L539.88,127.6 L539.81,127.42 L539.75,127.24 L539.7,127.07 L539.66,126.89 L539.63,126.71 L539.62,126.53 L539.62,126.35 L539.63,126.17 L539.65,125.99 L539.68,125.81 L539.71,125.63 L539.75,125.45 L539.79,125.27 L539.83,125.09 L539.88,124.91 L539.93,124.73 L539.98,124.55 L540.02,124.37 L540.07,124.19 L540.12,124.01 L540.17,123.83 L540.21,123.65 L540.25,123.47 L540.29,123.29 L540.33,123.11 L540.36,122.93 L540.4,122.76 L540.44,122.58 L540.48,122.4 L540.52,122.22 L540.56,122.04 L540.6,121.86 L540.64,121.68 L540.68,121.5 L540.72,121.32 L540.76,121.14 L540.8,120.96 L540.84,120.78 L540.88,120.6Z" fill="#E25272" stroke="#5a1f2c" stroke-width="0.4"/>
<rect x="540.57" y="124.94" width="0.82" height="2.64" fill="#fff" stroke="none" stroke-width="0" fill-opacity="0.6"/>
<line x1="540.03" y1="126.8" x2="541.93" y2="126.8" stroke="#333" stroke-width="0.45"/>
<text x="539.03" y="70.71" font-size="8.3" text-anchor="middle" fill="#111" font-weight="bold">***</text>
<text x="538.53" y="131.5" font-size="5.2" text-anchor="end" fill="#222" font-weight="normal" stroke="#222" stroke-width="0.18" transform="rotate(-45 538.53 131.5)" dominant-baseline="hanging">Neutrophils</text>
<text x="518.2" y="12.3" font-size="4.5" text-anchor="start" fill="#444" font-weight="normal" stroke="#444" stroke-width="0.08">Group</text>
<rect x="517.6" y="16.3" width="5.9" height="5.6" fill="#66CF52" stroke="#555" stroke-width="0.3"/>
<rect x="517.6" y="25.7" width="5.9" height="5.9" fill="#E25272" stroke="#555" stroke-width="0.3"/>
<text x="525.6" y="20.8" font-size="4.5" text-anchor="start" fill="#333" font-weight="normal" stroke="#333" stroke-width="0.18">LIM low</text>
<text x="525.6" y="30.3" font-size="4.5" text-anchor="start" fill="#333" font-weight="normal" stroke="#333" stroke-width="0.18">LIM high</text>
<text x="270.8" y="189.1" font-size="10" text-anchor="start" fill="#000" font-weight="bold">F</text>
<line x1="298.7" y1="193.3" x2="298.7" y2="285.55" stroke="#444" stroke-width="0.5"/>
<line x1="298.45" y1="285.3" x2="542.8" y2="285.3" stroke="#444" stroke-width="0.5"/>
<line x1="297.1" y1="281.5" x2="298.7" y2="281.5" stroke="#444" stroke-width="0.45"/>
<text x="296.4" y="283.1" font-size="4.6" text-anchor="end" fill="#333" font-weight="normal" stroke="#333" stroke-width="0.18">0.00</text>
<line x1="297.1" y1="260.4" x2="298.7" y2="260.4" stroke="#444" stroke-width="0.45"/>
<text x="296.4" y="262" font-size="4.6" text-anchor="end" fill="#333" font-weight="normal" stroke="#333" stroke-width="0.18">0.25</text>
<line x1="297.1" y1="239.3" x2="298.7" y2="239.3" stroke="#444" stroke-width="0.45"/>
<text x="296.4" y="240.9" font-size="4.6" text-anchor="end" fill="#333" font-weight="normal" stroke="#333" stroke-width="0.18">0.50</text>
<line x1="297.1" y1="218.2" x2="298.7" y2="218.2" stroke="#444" stroke-width="0.45"/>
<text x="296.4" y="219.8" font-size="4.6" text-anchor="end" fill="#333" font-weight="normal" stroke="#333" stroke-width="0.18">0.75</text>
<line x1="297.1" y1="197.1" x2="298.7" y2="197.1" stroke="#444" stroke-width="0.45"/>
<text x="296.4" y="198.7" font-size="4.6" text-anchor="end" fill="#333" font-weight="normal" stroke="#333" stroke-width="0.18">1.00</text>
<text x="280" y="246.5" font-size="5.9" text-anchor="middle" fill="#222" font-weight="normal" stroke="#222" stroke-width="0.05" transform="rotate(-90 280 246.5)">Immune infiltration</text>
<rect x="388" y="181.3" width="6.3" height="5.2" fill="#F3DDE3" stroke="#C26F87" stroke-width="0.5"/>
<text x="396.5" y="186" font-size="5.8" text-anchor="start" fill="#333" font-weight="normal" stroke="#333" stroke-width="0.18">LIM High</text>
<rect x="425.2" y="181.3" width="6.3" height="5.2" fill="#E6F3DC" stroke="#9FD17F" stroke-width="0.5"/>
<text x="433.7" y="186" font-size="5.8" text-anchor="start" fill="#333" font-weight="normal" stroke="#333" stroke-width="0.18">LIM low</text>
<line x1="305.7" y1="285.3" x2="305.7" y2="286.8" stroke="#444" stroke-width="0.45"/>
<line x1="303.6" y1="213.3" x2="303.6" y2="227" stroke="#C26F87" stroke-width="0.55"/>
<line x1="303.6" y1="241.5" x2="303.6" y2="263" stroke="#C26F87" stroke-width="0.55"/>
<rect x="301.5" y="227" width="4.2" height="14.5" fill="#fff" stroke="#C26F87" stroke-width="0.55"/>
<line x1="301.5" y1="233.3" x2="305.7" y2="233.3" stroke="#C26F87" stroke-width="0.7"/>
<line x1="307.8" y1="205.4" x2="307.8" y2="227" stroke="#9FD17F" stroke-width="0.55"/>
<line x1="307.8" y1="241.5" x2="307.8" y2="264" stroke="#9FD17F" stroke-width="0.55"/>
<rect x="305.7" y="227" width="4.2" height="14.5" fill="#fff" stroke="#9FD17F" stroke-width="0.55"/>
<line x1="305.7" y1="233.8" x2="309.9" y2="233.8" stroke="#9FD17F" stroke-width="0.7"/>
<text x="304.7" y="289.2" font-size="5.6" text-anchor="end" fill="#222" font-weight="normal" stroke="#222" stroke-width="0.18" transform="rotate(-50 304.7 289.2)" dominant-baseline="hanging">B cell</text>
<line x1="316.19" y1="285.3" x2="316.19" y2="286.8" stroke="#444" stroke-width="0.45"/>
<line x1="314.09" y1="208.5" x2="314.09" y2="217" stroke="#C26F87" stroke-width="0.55"/>
<line x1="314.09" y1="223.4" x2="314.09" y2="231.8" stroke="#C26F87" stroke-width="0.55"/>
<rect x="311.99" y="217" width="4.2" height="6.4" fill="#fff" stroke="#C26F87" stroke-width="0.55"/>
<line x1="311.99" y1="220.3" x2="316.19" y2="220.3" stroke="#C26F87" stroke-width="0.7"/>
<line x1="318.29" y1="207.8" x2="318.29" y2="216.2" stroke="#9FD17F" stroke-width="0.55"/>
<line x1="318.29" y1="224.6" x2="318.29" y2="235.5" stroke="#9FD17F" stroke-width="0.55"/>
<rect x="316.19" y="216.2" width="4.2" height="8.4" fill="#fff" stroke="#9FD17F" stroke-width="0.55"/>
<line x1="316.19" y1="220.5" x2="320.39" y2="220.5" stroke="#9FD17F" stroke-width="0.7"/>
<text x="315.19" y="289.2" font-size="5.6" text-anchor="end" fill="#222" font-weight="normal" stroke="#222" stroke-width="0.18" transform="rotate(-50 315.19 289.2)" dominant-baseline="hanging">CD4T cell</text>
<line x1="326.67" y1="285.3" x2="326.67" y2="286.8" stroke="#444" stroke-width="0.45"/>
<line x1="324.57" y1="202.3" x2="324.57" y2="209" stroke="#C26F87" stroke-width="0.55"/>
<line x1="324.57" y1="218.2" x2="324.57" y2="228.2" stroke="#C26F87" stroke-width="0.55"/>
<rect x="322.47" y="209" width="4.2" height="9.2" fill="#fff" stroke="#C26F87" stroke-width="0.55"/>
<line x1="322.47" y1="213.8" x2="326.67" y2="213.8" stroke="#C26F87" stroke-width="0.7"/>
<line x1="328.77" y1="199.9" x2="328.77" y2="209" stroke="#9FD17F" stroke-width="0.55"/>
<line x1="328.77" y1="218.2" x2="328.77" y2="228.2" stroke="#9FD17F" stroke-width="0.55"/>
<rect x="326.67" y="209" width="4.2" height="9.2" fill="#fff" stroke="#9FD17F" stroke-width="0.55"/>
<line x1="326.67" y1="213.3" x2="330.87" y2="213.3" stroke="#9FD17F" stroke-width="0.7"/>
<text x="325.67" y="289.2" font-size="5.6" text-anchor="end" fill="#222" font-weight="normal" stroke="#222" stroke-width="0.18" transform="rotate(-50 325.67 289.2)" dominant-baseline="hanging">CD8T cell</text>
<line x1="337.16" y1="285.3" x2="337.16" y2="286.8" stroke="#444" stroke-width="0.45"/>
<line x1="335.06" y1="219.8" x2="335.06" y2="226.3" stroke="#C26F87" stroke-width="0.55"/>
<line x1="335.06" y1="231.8" x2="335.06" y2="239" stroke="#C26F87" stroke-width="0.55"/>
<rect x="332.96" y="226.3" width="4.2" height="5.5" fill="#fff" stroke="#C26F87" stroke-width="0.55"/>
<line x1="332.96" y1="229" x2="337.16" y2="229" stroke="#C26F87" stroke-width="0.7"/>
<line x1="339.26" y1="221" x2="339.26" y2="227" stroke="#9FD17F" stroke-width="0.55"/>
<line x1="339.26" y1="233.5" x2="339.26" y2="242.7" stroke="#9FD17F" stroke-width="0.55"/>
<rect x="337.16" y="227" width="4.2" height="6.5" fill="#fff" stroke="#9FD17F" stroke-width="0.55"/>
<line x1="337.16" y1="229.5" x2="341.36" y2="229.5" stroke="#9FD17F" stroke-width="0.7"/>
<text x="337.16" y="196.61" font-size="7.6" text-anchor="middle" fill="#222" font-weight="bold">***</text>
<text x="336.16" y="289.2" font-size="5.6" text-anchor="end" fill="#222" font-weight="normal" stroke="#222" stroke-width="0.18" transform="rotate(-50 336.16 289.2)" dominant-baseline="hanging">Dendritic cell</text>
<line x1="347.64" y1="285.3" x2="347.64" y2="286.8" stroke="#444" stroke-width="0.45"/>
<line x1="345.54" y1="209" x2="345.54" y2="212.1" stroke="#C26F87" stroke-width="0.55"/>
<line x1="345.54" y1="216.2" x2="345.54" y2="218.6" stroke="#C26F87" stroke-width="0.55"/>
<rect x="343.44" y="212.1" width="4.2" height="4.1" fill="#fff" stroke="#C26F87" stroke-width="0.55"/>
<line x1="343.44" y1="213.8" x2="347.64" y2="213.8" stroke="#C26F87" stroke-width="0.7"/>
<line x1="349.74" y1="210.2" x2="349.74" y2="212.6" stroke="#9FD17F" stroke-width="0.55"/>
<line x1="349.74" y1="216.7" x2="349.74" y2="223.4" stroke="#9FD17F" stroke-width="0.55"/>
<rect x="347.64" y="212.6" width="4.2" height="4.1" fill="#fff" stroke="#9FD17F" stroke-width="0.55"/>
<line x1="347.64" y1="214.5" x2="351.84" y2="214.5" stroke="#9FD17F" stroke-width="0.7"/>
<text x="347.64" y="196.61" font-size="7.6" text-anchor="middle" fill="#222" font-weight="bold">***</text>
<text x="346.64" y="289.2" font-size="5.6" text-anchor="end" fill="#222" font-weight="normal" stroke="#222" stroke-width="0.18" transform="rotate(-50 346.64 289.2)" dominant-baseline="hanging">CD56bright NK cell</text>
<line x1="358.13" y1="285.3" x2="358.13" y2="286.8" stroke="#444" stroke-width="0.45"/>
<line x1="356.03" y1="206" x2="356.03" y2="211.4" stroke="#C26F87" stroke-width="0.55"/>
<line x1="356.03" y1="215.8" x2="356.03" y2="217.4" stroke="#C26F87" stroke-width="0.55"/>
<rect x="353.93" y="211.4" width="4.2" height="4.4" fill="#fff" stroke="#C26F87" stroke-width="0.55"/>
<line x1="353.93" y1="213.3" x2="358.13" y2="213.3" stroke="#C26F87" stroke-width="0.7"/>
<line x1="360.23" y1="207.8" x2="360.23" y2="211.9" stroke="#9FD17F" stroke-width="0.55"/>
<line x1="360.23" y1="216.2" x2="360.23" y2="222.2" stroke="#9FD17F" stroke-width="0.55"/>
<rect x="358.13" y="211.9" width="4.2" height="4.3" fill="#fff" stroke="#9FD17F" stroke-width="0.55"/>
<line x1="358.13" y1="213.8" x2="362.33" y2="213.8" stroke="#9FD17F" stroke-width="0.7"/>
<text x="358.13" y="196.61" font-size="7.6" text-anchor="middle" fill="#222" font-weight="bold">***</text>
<text x="357.13" y="289.2" font-size="5.6" text-anchor="end" fill="#222" font-weight="normal" stroke="#222" stroke-width="0.18" transform="rotate(-50 357.13 289.2)" dominant-baseline="hanging">CD56dim NK cell</text>
<line x1="368.62" y1="285.3" x2="368.62" y2="286.8" stroke="#444" stroke-width="0.45"/>
<line x1="366.52" y1="232.6" x2="366.52" y2="240.7" stroke="#C26F87" stroke-width="0.55"/>
<line x1="366.52" y1="248" x2="366.52" y2="258.3" stroke="#C26F87" stroke-width="0.55"/>
<rect x="364.42" y="240.7" width="4.2" height="7.3" fill="#fff" stroke="#C26F87" stroke-width="0.55"/>
<line x1="364.42" y1="244.3" x2="368.62" y2="244.3" stroke="#C26F87" stroke-width="0.7"/>
<line x1="370.72" y1="236.7" x2="370.72" y2="240.7" stroke="#9FD17F" stroke-width="0.55"/>
<line x1="370.72" y1="248.8" x2="370.72" y2="254.7" stroke="#9FD17F" stroke-width="0.55"/>
<rect x="368.62" y="240.7" width="4.2" height="8.1" fill="#fff" stroke="#9FD17F" stroke-width="0.55"/>
<line x1="368.62" y1="244.6" x2="372.82" y2="244.6" stroke="#9FD17F" stroke-width="0.7"/>
<text x="367.62" y="289.2" font-size="5.6" text-anchor="end" fill="#222" font-weight="normal" stroke="#222" stroke-width="0.18" transform="rotate(-50 367.62 289.2)" dominant-baseline="hanging">Eosinophil</text>
<line x1="379.1" y1="285.3" x2="379.1" y2="286.8" stroke="#444" stroke-width="0.45"/>
<line x1="377" y1="212.6" x2="377" y2="217.4" stroke="#C26F87" stroke-width="0.55"/>
<line x1="377" y1="222.2" x2="377" y2="227.8" stroke="#C26F87" stroke-width="0.55"/>
<rect x="374.9" y="217.4" width="4.2" height="4.8" fill="#fff" stroke="#C26F87" stroke-width="0.55"/>
<line x1="374.9" y1="219.8" x2="379.1" y2="219.8" stroke="#C26F87" stroke-width="0.7"/>
<line x1="381.2" y1="213.8" x2="381.2" y2="218.6" stroke="#9FD17F" stroke-width="0.55"/>
<line x1="381.2" y1="223.4" x2="381.2" y2="229.4" stroke="#9FD17F" stroke-width="0.55"/>
<rect x="379.1" y="218.6" width="4.2" height="4.8" fill="#fff" stroke="#9FD17F" stroke-width="0.55"/>
<line x1="379.1" y1="221" x2="383.3" y2="221" stroke="#9FD17F" stroke-width="0.7"/>
<text x="379.1" y="196.61" font-size="7.6" text-anchor="middle" fill="#222" font-weight="bold">***</text>
<text x="378.1" y="289.2" font-size="5.6" text-anchor="end" fill="#222" font-weight="normal" stroke="#222" stroke-width="0.18" transform="rotate(-50 378.1 289.2)" dominant-baseline="hanging">γδT cell</text>
<line x1="389.59" y1="285.3" x2="389.59" y2="286.8" stroke="#444" stroke-width="0.45"/>
<line x1="387.49" y1="211.9" x2="387.49" y2="223.4" stroke="#C26F87" stroke-width="0.55"/>
<line x1="387.49" y1="235.4" x2="387.49" y2="249.9" stroke="#C26F87" stroke-width="0.55"/>
<rect x="385.39" y="223.4" width="4.2" height="12" fill="#fff" stroke="#C26F87" stroke-width="0.55"/>
<line x1="385.39" y1="229" x2="389.59" y2="229" stroke="#C26F87" stroke-width="0.7"/>
<line x1="391.69" y1="207.8" x2="391.69" y2="223.4" stroke="#9FD17F" stroke-width="0.55"/>
<line x1="391.69" y1="236.2" x2="391.69" y2="255.9" stroke="#9FD17F" stroke-width="0.55"/>
<rect x="389.59" y="223.4" width="4.2" height="12.8" fill="#fff" stroke="#9FD17F" stroke-width="0.55"/>
<line x1="389.59" y1="229.5" x2="393.79" y2="229.5" stroke="#9FD17F" stroke-width="0.7"/>
<text x="388.59" y="289.2" font-size="5.6" text-anchor="end" fill="#222" font-weight="normal" stroke="#222" stroke-width="0.18" transform="rotate(-50 388.59 289.2)" dominant-baseline="hanging">Immature B cell</text>
<line x1="400.07" y1="285.3" x2="400.07" y2="286.8" stroke="#444" stroke-width="0.45"/>
<line x1="397.97" y1="207.8" x2="397.97" y2="211.9" stroke="#C26F87" stroke-width="0.55"/>
<line x1="397.97" y1="216.7" x2="397.97" y2="221" stroke="#C26F87" stroke-width="0.55"/>
<rect x="395.87" y="211.9" width="4.2" height="4.8" fill="#fff" stroke="#C26F87" stroke-width="0.55"/>
<line x1="395.87" y1="214.3" x2="400.07" y2="214.3" stroke="#C26F87" stroke-width="0.7"/>
<line x1="402.17" y1="208.5" x2="402.17" y2="212.6" stroke="#9FD17F" stroke-width="0.55"/>
<line x1="402.17" y1="217.4" x2="402.17" y2="224.6" stroke="#9FD17F" stroke-width="0.55"/>
<rect x="400.07" y="212.6" width="4.2" height="4.8" fill="#fff" stroke="#9FD17F" stroke-width="0.55"/>
<line x1="400.07" y1="214.8" x2="404.27" y2="214.8" stroke="#9FD17F" stroke-width="0.7"/>
<text x="400.07" y="196.61" font-size="7.6" text-anchor="middle" fill="#222" font-weight="bold">***</text>
<text x="399.07" y="289.2" font-size="5.6" text-anchor="end" fill="#222" font-weight="normal" stroke="#222" stroke-width="0.18" transform="rotate(-50 399.07 289.2)" dominant-baseline="hanging">Immature DC</text>
<line x1="410.56" y1="285.3" x2="410.56" y2="286.8" stroke="#444" stroke-width="0.45"/>
<line x1="408.46" y1="197" x2="408.46" y2="203" stroke="#C26F87" stroke-width="0.55"/>
<line x1="408.46" y1="210.2" x2="408.46" y2="221" stroke="#C26F87" stroke-width="0.55"/>
<rect x="406.36" y="203" width="4.2" height="7.2" fill="#fff" stroke="#C26F87" stroke-width="0.55"/>
<line x1="406.36" y1="206.6" x2="410.56" y2="206.6" stroke="#C26F87" stroke-width="0.7"/>
<line x1="412.66" y1="198.2" x2="412.66" y2="204.7" stroke="#9FD17F" stroke-width="0.55"/>
<line x1="412.66" y1="213.3" x2="412.66" y2="223.4" stroke="#9FD17F" stroke-width="0.55"/>
<rect x="410.56" y="204.7" width="4.2" height="8.6" fill="#fff" stroke="#9FD17F" stroke-width="0.55"/>
<line x1="410.56" y1="209" x2="414.76" y2="209" stroke="#9FD17F" stroke-width="0.7"/>
<text x="410.56" y="196.61" font-size="7.6" text-anchor="middle" fill="#222" font-weight="bold">***</text>
<text x="409.56" y="289.2" font-size="5.6" text-anchor="end" fill="#222" font-weight="normal" stroke="#222" stroke-width="0.18" transform="rotate(-50 409.56 289.2)" dominant-baseline="hanging">MDSC</text>
<line x1="421.05" y1="285.3" x2="421.05" y2="286.8" stroke="#444" stroke-width="0.45"/>
<line x1="418.95" y1="218.6" x2="418.95" y2="226.6" stroke="#C26F87" stroke-width="0.55"/>
<line x1="418.95" y1="234.2" x2="418.95" y2="243.9" stroke="#C26F87" stroke-width="0.55"/>
<rect x="416.85" y="226.6" width="4.2" height="7.6" fill="#fff" stroke="#C26F87" stroke-width="0.55"/>
<line x1="416.85" y1="230.2" x2="421.05" y2="230.2" stroke="#C26F87" stroke-width="0.7"/>
<line x1="423.15" y1="217.4" x2="423.15" y2="227.8" stroke="#9FD17F" stroke-width="0.55"/>
<line x1="423.15" y1="236.7" x2="423.15" y2="249.4" stroke="#9FD17F" stroke-width="0.55"/>
<rect x="421.05" y="227.8" width="4.2" height="8.9" fill="#fff" stroke="#9FD17F" stroke-width="0.55"/>
<line x1="421.05" y1="231.8" x2="425.25" y2="231.8" stroke="#9FD17F" stroke-width="0.7"/>
<text x="421.05" y="196.61" font-size="7.6" text-anchor="middle" fill="#222" font-weight="bold">***</text>
<text x="420.05" y="289.2" font-size="5.6" text-anchor="end" fill="#222" font-weight="normal" stroke="#222" stroke-width="0.18" transform="rotate(-50 420.05 289.2)" dominant-baseline="hanging">Macrophage</text>
<line x1="431.53" y1="285.3" x2="431.53" y2="286.8" stroke="#444" stroke-width="0.45"/>
<line x1="429.43" y1="211.4" x2="429.43" y2="223.4" stroke="#C26F87" stroke-width="0.55"/>
<line x1="429.43" y1="235.4" x2="429.43" y2="248.7" stroke="#C26F87" stroke-width="0.55"/>
<rect x="427.33" y="223.4" width="4.2" height="12" fill="#fff" stroke="#C26F87" stroke-width="0.55"/>
<line x1="427.33" y1="228.2" x2="431.53" y2="228.2" stroke="#C26F87" stroke-width="0.7"/>
<line x1="433.63" y1="218.6" x2="433.63" y2="225.4" stroke="#9FD17F" stroke-width="0.55"/>
<line x1="433.63" y1="236.7" x2="433.63" y2="254.7" stroke="#9FD17F" stroke-width="0.55"/>
<rect x="431.53" y="225.4" width="4.2" height="11.3" fill="#fff" stroke="#9FD17F" stroke-width="0.55"/>
<line x1="431.53" y1="231.4" x2="435.73" y2="231.4" stroke="#9FD17F" stroke-width="0.7"/>
<text x="431.53" y="196.61" font-size="7.6" text-anchor="middle" fill="#222" font-weight="bold">***</text>
<text x="430.53" y="289.2" font-size="5.6" text-anchor="end" fill="#222" font-weight="normal" stroke="#222" stroke-width="0.18" transform="rotate(-50 430.53 289.2)" dominant-baseline="hanging">Mast cell</text>
<line x1="442.02" y1="285.3" x2="442.02" y2="286.8" stroke="#444" stroke-width="0.45"/>
<line x1="439.92" y1="207.8" x2="439.92" y2="211.4" stroke="#C26F87" stroke-width="0.55"/>
<line x1="439.92" y1="216.2" x2="439.92" y2="222.2" stroke="#C26F87" stroke-width="0.55"/>
<rect x="437.82" y="211.4" width="4.2" height="4.8" fill="#fff" stroke="#C26F87" stroke-width="0.55"/>
<line x1="437.82" y1="213.8" x2="442.02" y2="213.8" stroke="#C26F87" stroke-width="0.7"/>
<line x1="444.12" y1="207.8" x2="444.12" y2="211.9" stroke="#9FD17F" stroke-width="0.55"/>
<line x1="444.12" y1="217" x2="444.12" y2="223.4" stroke="#9FD17F" stroke-width="0.55"/>
<rect x="442.02" y="211.9" width="4.2" height="5.1" fill="#fff" stroke="#9FD17F" stroke-width="0.55"/>
<line x1="442.02" y1="214.3" x2="446.22" y2="214.3" stroke="#9FD17F" stroke-width="0.7"/>
<text x="442.02" y="196.61" font-size="7.6" text-anchor="middle" fill="#222" font-weight="bold">*</text>
<text x="441.15" y="289.12" font-size="5.6" text-anchor="end" fill="#222" font-weight="normal" stroke="#222" stroke-width="0.18" transform="rotate(-50 441.15 289.12)" dominant-baseline="hanging">Monocyte</text>
<line x1="452.5" y1="285.3" x2="452.5" y2="286.8" stroke="#444" stroke-width="0.45"/>
<line x1="450.4" y1="221" x2="450.4" y2="229" stroke="#C26F87" stroke-width="0.55"/>
<line x1="450.4" y1="235.4" x2="450.4" y2="243.9" stroke="#C26F87" stroke-width="0.55"/>
<rect x="448.3" y="229" width="4.2" height="6.4" fill="#fff" stroke="#C26F87" stroke-width="0.55"/>
<line x1="448.3" y1="232.1" x2="452.5" y2="232.1" stroke="#C26F87" stroke-width="0.7"/>
<line x1="454.6" y1="224.6" x2="454.6" y2="230.6" stroke="#9FD17F" stroke-width="0.55"/>
<line x1="454.6" y1="237.4" x2="454.6" y2="246.3" stroke="#9FD17F" stroke-width="0.55"/>
<rect x="452.5" y="230.6" width="4.2" height="6.8" fill="#fff" stroke="#9FD17F" stroke-width="0.55"/>
<line x1="452.5" y1="234.2" x2="456.7" y2="234.2" stroke="#9FD17F" stroke-width="0.7"/>
<text x="452.5" y="196.61" font-size="7.6" text-anchor="middle" fill="#222" font-weight="bold">***</text>
<text x="451.76" y="289.04" font-size="5.6" text-anchor="end" fill="#222" font-weight="normal" stroke="#222" stroke-width="0.18" transform="rotate(-50 451.76 289.04)" dominant-baseline="hanging">Natural killer T cell</text>
<line x1="462.99" y1="285.3" x2="462.99" y2="286.8" stroke="#444" stroke-width="0.45"/>
<line x1="460.89" y1="212.6" x2="460.89" y2="217" stroke="#C26F87" stroke-width="0.55"/>
<line x1="460.89" y1="221.5" x2="460.89" y2="227" stroke="#C26F87" stroke-width="0.55"/>
<rect x="458.79" y="217" width="4.2" height="4.5" fill="#fff" stroke="#C26F87" stroke-width="0.55"/>
<line x1="458.79" y1="219.1" x2="462.99" y2="219.1" stroke="#C26F87" stroke-width="0.7"/>
<line x1="465.09" y1="213.8" x2="465.09" y2="218.2" stroke="#9FD17F" stroke-width="0.55"/>
<line x1="465.09" y1="223.4" x2="465.09" y2="229.4" stroke="#9FD17F" stroke-width="0.55"/>
<rect x="462.99" y="218.2" width="4.2" height="5.2" fill="#fff" stroke="#9FD17F" stroke-width="0.55"/>
<line x1="462.99" y1="220.5" x2="467.19" y2="220.5" stroke="#9FD17F" stroke-width="0.7"/>
<text x="462.99" y="196.61" font-size="7.6" text-anchor="middle" fill="#222" font-weight="bold">***</text>
<text x="462.38" y="288.97" font-size="5.6" text-anchor="end" fill="#222" font-weight="normal" stroke="#222" stroke-width="0.18" transform="rotate(-50 462.38 288.97)" dominant-baseline="hanging">Natural killer cell</text>
<line x1="473.48" y1="285.3" x2="473.48" y2="286.8" stroke="#444" stroke-width="0.45"/>
<line x1="471.38" y1="223.4" x2="471.38" y2="238.3" stroke="#C26F87" stroke-width="0.55"/>
<line x1="471.38" y1="249.4" x2="471.38" y2="266" stroke="#C26F87" stroke-width="0.55"/>
<rect x="469.28" y="238.3" width="4.2" height="11.1" fill="#fff" stroke="#C26F87" stroke-width="0.55"/>
<line x1="469.28" y1="242.7" x2="473.48" y2="242.7" stroke="#C26F87" stroke-width="0.7"/>
<line x1="475.58" y1="224.6" x2="475.58" y2="241.5" stroke="#9FD17F" stroke-width="0.55"/>
<line x1="475.58" y1="253.5" x2="475.58" y2="267" stroke="#9FD17F" stroke-width="0.55"/>
<rect x="473.48" y="241.5" width="4.2" height="12" fill="#fff" stroke="#9FD17F" stroke-width="0.55"/>
<line x1="473.48" y1="247.5" x2="477.68" y2="247.5" stroke="#9FD17F" stroke-width="0.7"/>
<text x="473.48" y="196.61" font-size="7.6" text-anchor="middle" fill="#222" font-weight="bold">***</text>
<text x="473" y="288.89" font-size="5.6" text-anchor="end" fill="#222" font-weight="normal" stroke="#222" stroke-width="0.18" transform="rotate(-50 473 288.89)" dominant-baseline="hanging">Neutrophil</text>
<line x1="483.96" y1="285.3" x2="483.96" y2="286.8" stroke="#444" stroke-width="0.45"/>
<line x1="481.86" y1="212.6" x2="481.86" y2="217" stroke="#C26F87" stroke-width="0.55"/>
<line x1="481.86" y1="221.5" x2="481.86" y2="224.6" stroke="#C26F87" stroke-width="0.55"/>
<rect x="479.76" y="217" width="4.2" height="4.5" fill="#fff" stroke="#C26F87" stroke-width="0.55"/>
<line x1="479.76" y1="219.1" x2="483.96" y2="219.1" stroke="#C26F87" stroke-width="0.7"/>
<line x1="486.06" y1="215" x2="486.06" y2="218.2" stroke="#9FD17F" stroke-width="0.55"/>
<line x1="486.06" y1="222.2" x2="486.06" y2="227" stroke="#9FD17F" stroke-width="0.55"/>
<rect x="483.96" y="218.2" width="4.2" height="4" fill="#fff" stroke="#9FD17F" stroke-width="0.55"/>
<line x1="483.96" y1="219.8" x2="488.16" y2="219.8" stroke="#9FD17F" stroke-width="0.7"/>
<text x="483.96" y="196.61" font-size="7.6" text-anchor="middle" fill="#222" font-weight="bold">***</text>
<text x="483.61" y="288.81" font-size="5.6" text-anchor="end" fill="#222" font-weight="normal" stroke="#222" stroke-width="0.18" transform="rotate(-50 483.61 288.81)" dominant-baseline="hanging">Plasmacytoid DC</text>
<line x1="494.45" y1="285.3" x2="494.45" y2="286.8" stroke="#444" stroke-width="0.45"/>
<line x1="492.35" y1="201.7" x2="492.35" y2="209.5" stroke="#C26F87" stroke-width="0.55"/>
<line x1="492.35" y1="217" x2="492.35" y2="228.7" stroke="#C26F87" stroke-width="0.55"/>
<rect x="490.25" y="209.5" width="4.2" height="7.5" fill="#fff" stroke="#C26F87" stroke-width="0.55"/>
<line x1="490.25" y1="213.4" x2="494.45" y2="213.4" stroke="#C26F87" stroke-width="0.7"/>
<line x1="496.55" y1="204.4" x2="496.55" y2="212.5" stroke="#9FD17F" stroke-width="0.55"/>
<line x1="496.55" y1="222.4" x2="496.55" y2="235" stroke="#9FD17F" stroke-width="0.55"/>
<rect x="494.45" y="212.5" width="4.2" height="9.9" fill="#fff" stroke="#9FD17F" stroke-width="0.55"/>
<line x1="494.45" y1="217" x2="498.65" y2="217" stroke="#9FD17F" stroke-width="0.7"/>
<text x="494.45" y="196.61" font-size="7.6" text-anchor="middle" fill="#222" font-weight="bold">***</text>
<text x="494.23" y="288.73" font-size="5.6" text-anchor="end" fill="#222" font-weight="normal" stroke="#222" stroke-width="0.18" transform="rotate(-50 494.23 288.73)" dominant-baseline="hanging">Treg cell</text>
<line x1="504.93" y1="285.3" x2="504.93" y2="286.8" stroke="#444" stroke-width="0.45"/>
<line x1="502.83" y1="217" x2="502.83" y2="223.3" stroke="#C26F87" stroke-width="0.55"/>
<line x1="502.83" y1="229.3" x2="502.83" y2="238.6" stroke="#C26F87" stroke-width="0.55"/>
<rect x="500.73" y="223.3" width="4.2" height="6" fill="#fff" stroke="#C26F87" stroke-width="0.55"/>
<line x1="500.73" y1="226" x2="504.93" y2="226" stroke="#C26F87" stroke-width="0.7"/>
<line x1="507.03" y1="217" x2="507.03" y2="224.2" stroke="#9FD17F" stroke-width="0.55"/>
<line x1="507.03" y1="231.4" x2="507.03" y2="241.4" stroke="#9FD17F" stroke-width="0.55"/>
<rect x="504.93" y="224.2" width="4.2" height="7.2" fill="#fff" stroke="#9FD17F" stroke-width="0.55"/>
<line x1="504.93" y1="227.5" x2="509.13" y2="227.5" stroke="#9FD17F" stroke-width="0.7"/>
<text x="504.93" y="196.61" font-size="7.6" text-anchor="middle" fill="#222" font-weight="bold">***</text>
<text x="504.84" y="288.65" font-size="5.6" text-anchor="end" fill="#222" font-weight="normal" stroke="#222" stroke-width="0.18" transform="rotate(-50 504.84 288.65)" dominant-baseline="hanging">Follicular Th cell</text>
<line x1="515.42" y1="285.3" x2="515.42" y2="286.8" stroke="#444" stroke-width="0.45"/>
<line x1="513.32" y1="217" x2="513.32" y2="222" stroke="#C26F87" stroke-width="0.55"/>
<line x1="513.32" y1="227.8" x2="513.32" y2="234.1" stroke="#C26F87" stroke-width="0.55"/>
<rect x="511.22" y="222" width="4.2" height="5.8" fill="#fff" stroke="#C26F87" stroke-width="0.55"/>
<line x1="511.22" y1="224.6" x2="515.42" y2="224.6" stroke="#C26F87" stroke-width="0.7"/>
<line x1="517.52" y1="216.7" x2="517.52" y2="223.3" stroke="#9FD17F" stroke-width="0.55"/>
<line x1="517.52" y1="229.6" x2="517.52" y2="238.3" stroke="#9FD17F" stroke-width="0.55"/>
<rect x="515.42" y="223.3" width="4.2" height="6.3" fill="#fff" stroke="#9FD17F" stroke-width="0.55"/>
<line x1="515.42" y1="226.2" x2="519.62" y2="226.2" stroke="#9FD17F" stroke-width="0.7"/>
<text x="515.42" y="196.61" font-size="7.6" text-anchor="middle" fill="#222" font-weight="bold">***</text>
<text x="515.46" y="288.58" font-size="5.6" text-anchor="end" fill="#222" font-weight="normal" stroke="#222" stroke-width="0.18" transform="rotate(-50 515.46 288.58)" dominant-baseline="hanging">Type1 Th cell</text>
<line x1="525.91" y1="285.3" x2="525.91" y2="286.8" stroke="#444" stroke-width="0.45"/>
<line x1="523.81" y1="225.1" x2="523.81" y2="232.3" stroke="#C26F87" stroke-width="0.55"/>
<line x1="523.81" y1="238.3" x2="523.81" y2="245" stroke="#C26F87" stroke-width="0.55"/>
<rect x="521.71" y="232.3" width="4.2" height="6" fill="#fff" stroke="#C26F87" stroke-width="0.55"/>
<line x1="521.71" y1="235" x2="525.91" y2="235" stroke="#C26F87" stroke-width="0.7"/>
<line x1="528.01" y1="225.1" x2="528.01" y2="233.2" stroke="#9FD17F" stroke-width="0.55"/>
<line x1="528.01" y1="240" x2="528.01" y2="248.6" stroke="#9FD17F" stroke-width="0.55"/>
<rect x="525.91" y="233.2" width="4.2" height="6.8" fill="#fff" stroke="#9FD17F" stroke-width="0.55"/>
<line x1="525.91" y1="236.5" x2="530.11" y2="236.5" stroke="#9FD17F" stroke-width="0.7"/>
<text x="525.91" y="196.61" font-size="7.6" text-anchor="middle" fill="#222" font-weight="bold">***</text>
<text x="526.08" y="288.5" font-size="5.6" text-anchor="end" fill="#222" font-weight="normal" stroke="#222" stroke-width="0.18" transform="rotate(-50 526.08 288.5)" dominant-baseline="hanging">Type17 Th cell</text>
<line x1="536.39" y1="285.3" x2="536.39" y2="286.8" stroke="#444" stroke-width="0.45"/>
<line x1="534.29" y1="214.3" x2="534.29" y2="220.3" stroke="#C26F87" stroke-width="0.55"/>
<line x1="534.29" y1="225.1" x2="534.29" y2="230.5" stroke="#C26F87" stroke-width="0.55"/>
<rect x="532.19" y="220.3" width="4.2" height="4.8" fill="#fff" stroke="#C26F87" stroke-width="0.55"/>
<line x1="532.19" y1="222.4" x2="536.39" y2="222.4" stroke="#C26F87" stroke-width="0.7"/>
<line x1="538.49" y1="215.2" x2="538.49" y2="221" stroke="#9FD17F" stroke-width="0.55"/>
<line x1="538.49" y1="227" x2="538.49" y2="233.2" stroke="#9FD17F" stroke-width="0.55"/>
<rect x="536.39" y="221" width="4.2" height="6" fill="#fff" stroke="#9FD17F" stroke-width="0.55"/>
<line x1="536.39" y1="223.9" x2="540.59" y2="223.9" stroke="#9FD17F" stroke-width="0.7"/>
<text x="536.39" y="196.61" font-size="7.6" text-anchor="middle" fill="#222" font-weight="bold">***</text>
<text x="536.69" y="288.42" font-size="5.6" text-anchor="end" fill="#222" font-weight="normal" stroke="#222" stroke-width="0.18" transform="rotate(-50 536.69 288.42)" dominant-baseline="hanging">Type2 Th cell</text>
</svg>
</body></html>
